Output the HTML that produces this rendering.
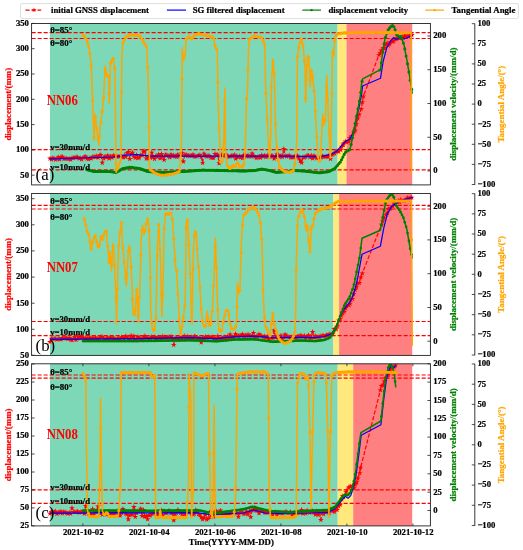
<!DOCTYPE html>
<html><head><meta charset="utf-8"><title>GNSS displacement</title>
<style>html,body{margin:0;padding:0;background:#fff}svg{display:block}</style></head>
<body>
<svg width="523" height="550" viewBox="0 0 523 550">
<rect width="523" height="550" fill="#fff"/>
<rect x="20.6" y="3.6" width="497.8" height="15" rx="1.5" fill="#fff" stroke="#d4d4d4" stroke-width="0.8"/>
<line x1="25.5" y1="10.1" x2="41.2" y2="10.1" stroke="#f00" stroke-width="1.2" stroke-dasharray="4.1 1.9"/>
<path d="M34.0,7.5L34.6,9.3L36.5,9.3L35.0,10.4L35.5,12.2L34.0,11.1L32.5,12.2L33.0,10.4L31.5,9.3L33.4,9.3Z" fill="#f00"/>
<line x1="166.9" y1="10.1" x2="186" y2="10.1" stroke="#00f" stroke-width="1.2"/>
<line x1="302.3" y1="10.1" x2="321" y2="10.1" stroke="#008000" stroke-width="1.2"/><circle cx="311.6" cy="10.1" r="1.2" fill="#008000"/>
<line x1="425.3" y1="10.1" x2="444" y2="10.1" stroke="#ffa500" stroke-width="1.2"/><circle cx="434.6" cy="10.1" r="1.2" fill="#ffa500"/>
<text x="51.0" y="13.0" font-family="Liberation Serif, serif" font-weight="bold" font-size="9.1" fill="#000" stroke="#000" stroke-width="0.22" textLength="97.9" lengthAdjust="spacingAndGlyphs">initial GNSS displacement</text>
<text x="192.7" y="13.0" font-family="Liberation Serif, serif" font-weight="bold" font-size="9.1" fill="#000" stroke="#000" stroke-width="0.22" textLength="91.9" lengthAdjust="spacingAndGlyphs">SG filtered displacement</text>
<text x="328.4" y="13.0" font-family="Liberation Serif, serif" font-weight="bold" font-size="9.1" fill="#000" stroke="#000" stroke-width="0.22" textLength="79.7" lengthAdjust="spacingAndGlyphs">displacement velocity</text>
<text x="451.5" y="13.0" font-family="Liberation Serif, serif" font-weight="bold" font-size="9.1" fill="#000" stroke="#000" stroke-width="0.22" textLength="63.9" lengthAdjust="spacingAndGlyphs">Tangential Angle</text>
<clipPath id="c0"><rect x="31.6" y="23.5" width="398.8" height="161.4"/></clipPath>
<rect x="50.0" y="23.5" width="287.6" height="161.4" fill="#7cd8b6"/>
<rect x="337.6" y="23.5" width="8.9" height="161.4" fill="#ffe87c"/>
<rect x="346.5" y="23.5" width="65.7" height="161.4" fill="#ff8080"/>
<g clip-path="url(#c0)">
<line x1="31.6" y1="32.6" x2="430.4" y2="32.6" stroke="#f00" stroke-width="1.2" stroke-dasharray="4.1 1.9"/>
<line x1="31.6" y1="38.5" x2="430.4" y2="38.5" stroke="#f00" stroke-width="1.2" stroke-dasharray="4.1 1.9"/>
<line x1="31.6" y1="149.7" x2="430.4" y2="149.7" stroke="#f00" stroke-width="1.2" stroke-dasharray="4.1 1.9"/>
<line x1="31.6" y1="169.8" x2="430.4" y2="169.8" stroke="#f00" stroke-width="1.2" stroke-dasharray="4.1 1.9"/>
<polyline points="50.0,158.5 51.4,159.3 52.8,157.8 54.1,158.5 55.5,159.7 56.9,158.9 58.2,156.9 59.6,159.4 61.0,156.8 62.4,156.7 63.8,158.7 65.1,158.4 66.5,158.7 67.9,158.7 69.2,158.8 70.6,159.4 72.0,157.9 73.4,158.1 74.8,157.7 76.1,157.1 77.5,157.3 78.9,158.3 80.2,158.0 81.6,159.3 83.0,157.8 84.4,157.1 85.8,156.4 87.1,158.6 88.5,159.2 89.9,158.1 91.2,158.3 92.6,157.0 94.0,156.6 95.4,157.0 96.8,156.0 98.1,157.7 99.5,155.5 100.9,154.8 102.2,162.7 103.6,158.3 105.0,156.5 106.4,157.2 107.8,155.4 109.1,158.5 110.5,156.4 111.9,157.5 113.2,155.5 114.6,156.3 116.0,156.0 117.4,156.9 118.8,156.5 120.1,156.2 121.5,156.0 122.9,157.5 124.2,155.3 125.6,157.0 127.0,153.2 128.4,151.9 129.8,159.0 131.1,153.9 132.5,152.6 133.9,156.7 135.2,157.8 136.6,154.9 138.0,158.0 139.4,157.5 140.8,154.9 142.1,155.2 143.5,151.6 144.9,151.2 146.2,158.4 147.6,158.3 149.0,155.9 150.4,157.9 151.8,152.6 153.1,157.1 154.5,159.0 155.9,155.9 157.2,156.7 158.6,154.4 160.0,158.4 161.4,154.0 162.8,157.2 164.1,159.8 165.5,154.7 166.9,154.9 168.2,156.2 169.6,157.2 171.0,154.4 172.4,156.2 173.8,155.4 175.1,156.3 176.5,156.8 177.9,154.5 179.2,156.6 180.6,156.4 182.0,153.0 183.4,161.5 184.8,154.9 186.1,154.5 187.5,156.0 188.9,155.5 190.2,155.9 191.6,155.8 193.0,154.4 194.4,156.6 195.8,156.5 197.1,156.2 198.5,155.4 199.9,154.9 201.2,156.8 202.6,162.8 204.0,153.7 205.4,155.8 206.8,156.5 208.1,155.5 209.5,156.2 210.9,157.6 212.2,157.8 213.6,157.9 215.0,154.1 216.4,154.9 217.8,154.8 219.1,163.2 220.5,154.6 221.9,154.9 223.2,155.7 224.6,155.7 226.0,154.8 227.4,155.8 228.8,156.7 230.1,156.3 231.5,155.8 232.9,156.1 234.2,154.7 235.6,158.7 237.0,155.8 238.4,157.3 239.8,156.0 241.1,157.4 242.5,158.1 243.9,154.9 245.2,155.1 246.6,156.6 248.0,155.3 249.4,156.4 250.8,156.5 252.1,153.5 253.5,156.0 254.9,156.6 256.2,158.0 257.6,157.3 259.0,156.4 260.4,157.8 261.8,155.2 263.1,156.6 264.5,155.5 265.9,157.1 267.2,155.2 268.6,156.0 270.0,156.8 271.4,155.7 272.8,155.8 274.1,158.5 275.5,157.1 276.9,154.2 278.2,155.0 279.6,156.9 281.0,155.8 282.4,157.0 283.8,149.0 285.1,155.7 286.5,156.5 287.9,155.9 289.2,155.5 290.6,157.4 292.0,157.2 293.4,157.3 294.8,156.5 296.1,156.6 297.5,155.7 298.9,158.1 300.2,160.5 301.6,162.6 303.0,156.9 304.4,157.6 305.8,156.9 307.1,155.4 308.5,155.4 309.9,157.3 311.2,155.4 312.6,158.3 314.0,155.7 315.4,157.1 316.8,158.2 318.1,157.4 319.5,158.4 320.9,157.5 322.2,156.0 323.6,156.8 325.0,156.4 326.4,156.6 327.8,156.7 329.1,154.9 330.5,158.8 331.9,154.7 333.1,154.2 334.6,153.3 336.1,152.1 337.1,151.0 338.6,151.5 340.8,149.9 341.6,146.7 343.3,144.5 343.8,143.1 345.6,141.4 346.9,142.4 348.7,141.6 349.7,138.1 350.7,139.0 351.8,136.1 353.9,132.7 355.3,130.3 356.4,124.3 357.8,118.4 359.3,114.4 361.2,109.0 362.4,102.2 363.4,96.3 379.0,54.8 380.0,53.2 381.3,50.4 383.3,48.1 384.4,48.2 385.5,45.1 387.1,43.2 388.3,45.5 389.7,44.1 390.4,42.0 393.0,41.8 393.7,40.6 395.0,39.4 396.3,38.9 397.6,37.7 399.1,38.0 400.3,38.0 402.1,37.3 403.4,38.0 404.7,35.6 405.6,36.4 407.9,35.6 408.8,35.6 410.0,35.0 411.9,35.0" fill="none" stroke="#f00" stroke-width="1.2" stroke-dasharray="4.1 1.9"/>
<path fill="#f00" d="M50.0,155.5L50.7,157.6L52.9,157.6L51.1,158.9L51.8,161.0L50.0,159.7L48.2,161.0L48.9,158.9L47.1,157.6L49.3,157.6ZM51.4,156.3L52.1,158.3L54.2,158.3L52.5,159.6L53.1,161.7L51.4,160.4L49.6,161.7L50.3,159.6L48.5,158.3L50.7,158.3ZM52.8,154.8L53.4,156.9L55.6,156.9L53.8,158.2L54.5,160.2L52.8,158.9L51.0,160.2L51.7,158.2L49.9,156.9L52.1,156.9ZM54.1,155.5L54.8,157.5L57.0,157.5L55.2,158.8L55.9,160.9L54.1,159.6L52.4,160.9L53.0,158.8L51.3,157.5L53.4,157.5ZM55.5,156.7L56.2,158.8L58.4,158.8L56.6,160.0L57.3,162.1L55.5,160.8L53.7,162.1L54.4,160.0L52.6,158.8L54.8,158.8ZM56.9,155.9L57.6,157.9L59.7,157.9L58.0,159.2L58.6,161.3L56.9,160.0L55.1,161.3L55.8,159.2L54.0,157.9L56.2,157.9ZM58.2,153.9L58.9,156.0L61.1,156.0L59.3,157.3L60.0,159.3L58.2,158.1L56.5,159.3L57.2,157.3L55.4,156.0L57.6,156.0ZM59.6,156.4L60.3,158.5L62.5,158.5L60.7,159.8L61.4,161.8L59.6,160.5L57.9,161.8L58.5,159.8L56.8,158.5L58.9,158.5ZM61.0,153.8L61.7,155.9L63.9,155.9L62.1,157.2L62.8,159.2L61.0,158.0L59.2,159.2L59.9,157.2L58.1,155.9L60.3,155.9ZM62.4,153.7L63.1,155.8L65.2,155.8L63.5,157.1L64.1,159.2L62.4,157.9L60.6,159.2L61.3,157.1L59.5,155.8L61.7,155.8ZM63.8,155.7L64.4,157.8L66.6,157.8L64.8,159.1L65.5,161.2L63.8,159.9L62.0,161.2L62.7,159.1L60.9,157.8L63.1,157.8ZM65.1,155.4L65.8,157.4L68.0,157.4L66.2,158.7L66.9,160.8L65.1,159.5L63.4,160.8L64.0,158.7L62.3,157.4L64.4,157.4ZM66.5,155.7L67.2,157.7L69.4,157.7L67.6,159.0L68.3,161.1L66.5,159.8L64.7,161.1L65.4,159.0L63.6,157.7L65.8,157.7ZM67.9,155.7L68.6,157.8L70.7,157.8L69.0,159.1L69.6,161.1L67.9,159.9L66.1,161.1L66.8,159.1L65.0,157.8L67.2,157.8ZM69.2,155.8L69.9,157.9L72.1,157.9L70.3,159.2L71.0,161.3L69.2,160.0L67.5,161.3L68.2,159.2L66.4,157.9L68.6,157.9ZM70.6,156.4L71.3,158.5L73.5,158.5L71.7,159.8L72.4,161.9L70.6,160.6L68.9,161.9L69.5,159.8L67.8,158.5L69.9,158.5ZM72.0,154.9L72.7,156.9L74.9,156.9L73.1,158.2L73.8,160.3L72.0,159.0L70.2,160.3L70.9,158.2L69.1,156.9L71.3,156.9ZM73.4,155.1L74.1,157.1L76.2,157.1L74.5,158.4L75.1,160.5L73.4,159.2L71.6,160.5L72.3,158.4L70.5,157.1L72.7,157.1ZM74.8,154.7L75.4,156.8L77.6,156.8L75.8,158.0L76.5,160.1L74.8,158.8L73.0,160.1L73.7,158.0L71.9,156.8L74.1,156.8ZM76.1,154.1L76.8,156.2L79.0,156.2L77.2,157.5L77.9,159.6L76.1,158.3L74.4,159.6L75.0,157.5L73.3,156.2L75.4,156.2ZM77.5,154.3L78.2,156.3L80.4,156.3L78.6,157.6L79.3,159.7L77.5,158.4L75.7,159.7L76.4,157.6L74.6,156.3L76.8,156.3ZM78.9,155.3L79.6,157.3L81.7,157.3L80.0,158.6L80.6,160.7L78.9,159.4L77.1,160.7L77.8,158.6L76.0,157.3L78.2,157.3ZM80.2,155.0L80.9,157.1L83.1,157.1L81.3,158.4L82.0,160.5L80.2,159.2L78.5,160.5L79.2,158.4L77.4,157.1L79.6,157.1ZM81.6,156.3L82.3,158.3L84.5,158.3L82.7,159.6L83.4,161.7L81.6,160.4L79.9,161.7L80.5,159.6L78.8,158.3L80.9,158.3ZM83.0,154.8L83.7,156.9L85.9,156.9L84.1,158.2L84.8,160.2L83.0,159.0L81.2,160.2L81.9,158.2L80.1,156.9L82.3,156.9ZM84.4,154.1L85.1,156.1L87.2,156.1L85.5,157.4L86.1,159.5L84.4,158.2L82.6,159.5L83.3,157.4L81.5,156.1L83.7,156.1ZM85.8,153.4L86.4,155.4L88.6,155.4L86.8,156.7L87.5,158.8L85.8,157.5L84.0,158.8L84.7,156.7L82.9,155.4L85.1,155.4ZM87.1,155.6L87.8,157.7L90.0,157.7L88.2,159.0L88.9,161.0L87.1,159.8L85.4,161.0L86.0,159.0L84.3,157.7L86.4,157.7ZM88.5,156.2L89.2,158.3L91.4,158.3L89.6,159.5L90.3,161.6L88.5,160.3L86.7,161.6L87.4,159.5L85.6,158.3L87.8,158.3ZM89.9,155.1L90.6,157.1L92.7,157.1L91.0,158.4L91.6,160.5L89.9,159.2L88.1,160.5L88.8,158.4L87.0,157.1L89.2,157.1ZM91.2,155.3L91.9,157.3L94.1,157.3L92.3,158.6L93.0,160.7L91.2,159.4L89.5,160.7L90.2,158.6L88.4,157.3L90.6,157.3ZM92.6,154.0L93.3,156.1L95.5,156.1L93.7,157.4L94.4,159.4L92.6,158.2L90.9,159.4L91.5,157.4L89.8,156.1L91.9,156.1ZM94.0,153.6L94.7,155.7L96.9,155.7L95.1,157.0L95.8,159.0L94.0,157.8L92.2,159.0L92.9,157.0L91.1,155.7L93.3,155.7ZM95.4,154.0L96.1,156.1L98.2,156.1L96.5,157.4L97.1,159.4L95.4,158.2L93.6,159.4L94.3,157.4L92.5,156.1L94.7,156.1ZM96.8,153.0L97.4,155.1L99.6,155.1L97.8,156.4L98.5,158.5L96.8,157.2L95.0,158.5L95.7,156.4L93.9,155.1L96.1,155.1ZM98.1,154.7L98.8,156.8L101.0,156.8L99.2,158.0L99.9,160.1L98.1,158.8L96.4,160.1L97.0,158.0L95.3,156.8L97.4,156.8ZM99.5,152.5L100.2,154.6L102.4,154.6L100.6,155.9L101.3,157.9L99.5,156.7L97.7,157.9L98.4,155.9L96.6,154.6L98.8,154.6ZM100.9,151.8L101.6,153.9L103.7,153.9L102.0,155.2L102.6,157.3L100.9,156.0L99.1,157.3L99.8,155.2L98.0,153.9L100.2,153.9ZM102.2,159.7L102.9,161.8L105.1,161.8L103.3,163.1L104.0,165.2L102.2,163.9L100.5,165.2L101.2,163.1L99.4,161.8L101.6,161.8ZM103.6,155.3L104.3,157.3L106.5,157.3L104.7,158.6L105.4,160.7L103.6,159.4L101.9,160.7L102.5,158.6L100.8,157.3L102.9,157.3ZM105.0,153.5L105.7,155.6L107.9,155.6L106.1,156.9L106.8,159.0L105.0,157.7L103.2,159.0L103.9,156.9L102.1,155.6L104.3,155.6ZM106.4,154.2L107.1,156.3L109.2,156.3L107.5,157.6L108.1,159.7L106.4,158.4L104.6,159.7L105.3,157.6L103.5,156.3L105.7,156.3ZM107.8,152.4L108.4,154.4L110.6,154.4L108.8,155.7L109.5,157.8L107.8,156.5L106.0,157.8L106.7,155.7L104.9,154.4L107.1,154.4ZM109.1,155.5L109.8,157.5L112.0,157.5L110.2,158.8L110.9,160.9L109.1,159.6L107.4,160.9L108.0,158.8L106.3,157.5L108.4,157.5ZM110.5,153.4L111.2,155.5L113.4,155.5L111.6,156.8L112.3,158.8L110.5,157.6L108.7,158.8L109.4,156.8L107.6,155.5L109.8,155.5ZM111.9,154.5L112.6,156.6L114.7,156.6L113.0,157.9L113.6,159.9L111.9,158.7L110.1,159.9L110.8,157.9L109.0,156.6L111.2,156.6ZM113.2,152.5L113.9,154.5L116.1,154.5L114.3,155.8L115.0,157.9L113.2,156.6L111.5,157.9L112.2,155.8L110.4,154.5L112.6,154.5ZM114.6,153.3L115.3,155.4L117.5,155.4L115.7,156.6L116.4,158.7L114.6,157.4L112.9,158.7L113.5,156.6L111.8,155.4L113.9,155.4ZM116.0,153.0L116.7,155.1L118.9,155.1L117.1,156.4L117.8,158.5L116.0,157.2L114.2,158.5L114.9,156.4L113.1,155.1L115.3,155.1ZM117.4,153.9L118.1,155.9L120.2,155.9L118.5,157.2L119.1,159.3L117.4,158.0L115.6,159.3L116.3,157.2L114.5,155.9L116.7,155.9ZM118.8,153.5L119.4,155.5L121.6,155.5L119.8,156.8L120.5,158.9L118.8,157.6L117.0,158.9L117.7,156.8L115.9,155.5L118.1,155.5ZM120.1,153.2L120.8,155.2L123.0,155.2L121.2,156.5L121.9,158.6L120.1,157.3L118.4,158.6L119.0,156.5L117.3,155.2L119.4,155.2ZM121.5,153.0L122.2,155.1L124.4,155.1L122.6,156.4L123.3,158.4L121.5,157.2L119.7,158.4L120.4,156.4L118.6,155.1L120.8,155.1ZM122.9,154.5L123.6,156.6L125.7,156.6L124.0,157.9L124.6,160.0L122.9,158.7L121.1,160.0L121.8,157.9L120.0,156.6L122.2,156.6ZM124.2,152.3L124.9,154.4L127.1,154.4L125.3,155.7L126.0,157.8L124.2,156.5L122.5,157.8L123.2,155.7L121.4,154.4L123.6,154.4ZM125.6,154.0L126.3,156.0L128.5,156.0L126.7,157.3L127.4,159.4L125.6,158.1L123.9,159.4L124.5,157.3L122.8,156.0L124.9,156.0ZM127.0,150.2L127.7,152.2L129.9,152.2L128.1,153.5L128.8,155.6L127.0,154.3L125.2,155.6L125.9,153.5L124.1,152.2L126.3,152.2ZM128.4,148.9L129.1,150.9L131.2,151.0L129.5,152.2L130.1,154.3L128.4,153.0L126.6,154.3L127.3,152.2L125.5,151.0L127.7,150.9ZM129.8,156.0L130.4,158.1L132.6,158.1L130.8,159.4L131.5,161.4L129.8,160.1L128.0,161.4L128.7,159.4L126.9,158.1L129.1,158.1ZM131.1,150.9L131.8,153.0L134.0,153.0L132.2,154.3L132.9,156.3L131.1,155.1L129.4,156.3L130.0,154.3L128.3,153.0L130.4,153.0ZM132.5,149.6L133.2,151.7L135.4,151.7L133.6,152.9L134.3,155.0L132.5,153.7L130.7,155.0L131.4,152.9L129.6,151.7L131.8,151.7ZM133.9,153.7L134.6,155.7L136.7,155.7L135.0,157.0L135.6,159.1L133.9,157.8L132.1,159.1L132.8,157.0L131.0,155.7L133.2,155.7ZM135.2,154.8L135.9,156.9L138.1,156.9L136.3,158.1L137.0,160.2L135.2,158.9L133.5,160.2L134.2,158.1L132.4,156.9L134.6,156.9ZM136.6,151.9L137.3,154.0L139.5,154.0L137.7,155.2L138.4,157.3L136.6,156.0L134.9,157.3L135.5,155.2L133.8,154.0L135.9,154.0ZM138.0,155.0L138.7,157.1L140.9,157.1L139.1,158.4L139.8,160.4L138.0,159.2L136.2,160.4L136.9,158.4L135.1,157.1L137.3,157.1ZM139.4,154.5L140.1,156.6L142.2,156.6L140.5,157.9L141.1,159.9L139.4,158.7L137.6,159.9L138.3,157.9L136.5,156.6L138.7,156.6ZM140.8,151.9L141.4,154.0L143.6,154.0L141.8,155.3L142.5,157.3L140.8,156.1L139.0,157.3L139.7,155.3L137.9,154.0L140.1,154.0ZM142.1,152.2L142.8,154.2L145.0,154.2L143.2,155.5L143.9,157.6L142.1,156.3L140.4,157.6L141.0,155.5L139.3,154.2L141.4,154.2ZM143.5,148.6L144.2,150.7L146.4,150.7L144.6,152.0L145.3,154.1L143.5,152.8L141.7,154.1L142.4,152.0L140.6,150.7L142.8,150.7ZM144.9,148.2L145.6,150.3L147.7,150.3L146.0,151.6L146.6,153.6L144.9,152.4L143.1,153.6L143.8,151.6L142.0,150.3L144.2,150.3ZM146.2,155.4L146.9,157.5L149.1,157.5L147.3,158.8L148.0,160.9L146.2,159.6L144.5,160.9L145.2,158.8L143.4,157.5L145.6,157.5ZM147.6,155.3L148.3,157.4L150.5,157.4L148.7,158.7L149.4,160.7L147.6,159.4L145.9,160.7L146.5,158.7L144.8,157.4L146.9,157.4ZM149.0,152.9L149.7,154.9L151.9,154.9L150.1,156.2L150.8,158.3L149.0,157.0L147.2,158.3L147.9,156.2L146.1,154.9L148.3,154.9ZM150.4,154.9L151.1,157.0L153.2,157.0L151.5,158.2L152.1,160.3L150.4,159.0L148.6,160.3L149.3,158.2L147.5,157.0L149.7,157.0ZM151.8,149.6L152.4,151.7L154.6,151.7L152.8,153.0L153.5,155.1L151.8,153.8L150.0,155.1L150.7,153.0L148.9,151.7L151.1,151.7ZM153.1,154.1L153.8,156.2L156.0,156.2L154.2,157.5L154.9,159.6L153.1,158.3L151.4,159.6L152.0,157.5L150.3,156.2L152.4,156.2ZM154.5,156.0L155.2,158.0L157.4,158.0L155.6,159.3L156.3,161.4L154.5,160.1L152.7,161.4L153.4,159.3L151.6,158.0L153.8,158.0ZM155.9,152.9L156.6,154.9L158.7,155.0L157.0,156.2L157.6,158.3L155.9,157.0L154.1,158.3L154.8,156.2L153.0,155.0L155.2,154.9ZM157.2,153.7L157.9,155.8L160.1,155.8L158.3,157.1L159.0,159.2L157.2,157.9L155.5,159.2L156.2,157.1L154.4,155.8L156.6,155.8ZM158.6,151.4L159.3,153.5L161.5,153.5L159.7,154.8L160.4,156.9L158.6,155.6L156.9,156.9L157.5,154.8L155.8,153.5L157.9,153.5ZM160.0,155.4L160.7,157.5L162.9,157.5L161.1,158.7L161.8,160.8L160.0,159.5L158.2,160.8L158.9,158.7L157.1,157.5L159.3,157.5ZM161.4,151.0L162.1,153.1L164.2,153.1L162.5,154.4L163.1,156.5L161.4,155.2L159.6,156.5L160.3,154.4L158.5,153.1L160.7,153.1ZM162.8,154.2L163.4,156.2L165.6,156.2L163.8,157.5L164.5,159.6L162.8,158.3L161.0,159.6L161.7,157.5L159.9,156.2L162.1,156.2ZM164.1,156.8L164.8,158.9L167.0,158.9L165.2,160.2L165.9,162.3L164.1,161.0L162.4,162.3L163.0,160.2L161.3,158.9L163.4,158.9ZM165.5,151.7L166.2,153.7L168.4,153.7L166.6,155.0L167.3,157.1L165.5,155.8L163.7,157.1L164.4,155.0L162.6,153.7L164.8,153.7ZM166.9,151.9L167.6,153.9L169.7,153.9L168.0,155.2L168.6,157.3L166.9,156.0L165.1,157.3L165.8,155.2L164.0,153.9L166.2,153.9ZM168.2,153.2L168.9,155.3L171.1,155.3L169.3,156.6L170.0,158.6L168.2,157.4L166.5,158.6L167.2,156.6L165.4,155.3L167.6,155.3ZM169.6,154.2L170.3,156.3L172.5,156.3L170.7,157.6L171.4,159.7L169.6,158.4L167.9,159.7L168.5,157.6L166.8,156.3L168.9,156.3ZM171.0,151.4L171.7,153.4L173.9,153.4L172.1,154.7L172.8,156.8L171.0,155.5L169.2,156.8L169.9,154.7L168.1,153.4L170.3,153.4ZM172.4,153.2L173.1,155.3L175.2,155.3L173.5,156.6L174.1,158.7L172.4,157.4L170.6,158.7L171.3,156.6L169.5,155.3L171.7,155.3ZM173.8,152.4L174.4,154.5L176.6,154.5L174.8,155.8L175.5,157.9L173.8,156.6L172.0,157.9L172.7,155.8L170.9,154.5L173.1,154.5ZM175.1,153.3L175.8,155.3L178.0,155.3L176.2,156.6L176.9,158.7L175.1,157.4L173.4,158.7L174.0,156.6L172.3,155.3L174.4,155.3ZM176.5,153.8L177.2,155.9L179.4,155.9L177.6,157.1L178.3,159.2L176.5,157.9L174.7,159.2L175.4,157.1L173.6,155.9L175.8,155.9ZM177.9,151.5L178.6,153.6L180.7,153.6L179.0,154.9L179.6,156.9L177.9,155.7L176.1,156.9L176.8,154.9L175.0,153.6L177.2,153.6ZM179.2,153.6L179.9,155.7L182.1,155.7L180.3,157.0L181.0,159.0L179.2,157.8L177.5,159.0L178.2,157.0L176.4,155.7L178.6,155.7ZM180.6,153.4L181.3,155.5L183.5,155.5L181.7,156.8L182.4,158.8L180.6,157.6L178.9,158.8L179.5,156.8L177.8,155.5L179.9,155.5ZM182.0,150.0L182.7,152.1L184.9,152.1L183.1,153.3L183.8,155.4L182.0,154.1L180.2,155.4L180.9,153.3L179.1,152.1L181.3,152.1ZM183.4,158.5L184.1,160.6L186.2,160.6L184.5,161.9L185.1,164.0L183.4,162.7L181.6,164.0L182.3,161.9L180.5,160.6L182.7,160.6ZM184.8,151.9L185.4,153.9L187.6,153.9L185.8,155.2L186.5,157.3L184.8,156.0L183.0,157.3L183.7,155.2L181.9,153.9L184.1,153.9ZM186.1,151.5L186.8,153.6L189.0,153.6L187.2,154.9L187.9,157.0L186.1,155.7L184.4,157.0L185.0,154.9L183.3,153.6L185.4,153.6ZM187.5,153.0L188.2,155.1L190.4,155.1L188.6,156.4L189.3,158.4L187.5,157.1L185.7,158.4L186.4,156.4L184.6,155.1L186.8,155.1ZM188.9,152.5L189.6,154.5L191.7,154.5L190.0,155.8L190.6,157.9L188.9,156.6L187.1,157.9L187.8,155.8L186.0,154.5L188.2,154.5ZM190.2,152.9L190.9,154.9L193.1,154.9L191.3,156.2L192.0,158.3L190.2,157.0L188.5,158.3L189.2,156.2L187.4,154.9L189.6,154.9ZM191.6,152.8L192.3,154.9L194.5,154.9L192.7,156.2L193.4,158.3L191.6,157.0L189.9,158.3L190.5,156.2L188.8,154.9L190.9,154.9ZM193.0,151.4L193.7,153.5L195.9,153.5L194.1,154.8L194.8,156.8L193.0,155.6L191.2,156.8L191.9,154.8L190.1,153.5L192.3,153.5ZM194.4,153.6L195.1,155.7L197.2,155.7L195.5,157.0L196.1,159.0L194.4,157.8L192.6,159.0L193.3,157.0L191.5,155.7L193.7,155.7ZM195.8,153.5L196.4,155.5L198.6,155.5L196.8,156.8L197.5,158.9L195.8,157.6L194.0,158.9L194.7,156.8L192.9,155.5L195.1,155.5ZM197.1,153.2L197.8,155.3L200.0,155.3L198.2,156.5L198.9,158.6L197.1,157.3L195.4,158.6L196.0,156.5L194.3,155.3L196.4,155.3ZM198.5,152.4L199.2,154.4L201.4,154.4L199.6,155.7L200.3,157.8L198.5,156.5L196.7,157.8L197.4,155.7L195.6,154.4L197.8,154.4ZM199.9,151.9L200.6,154.0L202.7,154.0L201.0,155.3L201.6,157.4L199.9,156.1L198.1,157.4L198.8,155.3L197.0,154.0L199.2,154.0ZM201.2,153.8L201.9,155.9L204.1,155.9L202.3,157.1L203.0,159.2L201.2,157.9L199.5,159.2L200.2,157.1L198.4,155.9L200.6,155.9ZM202.6,159.8L203.3,161.9L205.5,161.9L203.7,163.1L204.4,165.2L202.6,163.9L200.9,165.2L201.5,163.1L199.8,161.9L201.9,161.9ZM204.0,150.7L204.7,152.7L206.9,152.7L205.1,154.0L205.8,156.1L204.0,154.8L202.2,156.1L202.9,154.0L201.1,152.7L203.3,152.7ZM205.4,152.8L206.1,154.8L208.2,154.8L206.5,156.1L207.1,158.2L205.4,156.9L203.6,158.2L204.3,156.1L202.5,154.8L204.7,154.8ZM206.8,153.5L207.4,155.6L209.6,155.6L207.8,156.9L208.5,158.9L206.8,157.7L205.0,158.9L205.7,156.9L203.9,155.6L206.1,155.6ZM208.1,152.5L208.8,154.6L211.0,154.6L209.2,155.8L209.9,157.9L208.1,156.6L206.4,157.9L207.0,155.8L205.3,154.6L207.4,154.6ZM209.5,153.2L210.2,155.3L212.4,155.3L210.6,156.6L211.3,158.7L209.5,157.4L207.7,158.7L208.4,156.6L206.6,155.3L208.8,155.3ZM210.9,154.6L211.6,156.7L213.7,156.7L212.0,158.0L212.6,160.0L210.9,158.8L209.1,160.0L209.8,158.0L208.0,156.7L210.2,156.7ZM212.2,154.8L212.9,156.9L215.1,156.9L213.3,158.1L214.0,160.2L212.2,158.9L210.5,160.2L211.2,158.1L209.4,156.9L211.6,156.9ZM213.6,154.9L214.3,157.0L216.5,157.0L214.7,158.3L215.4,160.3L213.6,159.1L211.9,160.3L212.5,158.3L210.8,157.0L212.9,157.0ZM215.0,151.1L215.7,153.1L217.9,153.1L216.1,154.4L216.8,156.5L215.0,155.2L213.2,156.5L213.9,154.4L212.1,153.1L214.3,153.1ZM216.4,151.9L217.1,154.0L219.2,154.0L217.5,155.3L218.1,157.4L216.4,156.1L214.6,157.4L215.3,155.3L213.5,154.0L215.7,154.0ZM217.8,151.8L218.4,153.8L220.6,153.8L218.8,155.1L219.5,157.2L217.8,155.9L216.0,157.2L216.7,155.1L214.9,153.8L217.1,153.8ZM219.1,160.2L219.8,162.3L222.0,162.3L220.2,163.6L220.9,165.6L219.1,164.4L217.4,165.6L218.0,163.6L216.3,162.3L218.4,162.3ZM220.5,151.6L221.2,153.7L223.4,153.7L221.6,155.0L222.3,157.1L220.5,155.8L218.7,157.1L219.4,155.0L217.6,153.7L219.8,153.7ZM221.9,151.9L222.6,154.0L224.7,154.0L223.0,155.3L223.6,157.3L221.9,156.1L220.1,157.3L220.8,155.3L219.0,154.0L221.2,154.0ZM223.2,152.7L223.9,154.8L226.1,154.8L224.3,156.0L225.0,158.1L223.2,156.8L221.5,158.1L222.2,156.0L220.4,154.8L222.6,154.8ZM224.6,152.7L225.3,154.8L227.5,154.8L225.7,156.1L226.4,158.1L224.6,156.9L222.9,158.1L223.5,156.1L221.8,154.8L223.9,154.8ZM226.0,151.8L226.7,153.9L228.9,153.9L227.1,155.2L227.8,157.3L226.0,156.0L224.2,157.3L224.9,155.2L223.1,153.9L225.3,153.9ZM227.4,152.8L228.1,154.9L230.2,154.9L228.5,156.2L229.1,158.3L227.4,157.0L225.6,158.3L226.3,156.2L224.5,154.9L226.7,154.9ZM228.8,153.7L229.4,155.8L231.6,155.8L229.8,157.1L230.5,159.2L228.8,157.9L227.0,159.2L227.7,157.1L225.9,155.8L228.1,155.8ZM230.1,153.3L230.8,155.4L233.0,155.4L231.2,156.7L231.9,158.7L230.1,157.5L228.4,158.7L229.0,156.7L227.3,155.4L229.4,155.4ZM231.5,152.8L232.2,154.9L234.4,154.9L232.6,156.2L233.3,158.2L231.5,157.0L229.7,158.2L230.4,156.2L228.6,154.9L230.8,154.9ZM232.9,153.1L233.6,155.2L235.7,155.2L234.0,156.5L234.6,158.6L232.9,157.3L231.1,158.6L231.8,156.5L230.0,155.2L232.2,155.2ZM234.2,151.7L234.9,153.8L237.1,153.8L235.3,155.0L236.0,157.1L234.2,155.8L232.5,157.1L233.2,155.0L231.4,153.8L233.6,153.8ZM235.6,155.7L236.3,157.7L238.5,157.7L236.7,159.0L237.4,161.1L235.6,159.8L233.9,161.1L234.5,159.0L232.8,157.7L234.9,157.7ZM237.0,152.8L237.7,154.9L239.9,154.9L238.1,156.2L238.8,158.2L237.0,157.0L235.2,158.2L235.9,156.2L234.1,154.9L236.3,154.9ZM238.4,154.3L239.1,156.4L241.2,156.4L239.5,157.7L240.1,159.7L238.4,158.5L236.6,159.7L237.3,157.7L235.5,156.4L237.7,156.4ZM239.8,153.0L240.4,155.1L242.6,155.1L240.8,156.4L241.5,158.5L239.8,157.2L238.0,158.5L238.7,156.4L236.9,155.1L239.1,155.1ZM241.1,154.4L241.8,156.4L244.0,156.4L242.2,157.7L242.9,159.8L241.1,158.5L239.4,159.8L240.0,157.7L238.3,156.4L240.4,156.4ZM242.5,155.1L243.2,157.1L245.4,157.1L243.6,158.4L244.3,160.5L242.5,159.2L240.7,160.5L241.4,158.4L239.6,157.1L241.8,157.1ZM243.9,151.9L244.6,154.0L246.7,154.0L245.0,155.3L245.6,157.3L243.9,156.1L242.1,157.3L242.8,155.3L241.0,154.0L243.2,154.0ZM245.2,152.1L245.9,154.1L248.1,154.1L246.3,155.4L247.0,157.5L245.2,156.2L243.5,157.5L244.2,155.4L242.4,154.1L244.6,154.1ZM246.6,153.6L247.3,155.6L249.5,155.6L247.7,156.9L248.4,159.0L246.6,157.7L244.9,159.0L245.5,156.9L243.8,155.6L245.9,155.6ZM248.0,152.3L248.7,154.4L250.9,154.4L249.1,155.7L249.8,157.8L248.0,156.5L246.2,157.8L246.9,155.7L245.1,154.4L247.3,154.4ZM249.4,153.4L250.1,155.4L252.2,155.4L250.5,156.7L251.1,158.8L249.4,157.5L247.6,158.8L248.3,156.7L246.5,155.4L248.7,155.4ZM250.8,153.5L251.4,155.5L253.6,155.5L251.8,156.8L252.5,158.9L250.8,157.6L249.0,158.9L249.7,156.8L247.9,155.5L250.1,155.5ZM252.1,150.5L252.8,152.5L255.0,152.5L253.2,153.8L253.9,155.9L252.1,154.6L250.4,155.9L251.0,153.8L249.3,152.5L251.4,152.5ZM253.5,153.0L254.2,155.1L256.4,155.1L254.6,156.4L255.3,158.5L253.5,157.2L251.7,158.5L252.4,156.4L250.6,155.1L252.8,155.1ZM254.9,153.6L255.6,155.7L257.7,155.7L256.0,157.0L256.6,159.1L254.9,157.8L253.1,159.1L253.8,157.0L252.0,155.7L254.2,155.7ZM256.2,155.0L256.9,157.0L259.1,157.0L257.3,158.3L258.0,160.4L256.2,159.1L254.5,160.4L255.2,158.3L253.4,157.0L255.6,157.0ZM257.6,154.3L258.3,156.4L260.5,156.4L258.7,157.7L259.4,159.8L257.6,158.5L255.9,159.8L256.5,157.7L254.8,156.4L256.9,156.4ZM259.0,153.4L259.7,155.4L261.9,155.4L260.1,156.7L260.8,158.8L259.0,157.5L257.2,158.8L257.9,156.7L256.1,155.4L258.3,155.4ZM260.4,154.8L261.1,156.8L263.2,156.8L261.5,158.1L262.1,160.2L260.4,158.9L258.6,160.2L259.3,158.1L257.5,156.8L259.7,156.8ZM261.8,152.2L262.4,154.2L264.6,154.2L262.8,155.5L263.5,157.6L261.8,156.3L260.0,157.6L260.7,155.5L258.9,154.2L261.1,154.2ZM263.1,153.6L263.8,155.7L266.0,155.7L264.2,156.9L264.9,159.0L263.1,157.7L261.4,159.0L262.0,156.9L260.3,155.7L262.4,155.7ZM264.5,152.5L265.2,154.5L267.4,154.5L265.6,155.8L266.3,157.9L264.5,156.6L262.7,157.9L263.4,155.8L261.6,154.5L263.8,154.5ZM265.9,154.1L266.6,156.2L268.7,156.2L267.0,157.5L267.6,159.6L265.9,158.3L264.1,159.6L264.8,157.5L263.0,156.2L265.2,156.2ZM267.2,152.2L267.9,154.3L270.1,154.3L268.3,155.6L269.0,157.6L267.2,156.3L265.5,157.6L266.2,155.6L264.4,154.3L266.6,154.3ZM268.6,153.0L269.3,155.1L271.5,155.1L269.7,156.4L270.4,158.4L268.6,157.2L266.9,158.4L267.5,156.4L265.8,155.1L267.9,155.1ZM270.0,153.8L270.7,155.9L272.9,155.9L271.1,157.2L271.8,159.2L270.0,158.0L268.2,159.2L268.9,157.2L267.1,155.9L269.3,155.9ZM271.4,152.7L272.1,154.8L274.2,154.8L272.5,156.1L273.1,158.2L271.4,156.9L269.6,158.2L270.3,156.1L268.5,154.8L270.7,154.8ZM272.8,152.8L273.4,154.9L275.6,154.9L273.8,156.2L274.5,158.2L272.8,157.0L271.0,158.2L271.7,156.2L269.9,154.9L272.1,154.9ZM274.1,155.5L274.8,157.6L277.0,157.6L275.2,158.9L275.9,160.9L274.1,159.7L272.4,160.9L273.0,158.9L271.3,157.6L273.4,157.6ZM275.5,154.1L276.2,156.1L278.4,156.1L276.6,157.4L277.3,159.5L275.5,158.2L273.7,159.5L274.4,157.4L272.6,156.1L274.8,156.1ZM276.9,151.2L277.6,153.3L279.7,153.3L278.0,154.6L278.6,156.6L276.9,155.4L275.1,156.6L275.8,154.6L274.0,153.3L276.2,153.3ZM278.2,152.0L278.9,154.1L281.1,154.1L279.3,155.4L280.0,157.5L278.2,156.2L276.5,157.5L277.2,155.4L275.4,154.1L277.6,154.1ZM279.6,153.9L280.3,156.0L282.5,156.0L280.7,157.3L281.4,159.4L279.6,158.1L277.9,159.4L278.5,157.3L276.8,156.0L278.9,156.0ZM281.0,152.8L281.7,154.8L283.9,154.8L282.1,156.1L282.8,158.2L281.0,156.9L279.2,158.2L279.9,156.1L278.1,154.8L280.3,154.8ZM282.4,154.0L283.1,156.0L285.2,156.0L283.5,157.3L284.1,159.4L282.4,158.1L280.6,159.4L281.3,157.3L279.5,156.0L281.7,156.0ZM283.8,146.0L284.4,148.1L286.6,148.1L284.8,149.3L285.5,151.4L283.8,150.1L282.0,151.4L282.7,149.3L280.9,148.1L283.1,148.1ZM285.1,152.7L285.8,154.7L288.0,154.7L286.2,156.0L286.9,158.1L285.1,156.8L283.4,158.1L284.0,156.0L282.3,154.7L284.4,154.7ZM286.5,153.5L287.2,155.5L289.4,155.5L287.6,156.8L288.3,158.9L286.5,157.6L284.7,158.9L285.4,156.8L283.6,155.5L285.8,155.5ZM287.9,152.9L288.6,155.0L290.7,155.0L289.0,156.3L289.6,158.3L287.9,157.1L286.1,158.3L286.8,156.3L285.0,155.0L287.2,155.0ZM289.2,152.5L289.9,154.6L292.1,154.6L290.3,155.9L291.0,157.9L289.2,156.7L287.5,157.9L288.2,155.9L286.4,154.6L288.6,154.6ZM290.6,154.4L291.3,156.5L293.5,156.5L291.7,157.8L292.4,159.9L290.6,158.6L288.9,159.9L289.5,157.8L287.8,156.5L289.9,156.5ZM292.0,154.2L292.7,156.3L294.9,156.3L293.1,157.6L293.8,159.6L292.0,158.4L290.2,159.6L290.9,157.6L289.1,156.3L291.3,156.3ZM293.4,154.3L294.1,156.3L296.2,156.3L294.5,157.6L295.1,159.7L293.4,158.4L291.6,159.7L292.3,157.6L290.5,156.3L292.7,156.3ZM294.8,153.5L295.4,155.6L297.6,155.6L295.8,156.9L296.5,158.9L294.8,157.7L293.0,158.9L293.7,156.9L291.9,155.6L294.1,155.6ZM296.1,153.6L296.8,155.7L299.0,155.7L297.2,157.0L297.9,159.1L296.1,157.8L294.4,159.1L295.0,157.0L293.3,155.7L295.4,155.7ZM297.5,152.7L298.2,154.8L300.4,154.8L298.6,156.1L299.3,158.1L297.5,156.9L295.7,158.1L296.4,156.1L294.6,154.8L296.8,154.8ZM298.9,155.1L299.6,157.2L301.7,157.2L300.0,158.5L300.6,160.5L298.9,159.3L297.1,160.5L297.8,158.5L296.0,157.2L298.2,157.2ZM300.2,157.5L300.9,159.6L303.1,159.6L301.3,160.9L302.0,163.0L300.2,161.7L298.5,163.0L299.2,160.9L297.4,159.6L299.6,159.6ZM301.6,159.6L302.3,161.7L304.5,161.7L302.7,163.0L303.4,165.0L301.6,163.7L299.9,165.0L300.5,163.0L298.8,161.7L300.9,161.7ZM303.0,153.9L303.7,155.9L305.9,155.9L304.1,157.2L304.8,159.3L303.0,158.0L301.2,159.3L301.9,157.2L300.1,155.9L302.3,155.9ZM304.4,154.6L305.1,156.7L307.2,156.7L305.5,157.9L306.1,160.0L304.4,158.7L302.6,160.0L303.3,157.9L301.5,156.7L303.7,156.7ZM305.8,153.9L306.4,156.0L308.6,156.0L306.8,157.3L307.5,159.4L305.8,158.1L304.0,159.4L304.7,157.3L302.9,156.0L305.1,156.0ZM307.1,152.4L307.8,154.5L310.0,154.5L308.2,155.8L308.9,157.8L307.1,156.5L305.4,157.8L306.0,155.8L304.3,154.5L306.4,154.5ZM308.5,152.4L309.2,154.5L311.4,154.5L309.6,155.8L310.3,157.9L308.5,156.6L306.7,157.9L307.4,155.8L305.6,154.5L307.8,154.5ZM309.9,154.3L310.6,156.4L312.7,156.4L311.0,157.7L311.6,159.7L309.9,158.5L308.1,159.7L308.8,157.7L307.0,156.4L309.2,156.4ZM311.2,152.4L311.9,154.4L314.1,154.4L312.3,155.7L313.0,157.8L311.2,156.5L309.5,157.8L310.2,155.7L308.4,154.4L310.6,154.4ZM312.6,155.3L313.3,157.3L315.5,157.3L313.7,158.6L314.4,160.7L312.6,159.4L310.9,160.7L311.5,158.6L309.8,157.3L311.9,157.3ZM314.0,152.7L314.7,154.8L316.9,154.8L315.1,156.1L315.8,158.1L314.0,156.8L312.2,158.1L312.9,156.1L311.1,154.8L313.3,154.8ZM315.4,154.1L316.1,156.2L318.2,156.2L316.5,157.5L317.1,159.6L315.4,158.3L313.6,159.6L314.3,157.5L312.5,156.2L314.7,156.2ZM316.8,155.2L317.4,157.3L319.6,157.3L317.8,158.6L318.5,160.6L316.8,159.4L315.0,160.6L315.7,158.6L313.9,157.3L316.1,157.3ZM318.1,154.4L318.8,156.4L321.0,156.4L319.2,157.7L319.9,159.8L318.1,158.5L316.4,159.8L317.0,157.7L315.3,156.4L317.4,156.4ZM319.5,155.4L320.2,157.5L322.4,157.5L320.6,158.8L321.3,160.8L319.5,159.6L317.7,160.8L318.4,158.8L316.6,157.5L318.8,157.5ZM320.9,154.5L321.6,156.5L323.7,156.5L322.0,157.8L322.6,159.9L320.9,158.6L319.1,159.9L319.8,157.8L318.0,156.5L320.2,156.5ZM322.2,153.0L322.9,155.1L325.1,155.1L323.3,156.4L324.0,158.4L322.2,157.2L320.5,158.4L321.2,156.4L319.4,155.1L321.6,155.1ZM323.6,153.8L324.3,155.9L326.5,155.9L324.7,157.1L325.4,159.2L323.6,157.9L321.9,159.2L322.5,157.1L320.8,155.9L322.9,155.9ZM325.0,153.4L325.7,155.5L327.9,155.5L326.1,156.8L326.8,158.9L325.0,157.6L323.2,158.9L323.9,156.8L322.1,155.5L324.3,155.5ZM326.4,153.6L327.1,155.7L329.2,155.7L327.5,156.9L328.1,159.0L326.4,157.7L324.6,159.0L325.3,156.9L323.5,155.7L325.7,155.7ZM327.8,153.7L328.4,155.8L330.6,155.8L328.8,157.1L329.5,159.2L327.8,157.9L326.0,159.2L326.7,157.1L324.9,155.8L327.1,155.8ZM329.1,151.9L329.8,154.0L332.0,154.0L330.2,155.3L330.9,157.3L329.1,156.1L327.4,157.3L328.0,155.3L326.3,154.0L328.4,154.0ZM330.5,155.8L331.2,157.9L333.4,157.9L331.6,159.1L332.3,161.2L330.5,159.9L328.7,161.2L329.4,159.1L327.6,157.9L329.8,157.9ZM331.9,151.7L332.6,153.8L334.7,153.8L333.0,155.1L333.6,157.2L331.9,155.9L330.1,157.2L330.8,155.1L329.0,153.8L331.2,153.8ZM333.1,151.2L333.8,153.2L336.0,153.2L334.2,154.5L334.9,156.6L333.1,155.3L331.4,156.6L332.0,154.5L330.3,153.2L332.4,153.2ZM334.6,150.3L335.3,152.3L337.5,152.3L335.7,153.6L336.4,155.7L334.6,154.4L332.9,155.7L333.6,153.6L331.8,152.3L334.0,152.3ZM336.1,149.1L336.7,151.2L338.9,151.2L337.2,152.4L337.8,154.5L336.1,153.2L334.3,154.5L335.0,152.4L333.2,151.2L335.4,151.2ZM337.1,148.0L337.8,150.1L340.0,150.1L338.2,151.3L338.9,153.4L337.1,152.1L335.4,153.4L336.0,151.3L334.3,150.1L336.4,150.1ZM338.6,148.5L339.3,150.6L341.5,150.6L339.7,151.9L340.4,153.9L338.6,152.7L336.9,153.9L337.5,151.9L335.8,150.6L337.9,150.6ZM340.8,146.9L341.5,149.0L343.6,149.0L341.9,150.3L342.5,152.4L340.8,151.1L339.0,152.4L339.7,150.3L337.9,149.0L340.1,149.0ZM341.6,143.7L342.3,145.8L344.5,145.8L342.7,147.0L343.4,149.1L341.6,147.8L339.8,149.1L340.5,147.0L338.8,145.8L340.9,145.8ZM343.3,141.5L344.0,143.6L346.1,143.6L344.4,144.9L345.0,147.0L343.3,145.7L341.5,147.0L342.2,144.9L340.4,143.6L342.6,143.6ZM343.8,140.1L344.5,142.2L346.7,142.2L344.9,143.5L345.6,145.6L343.8,144.3L342.1,145.6L342.7,143.5L341.0,142.2L343.2,142.2ZM345.6,138.4L346.2,140.5L348.4,140.5L346.7,141.8L347.3,143.8L345.6,142.5L343.8,143.8L344.5,141.8L342.7,140.5L344.9,140.5ZM346.9,139.4L347.6,141.4L349.8,141.4L348.0,142.7L348.7,144.8L346.9,143.5L345.1,144.8L345.8,142.7L344.1,141.4L346.2,141.4ZM348.7,138.6L349.4,140.7L351.6,140.7L349.8,142.0L350.5,144.0L348.7,142.8L347.0,144.0L347.6,142.0L345.9,140.7L348.0,140.7ZM349.7,135.1L350.3,137.2L352.5,137.2L350.8,138.5L351.4,140.5L349.7,139.3L347.9,140.5L348.6,138.5L346.8,137.2L349.0,137.2ZM350.7,136.0L351.4,138.0L353.6,138.0L351.8,139.3L352.5,141.4L350.7,140.1L348.9,141.4L349.6,139.3L347.9,138.0L350.0,138.0ZM351.8,133.1L352.5,135.1L354.7,135.1L352.9,136.4L353.6,138.5L351.8,137.2L350.1,138.5L350.7,136.4L349.0,135.1L351.2,135.1ZM353.9,129.7L354.6,131.8L356.7,131.8L355.0,133.0L355.6,135.1L353.9,133.8L352.1,135.1L352.8,133.0L351.0,131.8L353.2,131.8ZM355.3,127.3L355.9,129.4L358.1,129.4L356.4,130.7L357.0,132.8L355.3,131.5L353.5,132.8L354.2,130.7L352.4,129.4L354.6,129.4ZM356.4,121.3L357.1,123.3L359.3,123.3L357.5,124.6L358.2,126.7L356.4,125.4L354.7,126.7L355.3,124.6L353.6,123.3L355.7,123.3ZM357.8,115.4L358.5,117.4L360.7,117.4L358.9,118.7L359.6,120.8L357.8,119.5L356.1,120.8L356.7,118.7L355.0,117.4L357.1,117.4ZM359.3,111.4L360.0,113.5L362.1,113.5L360.4,114.8L361.1,116.8L359.3,115.6L357.5,116.8L358.2,114.8L356.4,113.5L358.6,113.5ZM361.2,106.0L361.8,108.1L364.0,108.1L362.3,109.4L362.9,111.4L361.2,110.1L359.4,111.4L360.1,109.4L358.3,108.1L360.5,108.1ZM362.4,99.2L363.1,101.2L365.3,101.2L363.5,102.5L364.2,104.6L362.4,103.3L360.6,104.6L361.3,102.5L359.6,101.2L361.7,101.2ZM363.4,93.3L364.1,95.4L366.3,95.4L364.5,96.7L365.2,98.7L363.4,97.5L361.6,98.7L362.3,96.7L360.6,95.4L362.7,95.4ZM379.0,51.8L379.7,53.9L381.8,53.9L380.1,55.2L380.8,57.3L379.0,56.0L377.2,57.3L377.9,55.2L376.1,53.9L378.3,53.9ZM380.0,50.2L380.7,52.3L382.9,52.3L381.1,53.6L381.8,55.6L380.0,54.4L378.2,55.6L378.9,53.6L377.2,52.3L379.3,52.3ZM381.3,47.4L381.9,49.5L384.1,49.5L382.4,50.8L383.0,52.9L381.3,51.6L379.5,52.9L380.2,50.8L378.4,49.5L380.6,49.5ZM383.3,45.1L384.0,47.1L386.2,47.1L384.4,48.4L385.1,50.5L383.3,49.2L381.6,50.5L382.2,48.4L380.5,47.1L382.7,47.1ZM384.4,45.2L385.1,47.3L387.3,47.3L385.5,48.6L386.2,50.7L384.4,49.4L382.7,50.7L383.3,48.6L381.6,47.3L383.8,47.3ZM385.5,42.1L386.2,44.1L388.3,44.1L386.6,45.4L387.3,47.5L385.5,46.2L383.7,47.5L384.4,45.4L382.6,44.1L384.8,44.1ZM387.1,40.2L387.8,42.2L389.9,42.2L388.2,43.5L388.8,45.6L387.1,44.3L385.3,45.6L386.0,43.5L384.2,42.2L386.4,42.2ZM388.3,42.5L389.0,44.6L391.2,44.6L389.4,45.8L390.1,47.9L388.3,46.6L386.5,47.9L387.2,45.8L385.4,44.6L387.6,44.6ZM389.7,41.1L390.4,43.2L392.5,43.2L390.8,44.5L391.4,46.5L389.7,45.3L387.9,46.5L388.6,44.5L386.8,43.2L389.0,43.2ZM390.4,39.0L391.1,41.1L393.3,41.1L391.5,42.3L392.2,44.4L390.4,43.1L388.7,44.4L389.3,42.3L387.6,41.1L389.8,41.1ZM393.0,38.8L393.6,40.8L395.8,40.8L394.1,42.1L394.7,44.2L393.0,42.9L391.2,44.2L391.9,42.1L390.1,40.8L392.3,40.8ZM393.7,37.6L394.4,39.7L396.6,39.7L394.8,41.0L395.5,43.0L393.7,41.7L392.0,43.0L392.6,41.0L390.9,39.7L393.1,39.7ZM395.0,36.4L395.7,38.4L397.8,38.4L396.1,39.7L396.8,41.8L395.0,40.5L393.2,41.8L393.9,39.7L392.1,38.4L394.3,38.4ZM396.3,35.9L397.0,37.9L399.1,37.9L397.4,39.2L398.0,41.3L396.3,40.0L394.5,41.3L395.2,39.2L393.4,37.9L395.6,37.9ZM397.6,34.7L398.3,36.7L400.5,36.7L398.7,38.0L399.4,40.1L397.6,38.8L395.8,40.1L396.5,38.0L394.8,36.7L396.9,36.7ZM399.1,35.0L399.8,37.1L402.0,37.1L400.2,38.4L400.9,40.5L399.1,39.2L397.4,40.5L398.0,38.4L396.3,37.1L398.5,37.1ZM400.3,35.0L401.0,37.1L403.1,37.1L401.4,38.4L402.0,40.5L400.3,39.2L398.5,40.5L399.2,38.4L397.4,37.1L399.6,37.1ZM402.1,34.3L402.8,36.4L405.0,36.4L403.2,37.7L403.9,39.8L402.1,38.5L400.4,39.8L401.0,37.7L399.3,36.4L401.5,36.4ZM403.4,35.0L404.1,37.1L406.3,37.1L404.5,38.4L405.2,40.5L403.4,39.2L401.7,40.5L402.4,38.4L400.6,37.1L402.8,37.1ZM404.7,32.6L405.4,34.7L407.5,34.7L405.8,36.0L406.5,38.0L404.7,36.7L402.9,38.0L403.6,36.0L401.8,34.7L404.0,34.7ZM405.6,33.4L406.3,35.4L408.5,35.4L406.7,36.7L407.4,38.8L405.6,37.5L403.9,38.8L404.5,36.7L402.8,35.4L404.9,35.4ZM407.9,32.6L408.6,34.6L410.7,34.6L409.0,35.9L409.6,38.0L407.9,36.7L406.1,38.0L406.8,35.9L405.0,34.6L407.2,34.6ZM408.8,32.6L409.5,34.7L411.7,34.7L409.9,36.0L410.6,38.1L408.8,36.8L407.1,38.1L407.7,36.0L406.0,34.7L408.2,34.7ZM410.0,32.0L410.7,34.1L412.9,34.1L411.1,35.4L411.8,37.4L410.0,36.2L408.2,37.4L408.9,35.4L407.2,34.1L409.3,34.1ZM411.9,32.0L412.6,34.1L414.8,34.1L413.0,35.4L413.7,37.5L411.9,36.2L410.2,37.5L410.8,35.4L409.1,34.1L411.3,34.1Z"/>
<polyline points="50.0,158.8 80.0,158.0 113.0,157.0 125.0,155.3 133.6,154.3 142.0,155.3 151.0,156.1 200.0,156.2 245.0,156.0 285.0,156.2 319.4,156.6 329.0,155.2 336.6,151.4 342.4,144.7 346.2,140.9 350.0,139.0 352.9,133.2 355.7,121.8 359.6,104.6 361.5,95.0 362.6,86.0 380.5,78.3 383.0,62.1 386.8,47.7 390.7,41.0 393.5,37.6 396.4,39.5 400.2,37.6 405.0,38.5 408.8,37.2 412.3,34.9" fill="none" stroke="#0000ff" stroke-width="1.25" stroke-linejoin="round"/>
<polyline points="86.5,169.6 94.0,171.5 110.0,171.5 116.0,172.4 122.8,168.6 130.4,167.3 140.0,168.6 147.7,171.5 155.0,172.0 164.0,172.4 183.0,171.5 202.0,170.1 221.0,170.5 245.0,171.0 255.0,170.5 262.0,169.0 270.0,170.5 276.0,172.4 285.0,171.7 294.6,170.5 304.0,171.0 319.4,172.8 329.0,171.5 334.7,168.6 340.4,161.9 344.3,154.3 346.2,151.4 350.0,149.5 351.9,140.9 354.8,125.6 357.7,110.3 360.5,95.0 361.4,85.0 362.6,78.9 380.5,69.7 382.4,54.4 384.9,39.1 387.8,30.5 390.7,26.7 392.6,25.4 394.5,27.6 396.4,34.3 399.3,37.2 401.2,36.3 404.0,44.9 406.9,60.2 409.8,77.4 412.3,93.6" fill="none" stroke="#008000" stroke-width="1.5" stroke-linejoin="round"/>
<g fill="#008000"><circle cx="87.1" cy="169.8" r="1.55"/><circle cx="88.5" cy="170.1" r="1.55"/><circle cx="89.9" cy="170.5" r="1.55"/><circle cx="91.2" cy="170.8" r="1.55"/><circle cx="92.6" cy="171.2" r="1.55"/><circle cx="94.0" cy="171.5" r="1.55"/><circle cx="95.4" cy="171.5" r="1.55"/><circle cx="96.8" cy="171.5" r="1.55"/><circle cx="98.1" cy="171.5" r="1.55"/><circle cx="99.5" cy="171.5" r="1.55"/><circle cx="100.9" cy="171.5" r="1.55"/><circle cx="102.2" cy="171.5" r="1.55"/><circle cx="103.6" cy="171.5" r="1.55"/><circle cx="105.0" cy="171.5" r="1.55"/><circle cx="106.4" cy="171.5" r="1.55"/><circle cx="107.8" cy="171.5" r="1.55"/><circle cx="109.1" cy="171.5" r="1.55"/><circle cx="110.5" cy="171.6" r="1.55"/><circle cx="111.9" cy="171.8" r="1.55"/><circle cx="113.2" cy="172.0" r="1.55"/><circle cx="114.6" cy="172.2" r="1.55"/><circle cx="116.0" cy="172.4" r="1.55"/><circle cx="117.4" cy="171.6" r="1.55"/><circle cx="118.8" cy="170.9" r="1.55"/><circle cx="120.1" cy="170.1" r="1.55"/><circle cx="121.5" cy="169.3" r="1.55"/><circle cx="122.9" cy="168.6" r="1.55"/><circle cx="124.2" cy="168.4" r="1.55"/><circle cx="125.6" cy="168.1" r="1.55"/><circle cx="127.0" cy="167.9" r="1.55"/><circle cx="128.4" cy="167.6" r="1.55"/><circle cx="129.8" cy="167.4" r="1.55"/><circle cx="131.1" cy="167.4" r="1.55"/><circle cx="132.5" cy="167.6" r="1.55"/><circle cx="133.9" cy="167.8" r="1.55"/><circle cx="135.2" cy="168.0" r="1.55"/><circle cx="136.6" cy="168.1" r="1.55"/><circle cx="138.0" cy="168.3" r="1.55"/><circle cx="139.4" cy="168.5" r="1.55"/><circle cx="140.8" cy="168.9" r="1.55"/><circle cx="142.1" cy="169.4" r="1.55"/><circle cx="143.5" cy="169.9" r="1.55"/><circle cx="144.9" cy="170.4" r="1.55"/><circle cx="146.2" cy="171.0" r="1.55"/><circle cx="147.6" cy="171.5" r="1.55"/><circle cx="149.0" cy="171.6" r="1.55"/><circle cx="150.4" cy="171.7" r="1.55"/><circle cx="151.8" cy="171.8" r="1.55"/><circle cx="153.1" cy="171.9" r="1.55"/><circle cx="154.5" cy="172.0" r="1.55"/><circle cx="155.9" cy="172.0" r="1.55"/><circle cx="157.2" cy="172.1" r="1.55"/><circle cx="158.6" cy="172.2" r="1.55"/><circle cx="160.0" cy="172.2" r="1.55"/><circle cx="161.4" cy="172.3" r="1.55"/><circle cx="162.8" cy="172.3" r="1.55"/><circle cx="164.1" cy="172.4" r="1.55"/><circle cx="165.5" cy="172.3" r="1.55"/><circle cx="166.9" cy="172.3" r="1.55"/><circle cx="168.2" cy="172.2" r="1.55"/><circle cx="169.6" cy="172.1" r="1.55"/><circle cx="171.0" cy="172.1" r="1.55"/><circle cx="172.4" cy="172.0" r="1.55"/><circle cx="173.8" cy="171.9" r="1.55"/><circle cx="175.1" cy="171.9" r="1.55"/><circle cx="176.5" cy="171.8" r="1.55"/><circle cx="177.9" cy="171.7" r="1.55"/><circle cx="179.2" cy="171.7" r="1.55"/><circle cx="180.6" cy="171.6" r="1.55"/><circle cx="182.0" cy="171.5" r="1.55"/><circle cx="183.4" cy="171.5" r="1.55"/><circle cx="184.8" cy="171.4" r="1.55"/><circle cx="186.1" cy="171.3" r="1.55"/><circle cx="187.5" cy="171.2" r="1.55"/><circle cx="188.9" cy="171.1" r="1.55"/><circle cx="190.2" cy="171.0" r="1.55"/><circle cx="191.6" cy="170.9" r="1.55"/><circle cx="193.0" cy="170.8" r="1.55"/><circle cx="194.4" cy="170.7" r="1.55"/><circle cx="195.8" cy="170.6" r="1.55"/><circle cx="197.1" cy="170.5" r="1.55"/><circle cx="198.5" cy="170.4" r="1.55"/><circle cx="199.9" cy="170.3" r="1.55"/><circle cx="201.2" cy="170.2" r="1.55"/><circle cx="202.6" cy="170.1" r="1.55"/><circle cx="204.0" cy="170.1" r="1.55"/><circle cx="205.4" cy="170.2" r="1.55"/><circle cx="206.8" cy="170.2" r="1.55"/><circle cx="208.1" cy="170.2" r="1.55"/><circle cx="209.5" cy="170.3" r="1.55"/><circle cx="210.9" cy="170.3" r="1.55"/><circle cx="212.2" cy="170.3" r="1.55"/><circle cx="213.6" cy="170.3" r="1.55"/><circle cx="215.0" cy="170.4" r="1.55"/><circle cx="216.4" cy="170.4" r="1.55"/><circle cx="217.8" cy="170.4" r="1.55"/><circle cx="219.1" cy="170.5" r="1.55"/><circle cx="220.5" cy="170.5" r="1.55"/><circle cx="221.9" cy="170.5" r="1.55"/><circle cx="223.2" cy="170.5" r="1.55"/><circle cx="224.6" cy="170.6" r="1.55"/><circle cx="226.0" cy="170.6" r="1.55"/><circle cx="227.4" cy="170.6" r="1.55"/><circle cx="228.8" cy="170.7" r="1.55"/><circle cx="230.1" cy="170.7" r="1.55"/><circle cx="231.5" cy="170.7" r="1.55"/><circle cx="232.9" cy="170.7" r="1.55"/><circle cx="234.2" cy="170.8" r="1.55"/><circle cx="235.6" cy="170.8" r="1.55"/><circle cx="237.0" cy="170.8" r="1.55"/><circle cx="238.4" cy="170.9" r="1.55"/><circle cx="239.8" cy="170.9" r="1.55"/><circle cx="241.1" cy="170.9" r="1.55"/><circle cx="242.5" cy="170.9" r="1.55"/><circle cx="243.9" cy="171.0" r="1.55"/><circle cx="245.2" cy="171.0" r="1.55"/><circle cx="246.6" cy="170.9" r="1.55"/><circle cx="248.0" cy="170.8" r="1.55"/><circle cx="249.4" cy="170.8" r="1.55"/><circle cx="250.8" cy="170.7" r="1.55"/><circle cx="252.1" cy="170.6" r="1.55"/><circle cx="253.5" cy="170.6" r="1.55"/><circle cx="254.9" cy="170.5" r="1.55"/><circle cx="256.2" cy="170.2" r="1.55"/><circle cx="257.6" cy="169.9" r="1.55"/><circle cx="259.0" cy="169.6" r="1.55"/><circle cx="260.4" cy="169.3" r="1.55"/><circle cx="261.8" cy="169.1" r="1.55"/><circle cx="263.1" cy="169.2" r="1.55"/><circle cx="264.5" cy="169.5" r="1.55"/><circle cx="265.9" cy="169.7" r="1.55"/><circle cx="267.2" cy="170.0" r="1.55"/><circle cx="268.6" cy="170.2" r="1.55"/><circle cx="270.0" cy="170.5" r="1.55"/><circle cx="271.4" cy="170.9" r="1.55"/><circle cx="272.8" cy="171.4" r="1.55"/><circle cx="274.1" cy="171.8" r="1.55"/><circle cx="275.5" cy="172.2" r="1.55"/><circle cx="276.9" cy="172.3" r="1.55"/><circle cx="278.2" cy="172.2" r="1.55"/><circle cx="279.6" cy="172.1" r="1.55"/><circle cx="281.0" cy="172.0" r="1.55"/><circle cx="282.4" cy="171.9" r="1.55"/><circle cx="283.8" cy="171.8" r="1.55"/><circle cx="285.1" cy="171.7" r="1.55"/><circle cx="286.5" cy="171.5" r="1.55"/><circle cx="287.9" cy="171.3" r="1.55"/><circle cx="289.2" cy="171.2" r="1.55"/><circle cx="290.6" cy="171.0" r="1.55"/><circle cx="292.0" cy="170.8" r="1.55"/><circle cx="293.4" cy="170.7" r="1.55"/><circle cx="294.8" cy="170.5" r="1.55"/><circle cx="296.1" cy="170.6" r="1.55"/><circle cx="297.5" cy="170.7" r="1.55"/><circle cx="298.9" cy="170.7" r="1.55"/><circle cx="300.2" cy="170.8" r="1.55"/><circle cx="301.6" cy="170.9" r="1.55"/><circle cx="303.0" cy="170.9" r="1.55"/><circle cx="304.4" cy="171.0" r="1.55"/><circle cx="305.8" cy="171.2" r="1.55"/><circle cx="307.1" cy="171.4" r="1.55"/><circle cx="308.5" cy="171.5" r="1.55"/><circle cx="309.9" cy="171.7" r="1.55"/><circle cx="311.2" cy="171.8" r="1.55"/><circle cx="312.6" cy="172.0" r="1.55"/><circle cx="314.0" cy="172.2" r="1.55"/><circle cx="315.4" cy="172.3" r="1.55"/><circle cx="316.8" cy="172.5" r="1.55"/><circle cx="318.1" cy="172.7" r="1.55"/><circle cx="319.5" cy="172.8" r="1.55"/><circle cx="320.9" cy="172.6" r="1.55"/><circle cx="322.2" cy="172.4" r="1.55"/><circle cx="323.6" cy="172.2" r="1.55"/><circle cx="325.0" cy="172.0" r="1.55"/><circle cx="326.4" cy="171.9" r="1.55"/><circle cx="327.8" cy="171.7" r="1.55"/><circle cx="329.1" cy="171.4" r="1.55"/><circle cx="330.5" cy="170.7" r="1.55"/><circle cx="331.9" cy="170.0" r="1.55"/><circle cx="333.2" cy="169.3" r="1.55"/><circle cx="334.6" cy="168.6" r="1.55"/><circle cx="336.0" cy="167.1" r="1.55"/><circle cx="337.4" cy="165.5" r="1.55"/><circle cx="338.8" cy="163.8" r="1.55"/><circle cx="340.1" cy="162.2" r="1.55"/><circle cx="341.5" cy="159.8" r="1.55"/><circle cx="342.9" cy="157.1" r="1.55"/><circle cx="344.2" cy="154.4" r="1.55"/><circle cx="345.6" cy="152.3" r="1.55"/><circle cx="347.0" cy="151.0" r="1.55"/><circle cx="348.4" cy="150.3" r="1.55"/><circle cx="349.8" cy="149.6" r="1.55"/><circle cx="351.1" cy="144.4" r="1.55"/><circle cx="352.5" cy="137.7" r="1.55"/><circle cx="353.9" cy="130.5" r="1.55"/><circle cx="355.2" cy="123.2" r="1.55"/><circle cx="356.6" cy="116.0" r="1.55"/><circle cx="358.0" cy="108.7" r="1.55"/><circle cx="359.4" cy="101.1" r="1.55"/><circle cx="360.8" cy="92.2" r="1.55"/><circle cx="362.1" cy="81.3" r="1.55"/><circle cx="380.0" cy="70.0" r="1.55"/><circle cx="381.4" cy="62.7" r="1.55"/><circle cx="382.8" cy="52.3" r="1.55"/><circle cx="384.1" cy="43.8" r="1.55"/><circle cx="385.5" cy="37.3" r="1.55"/><circle cx="386.9" cy="33.2" r="1.55"/><circle cx="388.2" cy="29.9" r="1.55"/><circle cx="389.6" cy="28.1" r="1.55"/><circle cx="391.0" cy="26.5" r="1.55"/><circle cx="392.4" cy="25.6" r="1.55"/><circle cx="393.8" cy="26.7" r="1.55"/><circle cx="395.1" cy="29.8" r="1.55"/><circle cx="396.5" cy="34.4" r="1.55"/><circle cx="397.9" cy="35.8" r="1.55"/><circle cx="399.2" cy="37.1" r="1.55"/><circle cx="400.6" cy="36.6" r="1.55"/><circle cx="402.0" cy="38.8" r="1.55"/><circle cx="403.4" cy="43.0" r="1.55"/><circle cx="404.8" cy="48.9" r="1.55"/><circle cx="406.1" cy="56.1" r="1.55"/><circle cx="407.5" cy="63.8" r="1.55"/><circle cx="408.9" cy="71.9" r="1.55"/><circle cx="410.2" cy="80.3" r="1.55"/><circle cx="411.6" cy="89.2" r="1.55"/></g>
<polyline points="82.3,33.8 86.5,39.1 89.3,48.7 91.3,65.9 92.6,100.0 94.1,139.9 95.1,114.1 96.4,125.6 98.9,145.1 99.9,129.4 101.8,116.0 103.7,96.5 105.2,65.9 106.5,75.5 109.0,76.4 109.2,103.6 110.4,63.0 113.2,58.2 114.8,69.7 115.3,100.0 116.1,172.4 120.9,160.0 121.8,58.2 122.8,42.9 125.7,37.2 130.4,34.9 140.0,35.7 143.4,42.0 146.7,46.8 148.0,75.4 148.6,100.0 149.6,169.6 151.5,170.5 155.3,173.4 161.0,175.3 164.1,175.3 173.7,173.8 179.4,171.5 181.3,150.0 181.8,100.0 182.3,47.7 183.2,60.2 185.2,54.4 186.1,39.1 189.0,36.3 191.8,39.1 193.8,35.3 198.5,33.8 210.0,36.3 213.5,37.2 215.4,47.7 217.3,49.6 218.0,100.0 220.5,161.9 222.4,161.9 223.8,140.0 224.9,87.9 225.5,152.4 227.4,165.7 230.3,168.6 233.2,164.8 235.1,167.7 237.6,161.9 239.9,167.3 243.7,165.7 245.2,152.0 246.5,100.0 247.5,90.7 248.5,48.7 249.4,39.1 254.2,35.7 261.8,37.6 264.7,44.9 265.7,89.8 267.6,126.5 269.5,159.0 270.8,133.0 271.4,85.0 272.9,59.2 274.3,75.4 275.8,136.1 278.1,160.0 280.0,167.7 283.8,171.1 289.6,172.4 293.4,170.5 295.3,161.9 296.8,140.9 297.4,57.3 299.3,44.9 301.8,38.7 303.5,48.7 305.1,69.7 305.6,102.6 306.4,80.0 307.6,55.4 308.9,58.2 310.2,86.9 311.4,68.8 312.7,77.4 314.6,96.9 316.5,133.0 318.5,161.9 320.4,160.0 322.3,123.7 322.9,114.1 324.2,124.6 325.5,117.9 326.7,75.4 329.4,139.9 330.3,158.1 330.9,140.0 331.8,100.0 332.4,50.6 333.8,56.3 334.7,39.1 336.6,34.3 342.4,33.0 361.5,32.4 385.0,32.6 411.1,32.8 411.4,173.9" fill="none" stroke="#ffa500" stroke-width="1.5" stroke-linejoin="round"/>
<g fill="#ffa500"><circle cx="83.0" cy="34.7" r="1.55"/><circle cx="84.4" cy="36.4" r="1.55"/><circle cx="85.8" cy="38.2" r="1.55"/><circle cx="87.1" cy="41.2" r="1.55"/><circle cx="88.5" cy="46.0" r="1.55"/><circle cx="89.9" cy="53.6" r="1.55"/><circle cx="91.2" cy="65.5" r="1.55"/><circle cx="92.6" cy="100.7" r="1.55"/><circle cx="94.0" cy="137.2" r="1.55"/><circle cx="95.4" cy="116.5" r="1.55"/><circle cx="96.8" cy="128.3" r="1.55"/><circle cx="98.1" cy="139.1" r="1.55"/><circle cx="99.5" cy="135.7" r="1.55"/><circle cx="100.9" cy="122.5" r="1.55"/><circle cx="102.2" cy="111.4" r="1.55"/><circle cx="103.6" cy="97.3" r="1.55"/><circle cx="105.0" cy="70.0" r="1.55"/><circle cx="106.4" cy="74.6" r="1.55"/><circle cx="107.8" cy="76.0" r="1.55"/><circle cx="109.1" cy="93.4" r="1.55"/><circle cx="110.5" cy="62.8" r="1.55"/><circle cx="111.9" cy="60.5" r="1.55"/><circle cx="113.2" cy="58.6" r="1.55"/><circle cx="114.6" cy="68.4" r="1.55"/><circle cx="116.0" cy="163.4" r="1.55"/><circle cx="117.4" cy="169.1" r="1.55"/><circle cx="118.8" cy="165.6" r="1.55"/><circle cx="120.1" cy="162.0" r="1.55"/><circle cx="121.5" cy="92.1" r="1.55"/><circle cx="122.9" cy="42.8" r="1.55"/><circle cx="124.2" cy="40.0" r="1.55"/><circle cx="125.6" cy="37.3" r="1.55"/><circle cx="127.0" cy="36.6" r="1.55"/><circle cx="128.4" cy="35.9" r="1.55"/><circle cx="129.8" cy="35.2" r="1.55"/><circle cx="131.1" cy="35.0" r="1.55"/><circle cx="132.5" cy="35.1" r="1.55"/><circle cx="133.9" cy="35.2" r="1.55"/><circle cx="135.2" cy="35.3" r="1.55"/><circle cx="136.6" cy="35.4" r="1.55"/><circle cx="138.0" cy="35.5" r="1.55"/><circle cx="139.4" cy="35.6" r="1.55"/><circle cx="140.8" cy="37.1" r="1.55"/><circle cx="142.1" cy="39.6" r="1.55"/><circle cx="143.5" cy="42.1" r="1.55"/><circle cx="144.9" cy="44.1" r="1.55"/><circle cx="146.2" cy="46.1" r="1.55"/><circle cx="147.6" cy="67.2" r="1.55"/><circle cx="149.0" cy="127.8" r="1.55"/><circle cx="150.4" cy="170.0" r="1.55"/><circle cx="151.8" cy="170.7" r="1.55"/><circle cx="153.1" cy="171.7" r="1.55"/><circle cx="154.5" cy="172.8" r="1.55"/><circle cx="155.9" cy="173.6" r="1.55"/><circle cx="157.2" cy="174.1" r="1.55"/><circle cx="158.6" cy="174.5" r="1.55"/><circle cx="160.0" cy="175.0" r="1.55"/><circle cx="161.4" cy="175.3" r="1.55"/><circle cx="162.8" cy="175.3" r="1.55"/><circle cx="164.1" cy="175.3" r="1.55"/><circle cx="165.5" cy="175.1" r="1.55"/><circle cx="166.9" cy="174.9" r="1.55"/><circle cx="168.2" cy="174.7" r="1.55"/><circle cx="169.6" cy="174.4" r="1.55"/><circle cx="171.0" cy="174.2" r="1.55"/><circle cx="172.4" cy="174.0" r="1.55"/><circle cx="173.8" cy="173.8" r="1.55"/><circle cx="175.1" cy="173.2" r="1.55"/><circle cx="176.5" cy="172.7" r="1.55"/><circle cx="177.9" cy="172.1" r="1.55"/><circle cx="179.2" cy="171.6" r="1.55"/><circle cx="180.6" cy="157.6" r="1.55"/><circle cx="182.0" cy="79.1" r="1.55"/><circle cx="183.4" cy="59.7" r="1.55"/><circle cx="184.8" cy="55.7" r="1.55"/><circle cx="186.1" cy="39.1" r="1.55"/><circle cx="187.5" cy="37.7" r="1.55"/><circle cx="188.9" cy="36.4" r="1.55"/><circle cx="190.2" cy="37.5" r="1.55"/><circle cx="191.6" cy="38.9" r="1.55"/><circle cx="193.0" cy="36.8" r="1.55"/><circle cx="194.4" cy="35.1" r="1.55"/><circle cx="195.8" cy="34.7" r="1.55"/><circle cx="197.1" cy="34.2" r="1.55"/><circle cx="198.5" cy="33.8" r="1.55"/><circle cx="199.9" cy="34.1" r="1.55"/><circle cx="201.2" cy="34.4" r="1.55"/><circle cx="202.6" cy="34.7" r="1.55"/><circle cx="204.0" cy="35.0" r="1.55"/><circle cx="205.4" cy="35.3" r="1.55"/><circle cx="206.8" cy="35.6" r="1.55"/><circle cx="208.1" cy="35.9" r="1.55"/><circle cx="209.5" cy="36.2" r="1.55"/><circle cx="210.9" cy="36.5" r="1.55"/><circle cx="212.2" cy="36.9" r="1.55"/><circle cx="213.6" cy="37.9" r="1.55"/><circle cx="215.0" cy="45.5" r="1.55"/><circle cx="216.4" cy="48.7" r="1.55"/><circle cx="217.8" cy="82.0" r="1.55"/><circle cx="219.1" cy="127.9" r="1.55"/><circle cx="220.5" cy="161.9" r="1.55"/><circle cx="221.9" cy="161.9" r="1.55"/><circle cx="223.2" cy="148.6" r="1.55"/><circle cx="224.6" cy="100.9" r="1.55"/><circle cx="226.0" cy="155.9" r="1.55"/><circle cx="227.4" cy="165.5" r="1.55"/><circle cx="228.8" cy="167.0" r="1.55"/><circle cx="230.1" cy="168.4" r="1.55"/><circle cx="231.5" cy="167.0" r="1.55"/><circle cx="232.9" cy="165.2" r="1.55"/><circle cx="234.2" cy="166.4" r="1.55"/><circle cx="235.6" cy="166.5" r="1.55"/><circle cx="237.0" cy="163.3" r="1.55"/><circle cx="238.4" cy="163.7" r="1.55"/><circle cx="239.8" cy="166.9" r="1.55"/><circle cx="241.1" cy="166.8" r="1.55"/><circle cx="242.5" cy="166.2" r="1.55"/><circle cx="243.9" cy="164.1" r="1.55"/><circle cx="245.2" cy="150.0" r="1.55"/><circle cx="246.6" cy="98.8" r="1.55"/><circle cx="248.0" cy="69.7" r="1.55"/><circle cx="249.4" cy="39.4" r="1.55"/><circle cx="250.8" cy="38.1" r="1.55"/><circle cx="252.1" cy="37.2" r="1.55"/><circle cx="253.5" cy="36.2" r="1.55"/><circle cx="254.9" cy="35.9" r="1.55"/><circle cx="256.2" cy="36.2" r="1.55"/><circle cx="257.6" cy="36.6" r="1.55"/><circle cx="259.0" cy="36.9" r="1.55"/><circle cx="260.4" cy="37.2" r="1.55"/><circle cx="261.8" cy="37.6" r="1.55"/><circle cx="263.1" cy="40.9" r="1.55"/><circle cx="264.5" cy="44.4" r="1.55"/><circle cx="265.9" cy="93.2" r="1.55"/><circle cx="267.2" cy="119.7" r="1.55"/><circle cx="268.6" cy="144.0" r="1.55"/><circle cx="270.0" cy="149.0" r="1.55"/><circle cx="271.4" cy="87.0" r="1.55"/><circle cx="272.8" cy="61.8" r="1.55"/><circle cx="274.1" cy="73.4" r="1.55"/><circle cx="275.5" cy="124.0" r="1.55"/><circle cx="276.9" cy="147.3" r="1.55"/><circle cx="278.2" cy="160.6" r="1.55"/><circle cx="279.6" cy="166.2" r="1.55"/><circle cx="281.0" cy="168.6" r="1.55"/><circle cx="282.4" cy="169.8" r="1.55"/><circle cx="283.8" cy="171.1" r="1.55"/><circle cx="285.1" cy="171.4" r="1.55"/><circle cx="286.5" cy="171.7" r="1.55"/><circle cx="287.9" cy="172.0" r="1.55"/><circle cx="289.2" cy="172.3" r="1.55"/><circle cx="290.6" cy="171.9" r="1.55"/><circle cx="292.0" cy="171.2" r="1.55"/><circle cx="293.4" cy="170.5" r="1.55"/><circle cx="294.8" cy="164.4" r="1.55"/><circle cx="296.1" cy="150.4" r="1.55"/><circle cx="297.5" cy="56.6" r="1.55"/><circle cx="298.9" cy="47.7" r="1.55"/><circle cx="300.2" cy="42.5" r="1.55"/><circle cx="301.6" cy="39.1" r="1.55"/><circle cx="303.0" cy="45.8" r="1.55"/><circle cx="304.4" cy="60.2" r="1.55"/><circle cx="305.8" cy="98.4" r="1.55"/><circle cx="307.1" cy="65.1" r="1.55"/><circle cx="308.5" cy="57.3" r="1.55"/><circle cx="309.9" cy="79.7" r="1.55"/><circle cx="311.2" cy="71.1" r="1.55"/><circle cx="312.6" cy="76.9" r="1.55"/><circle cx="314.0" cy="90.7" r="1.55"/><circle cx="315.4" cy="111.6" r="1.55"/><circle cx="316.8" cy="136.6" r="1.55"/><circle cx="318.1" cy="156.5" r="1.55"/><circle cx="319.5" cy="160.9" r="1.55"/><circle cx="320.9" cy="150.9" r="1.55"/><circle cx="322.2" cy="124.7" r="1.55"/><circle cx="323.6" cy="120.0" r="1.55"/><circle cx="325.0" cy="120.5" r="1.55"/><circle cx="326.4" cy="86.9" r="1.55"/><circle cx="327.8" cy="100.5" r="1.55"/><circle cx="329.1" cy="133.3" r="1.55"/><circle cx="330.5" cy="152.1" r="1.55"/><circle cx="331.9" cy="93.8" r="1.55"/><circle cx="333.2" cy="54.1" r="1.55"/><circle cx="334.6" cy="40.5" r="1.55"/><circle cx="336.0" cy="35.8" r="1.55"/><circle cx="337.4" cy="34.1" r="1.55"/><circle cx="338.8" cy="33.8" r="1.55"/><circle cx="340.1" cy="33.5" r="1.55"/><circle cx="341.5" cy="33.2" r="1.55"/><circle cx="342.9" cy="33.0" r="1.55"/><circle cx="344.2" cy="32.9" r="1.55"/><circle cx="345.6" cy="32.9" r="1.55"/><circle cx="347.0" cy="32.9" r="1.55"/><circle cx="348.4" cy="32.8" r="1.55"/><circle cx="349.8" cy="32.8" r="1.55"/><circle cx="351.1" cy="32.7" r="1.55"/><circle cx="352.5" cy="32.7" r="1.55"/><circle cx="353.9" cy="32.6" r="1.55"/><circle cx="355.2" cy="32.6" r="1.55"/><circle cx="356.6" cy="32.6" r="1.55"/><circle cx="358.0" cy="32.5" r="1.55"/><circle cx="359.4" cy="32.5" r="1.55"/><circle cx="360.8" cy="32.4" r="1.55"/><circle cx="362.1" cy="32.4" r="1.55"/><circle cx="363.5" cy="32.4" r="1.55"/><circle cx="364.9" cy="32.4" r="1.55"/><circle cx="366.2" cy="32.4" r="1.55"/><circle cx="367.6" cy="32.5" r="1.55"/><circle cx="369.0" cy="32.5" r="1.55"/><circle cx="370.4" cy="32.5" r="1.55"/><circle cx="371.8" cy="32.5" r="1.55"/><circle cx="373.1" cy="32.5" r="1.55"/><circle cx="374.5" cy="32.5" r="1.55"/><circle cx="375.9" cy="32.5" r="1.55"/><circle cx="377.2" cy="32.5" r="1.55"/><circle cx="378.6" cy="32.5" r="1.55"/><circle cx="380.0" cy="32.6" r="1.55"/><circle cx="381.4" cy="32.6" r="1.55"/><circle cx="382.8" cy="32.6" r="1.55"/><circle cx="384.1" cy="32.6" r="1.55"/><circle cx="385.5" cy="32.6" r="1.55"/><circle cx="386.9" cy="32.6" r="1.55"/><circle cx="388.2" cy="32.6" r="1.55"/><circle cx="389.6" cy="32.6" r="1.55"/><circle cx="391.0" cy="32.6" r="1.55"/><circle cx="392.4" cy="32.7" r="1.55"/><circle cx="393.8" cy="32.7" r="1.55"/><circle cx="395.1" cy="32.7" r="1.55"/><circle cx="396.5" cy="32.7" r="1.55"/><circle cx="397.9" cy="32.7" r="1.55"/><circle cx="399.2" cy="32.7" r="1.55"/><circle cx="400.6" cy="32.7" r="1.55"/><circle cx="402.0" cy="32.7" r="1.55"/><circle cx="403.4" cy="32.7" r="1.55"/><circle cx="404.8" cy="32.8" r="1.55"/><circle cx="406.1" cy="32.8" r="1.55"/><circle cx="407.5" cy="32.8" r="1.55"/><circle cx="408.9" cy="32.8" r="1.55"/><circle cx="410.2" cy="32.8" r="1.55"/></g>
</g>
<text x="50.2" y="33.4" font-family="Liberation Serif, serif" font-weight="bold" font-size="9.1" fill="#000" stroke="#000" stroke-width="0.22" textLength="22.1" lengthAdjust="spacingAndGlyphs">θ=85°</text>
<text x="50.2" y="46.1" font-family="Liberation Serif, serif" font-weight="bold" font-size="9.1" fill="#000" stroke="#000" stroke-width="0.22" textLength="22.1" lengthAdjust="spacingAndGlyphs">θ=80°</text>
<text x="50.2" y="150.4" font-family="Liberation Serif, serif" font-weight="bold" font-size="9.1" fill="#000" stroke="#000" stroke-width="0.22" textLength="39.8" lengthAdjust="spacingAndGlyphs">v=30mm/d</text>
<text x="50.2" y="170.4" font-family="Liberation Serif, serif" font-weight="bold" font-size="9.1" fill="#000" stroke="#000" stroke-width="0.22" textLength="39.8" lengthAdjust="spacingAndGlyphs">v=10mm/d</text>
<text x="46.7" y="105.0" font-family="Liberation Serif, serif" font-weight="bold" font-size="13.8" fill="#f00" textLength="31.2" lengthAdjust="spacingAndGlyphs">NN06</text>
<text x="35.6" y="180.1" font-family="Liberation Serif, serif" font-size="16.8" fill="#000">(a)</text>
<rect x="31.6" y="23.5" width="398.8" height="161.4" fill="none" stroke="#222" stroke-width="0.9"/>
<line x1="474.8" y1="23.5" x2="474.8" y2="184.9" stroke="#222" stroke-width="0.9"/>
<line x1="31.6" y1="23.4" x2="34.6" y2="23.4" stroke="#222" stroke-width="0.8"/>
<text x="29.0" y="25.7" text-anchor="end" font-family="Liberation Serif, serif" font-weight="bold" font-size="9.1" fill="#000" stroke="#000" stroke-width="0.22" textLength="13.1" lengthAdjust="spacingAndGlyphs">350</text>
<line x1="31.6" y1="48.7" x2="34.6" y2="48.7" stroke="#222" stroke-width="0.8"/>
<text x="29.0" y="51.0" text-anchor="end" font-family="Liberation Serif, serif" font-weight="bold" font-size="9.1" fill="#000" stroke="#000" stroke-width="0.22" textLength="13.1" lengthAdjust="spacingAndGlyphs">300</text>
<line x1="31.6" y1="74.0" x2="34.6" y2="74.0" stroke="#222" stroke-width="0.8"/>
<text x="29.0" y="76.3" text-anchor="end" font-family="Liberation Serif, serif" font-weight="bold" font-size="9.1" fill="#000" stroke="#000" stroke-width="0.22" textLength="13.1" lengthAdjust="spacingAndGlyphs">250</text>
<line x1="31.6" y1="99.3" x2="34.6" y2="99.3" stroke="#222" stroke-width="0.8"/>
<text x="29.0" y="101.6" text-anchor="end" font-family="Liberation Serif, serif" font-weight="bold" font-size="9.1" fill="#000" stroke="#000" stroke-width="0.22" textLength="13.1" lengthAdjust="spacingAndGlyphs">200</text>
<line x1="31.6" y1="124.6" x2="34.6" y2="124.6" stroke="#222" stroke-width="0.8"/>
<text x="29.0" y="126.9" text-anchor="end" font-family="Liberation Serif, serif" font-weight="bold" font-size="9.1" fill="#000" stroke="#000" stroke-width="0.22" textLength="13.1" lengthAdjust="spacingAndGlyphs">150</text>
<line x1="31.6" y1="149.9" x2="34.6" y2="149.9" stroke="#222" stroke-width="0.8"/>
<text x="29.0" y="152.2" text-anchor="end" font-family="Liberation Serif, serif" font-weight="bold" font-size="9.1" fill="#000" stroke="#000" stroke-width="0.22" textLength="13.1" lengthAdjust="spacingAndGlyphs">100</text>
<line x1="31.6" y1="175.2" x2="34.6" y2="175.2" stroke="#222" stroke-width="0.8"/>
<text x="29.0" y="177.5" text-anchor="end" font-family="Liberation Serif, serif" font-weight="bold" font-size="9.1" fill="#000" stroke="#000" stroke-width="0.22" textLength="8.7" lengthAdjust="spacingAndGlyphs">50</text>
<line x1="427.4" y1="36.0" x2="430.4" y2="36.0" stroke="#222" stroke-width="0.8"/>
<text x="433.2" y="38.3" font-family="Liberation Serif, serif" font-weight="bold" font-size="9.1" fill="#000" stroke="#000" stroke-width="0.22" textLength="13.1" lengthAdjust="spacingAndGlyphs">200</text>
<line x1="427.4" y1="69.7" x2="430.4" y2="69.7" stroke="#222" stroke-width="0.8"/>
<text x="433.2" y="72.0" font-family="Liberation Serif, serif" font-weight="bold" font-size="9.1" fill="#000" stroke="#000" stroke-width="0.22" textLength="13.1" lengthAdjust="spacingAndGlyphs">150</text>
<line x1="427.4" y1="103.5" x2="430.4" y2="103.5" stroke="#222" stroke-width="0.8"/>
<text x="433.2" y="105.8" font-family="Liberation Serif, serif" font-weight="bold" font-size="9.1" fill="#000" stroke="#000" stroke-width="0.22" textLength="13.1" lengthAdjust="spacingAndGlyphs">100</text>
<line x1="427.4" y1="137.3" x2="430.4" y2="137.3" stroke="#222" stroke-width="0.8"/>
<text x="433.2" y="139.6" font-family="Liberation Serif, serif" font-weight="bold" font-size="9.1" fill="#000" stroke="#000" stroke-width="0.22" textLength="8.7" lengthAdjust="spacingAndGlyphs">50</text>
<line x1="427.4" y1="170.9" x2="430.4" y2="170.9" stroke="#222" stroke-width="0.8"/>
<text x="433.2" y="173.2" font-family="Liberation Serif, serif" font-weight="bold" font-size="9.1" fill="#000" stroke="#000" stroke-width="0.22" textLength="4.3" lengthAdjust="spacingAndGlyphs">0</text>
<line x1="471.8" y1="23.7" x2="474.8" y2="23.7" stroke="#222" stroke-width="0.8"/>
<text x="477.4" y="26.0" font-family="Liberation Serif, serif" font-weight="bold" font-size="9.1" fill="#000" stroke="#000" stroke-width="0.22" textLength="13.1" lengthAdjust="spacingAndGlyphs">100</text>
<line x1="471.8" y1="43.8" x2="474.8" y2="43.8" stroke="#222" stroke-width="0.8"/>
<text x="477.4" y="46.1" font-family="Liberation Serif, serif" font-weight="bold" font-size="9.1" fill="#000" stroke="#000" stroke-width="0.22" textLength="8.7" lengthAdjust="spacingAndGlyphs">75</text>
<line x1="471.8" y1="63.9" x2="474.8" y2="63.9" stroke="#222" stroke-width="0.8"/>
<text x="477.4" y="66.2" font-family="Liberation Serif, serif" font-weight="bold" font-size="9.1" fill="#000" stroke="#000" stroke-width="0.22" textLength="8.7" lengthAdjust="spacingAndGlyphs">50</text>
<line x1="471.8" y1="84.0" x2="474.8" y2="84.0" stroke="#222" stroke-width="0.8"/>
<text x="477.4" y="86.3" font-family="Liberation Serif, serif" font-weight="bold" font-size="9.1" fill="#000" stroke="#000" stroke-width="0.22" textLength="8.7" lengthAdjust="spacingAndGlyphs">25</text>
<line x1="471.8" y1="104.1" x2="474.8" y2="104.1" stroke="#222" stroke-width="0.8"/>
<text x="477.4" y="106.4" font-family="Liberation Serif, serif" font-weight="bold" font-size="9.1" fill="#000" stroke="#000" stroke-width="0.22" textLength="4.3" lengthAdjust="spacingAndGlyphs">0</text>
<line x1="471.8" y1="124.2" x2="474.8" y2="124.2" stroke="#222" stroke-width="0.8"/>
<text x="477.4" y="126.5" font-family="Liberation Serif, serif" font-weight="bold" font-size="9.1" fill="#000" stroke="#000" stroke-width="0.22" textLength="13.7" lengthAdjust="spacingAndGlyphs">−25</text>
<line x1="471.8" y1="144.3" x2="474.8" y2="144.3" stroke="#222" stroke-width="0.8"/>
<text x="477.4" y="146.6" font-family="Liberation Serif, serif" font-weight="bold" font-size="9.1" fill="#000" stroke="#000" stroke-width="0.22" textLength="13.7" lengthAdjust="spacingAndGlyphs">−50</text>
<line x1="471.8" y1="164.4" x2="474.8" y2="164.4" stroke="#222" stroke-width="0.8"/>
<text x="477.4" y="166.7" font-family="Liberation Serif, serif" font-weight="bold" font-size="9.1" fill="#000" stroke="#000" stroke-width="0.22" textLength="13.7" lengthAdjust="spacingAndGlyphs">−75</text>
<line x1="471.8" y1="184.5" x2="474.8" y2="184.5" stroke="#222" stroke-width="0.8"/>
<text x="477.4" y="186.8" font-family="Liberation Serif, serif" font-weight="bold" font-size="9.1" fill="#000" stroke="#000" stroke-width="0.22" textLength="18.0" lengthAdjust="spacingAndGlyphs">−100</text>
<text transform="translate(11.2,104.2) rotate(-90)" text-anchor="middle" font-family="Liberation Serif, serif" font-weight="bold" font-size="8.9" fill="#f00" stroke="#f00" stroke-width="0.22" textLength="72.8" lengthAdjust="spacingAndGlyphs">displacement/(mm)</text>
<text transform="translate(456.2,104.2) rotate(-90)" text-anchor="middle" font-family="Liberation Serif, serif" font-weight="bold" font-size="8.9" fill="#008000" stroke="#008000" stroke-width="0.22" textLength="113.2" lengthAdjust="spacingAndGlyphs">displacement velocity/(mm/d)</text>
<text transform="translate(504.4,104.2) rotate(-90)" text-anchor="middle" font-family="Liberation Serif, serif" font-weight="bold" font-size="8.9" fill="#ffa500" stroke="#ffa500" stroke-width="0.22" textLength="76.8" lengthAdjust="spacingAndGlyphs">Tangential Angle/(°)</text>
<clipPath id="c1"><rect x="31.6" y="193.5" width="398.8" height="161.9"/></clipPath>
<rect x="50.0" y="193.5" width="283.4" height="161.9" fill="#7cd8b6"/>
<rect x="333.4" y="193.5" width="5.7" height="161.9" fill="#ffe87c"/>
<rect x="339.1" y="193.5" width="73.1" height="161.9" fill="#ff8080"/>
<g clip-path="url(#c1)">
<line x1="31.6" y1="205.4" x2="430.4" y2="205.4" stroke="#f00" stroke-width="1.2" stroke-dasharray="4.1 1.9"/>
<line x1="31.6" y1="209.0" x2="430.4" y2="209.0" stroke="#f00" stroke-width="1.2" stroke-dasharray="4.1 1.9"/>
<line x1="31.6" y1="321.5" x2="430.4" y2="321.5" stroke="#f00" stroke-width="1.2" stroke-dasharray="4.1 1.9"/>
<line x1="31.6" y1="335.7" x2="430.4" y2="335.7" stroke="#f00" stroke-width="1.2" stroke-dasharray="4.1 1.9"/>
<polyline points="50.0,342.0 51.4,338.7 52.8,339.1 54.1,338.6 55.5,338.7 56.9,339.7 58.2,338.6 59.6,339.2 61.0,339.4 62.4,338.0 63.8,338.2 65.1,337.7 66.5,338.3 67.9,339.0 69.2,338.1 70.6,339.5 72.0,340.2 73.4,338.7 74.8,337.0 76.1,339.8 77.5,338.6 78.9,336.5 80.2,337.8 81.6,337.3 83.0,337.7 84.4,338.8 85.8,338.2 87.1,338.5 88.5,339.3 89.9,337.5 91.2,339.3 92.6,338.0 94.0,339.1 95.4,337.5 96.8,338.8 98.1,339.2 99.5,338.2 100.9,336.8 102.2,336.8 103.6,338.4 105.0,339.3 106.4,338.8 107.8,337.4 109.1,338.5 110.5,337.5 111.9,338.0 113.2,337.8 114.6,339.0 116.0,340.2 117.4,338.4 118.8,338.3 120.1,338.9 121.5,337.3 122.9,337.7 124.2,338.6 125.6,336.2 127.0,337.0 128.4,339.0 129.8,339.1 131.1,335.6 132.5,338.2 133.9,336.2 135.2,340.1 136.6,339.0 138.0,336.9 139.4,338.1 140.8,339.4 142.1,340.1 143.5,337.3 144.9,336.0 146.2,337.8 147.6,337.7 149.0,339.3 150.4,338.1 151.8,336.7 153.1,337.5 154.5,336.9 155.9,339.9 157.2,337.6 158.6,337.6 160.0,337.4 161.4,338.4 162.8,336.3 164.1,337.3 165.5,337.3 166.9,337.2 168.2,337.2 169.6,337.1 171.0,336.6 172.4,338.2 173.8,344.9 175.1,338.1 176.5,338.1 177.9,339.8 179.2,337.4 180.6,338.0 182.0,338.3 183.4,336.9 184.8,335.9 186.1,337.9 187.5,336.6 188.9,337.5 190.2,337.4 191.6,337.3 193.0,338.4 194.4,336.2 195.8,337.0 197.1,337.9 198.5,338.8 199.9,337.7 201.2,342.4 202.6,338.1 204.0,338.5 205.4,336.8 206.8,337.8 208.1,336.9 209.5,337.6 210.9,337.2 212.2,337.1 213.6,339.4 215.0,338.0 216.4,339.4 217.8,336.2 219.1,338.2 220.5,338.9 221.9,338.0 223.2,337.6 224.6,337.1 226.0,337.8 227.4,336.5 228.8,337.6 230.1,334.3 231.5,337.7 232.9,337.3 234.2,336.7 235.6,333.9 237.0,335.9 238.4,336.0 239.8,335.7 241.1,335.4 242.5,334.2 243.9,336.2 245.2,335.3 246.6,336.1 248.0,334.4 249.4,335.8 250.8,335.9 252.1,335.8 253.5,332.9 254.9,337.0 256.2,336.5 257.6,336.7 259.0,334.3 260.4,335.6 261.8,336.0 263.1,337.1 264.5,336.3 265.9,337.6 267.2,336.2 268.6,338.9 270.0,336.9 271.4,337.7 272.8,338.0 274.1,330.3 275.5,337.3 276.9,336.9 278.2,338.0 279.6,339.5 281.0,335.6 282.4,338.4 283.8,337.4 285.1,334.6 286.5,336.4 287.9,336.4 289.2,337.1 290.6,337.6 292.0,336.9 293.4,337.0 294.8,337.1 296.1,337.6 297.5,336.4 298.9,336.6 300.2,335.4 301.6,336.3 303.0,336.4 304.4,335.8 305.8,337.7 307.1,336.6 308.5,335.2 309.9,337.9 311.2,337.5 312.6,331.9 314.0,337.5 315.4,336.1 316.8,337.0 318.1,336.8 319.5,336.9 320.9,336.1 322.2,335.6 323.6,336.0 325.0,336.1 326.4,335.0 327.8,335.4 329.1,334.1 330.8,334.4 332.5,334.1 332.8,333.6 334.2,329.0 336.3,329.2 337.4,326.2 339.1,320.5 340.2,319.2 341.2,315.7 342.8,313.0 344.3,311.9 345.7,308.0 346.5,305.9 348.9,305.2 350.0,303.6 350.7,299.8 352.4,298.9 353.6,294.1 355.1,289.9 356.6,287.1 357.7,283.2 359.4,282.8 360.8,277.2 362.3,273.3 381.5,224.7 382.6,221.2 383.8,218.1 385.9,214.7 387.3,212.7 388.3,208.9 390.0,208.6 390.5,208.1 392.8,206.1 394.2,203.4 395.2,202.1 396.8,201.9 398.5,200.8 399.5,202.2 400.7,199.8 401.7,200.7 403.7,200.7 404.7,200.4 406.3,199.3 407.7,197.7 408.8,198.9 410.2,197.7 411.7,197.6" fill="none" stroke="#f00" stroke-width="1.2" stroke-dasharray="4.1 1.9"/>
<path fill="#f00" d="M50.0,339.0L50.7,341.1L52.9,341.1L51.1,342.4L51.8,344.4L50.0,343.1L48.2,344.4L48.9,342.4L47.1,341.1L49.3,341.1ZM51.4,335.7L52.1,337.7L54.2,337.8L52.5,339.0L53.1,341.1L51.4,339.8L49.6,341.1L50.3,339.0L48.5,337.8L50.7,337.7ZM52.8,336.1L53.4,338.2L55.6,338.2L53.8,339.5L54.5,341.6L52.8,340.3L51.0,341.6L51.7,339.5L49.9,338.2L52.1,338.2ZM54.1,335.6L54.8,337.7L57.0,337.7L55.2,338.9L55.9,341.0L54.1,339.7L52.4,341.0L53.0,338.9L51.3,337.7L53.4,337.7ZM55.5,335.7L56.2,337.7L58.4,337.7L56.6,339.0L57.3,341.1L55.5,339.8L53.7,341.1L54.4,339.0L52.6,337.7L54.8,337.7ZM56.9,336.7L57.6,338.7L59.7,338.7L58.0,340.0L58.6,342.1L56.9,340.8L55.1,342.1L55.8,340.0L54.0,338.7L56.2,338.7ZM58.2,335.6L58.9,337.7L61.1,337.7L59.3,339.0L60.0,341.1L58.2,339.8L56.5,341.1L57.2,339.0L55.4,337.7L57.6,337.7ZM59.6,336.2L60.3,338.3L62.5,338.3L60.7,339.5L61.4,341.6L59.6,340.3L57.9,341.6L58.5,339.5L56.8,338.3L58.9,338.3ZM61.0,336.4L61.7,338.5L63.9,338.5L62.1,339.8L62.8,341.8L61.0,340.6L59.2,341.8L59.9,339.8L58.1,338.5L60.3,338.5ZM62.4,335.0L63.1,337.0L65.2,337.0L63.5,338.3L64.1,340.4L62.4,339.1L60.6,340.4L61.3,338.3L59.5,337.0L61.7,337.0ZM63.8,335.2L64.4,337.3L66.6,337.3L64.8,338.6L65.5,340.7L63.8,339.4L62.0,340.7L62.7,338.6L60.9,337.3L63.1,337.3ZM65.1,334.7L65.8,336.8L68.0,336.8L66.2,338.1L66.9,340.1L65.1,338.9L63.4,340.1L64.0,338.1L62.3,336.8L64.4,336.8ZM66.5,335.3L67.2,337.3L69.4,337.3L67.6,338.6L68.3,340.7L66.5,339.4L64.7,340.7L65.4,338.6L63.6,337.3L65.8,337.3ZM67.9,336.0L68.6,338.0L70.7,338.1L69.0,339.3L69.6,341.4L67.9,340.1L66.1,341.4L66.8,339.3L65.0,338.1L67.2,338.0ZM69.2,335.1L69.9,337.1L72.1,337.1L70.3,338.4L71.0,340.5L69.2,339.2L67.5,340.5L68.2,338.4L66.4,337.1L68.6,337.1ZM70.6,336.5L71.3,338.5L73.5,338.5L71.7,339.8L72.4,341.9L70.6,340.6L68.9,341.9L69.5,339.8L67.8,338.5L69.9,338.5ZM72.0,337.2L72.7,339.3L74.9,339.3L73.1,340.6L73.8,342.6L72.0,341.4L70.2,342.6L70.9,340.6L69.1,339.3L71.3,339.3ZM73.4,335.7L74.1,337.8L76.2,337.8L74.5,339.0L75.1,341.1L73.4,339.8L71.6,341.1L72.3,339.0L70.5,337.8L72.7,337.8ZM74.8,334.0L75.4,336.1L77.6,336.1L75.8,337.4L76.5,339.4L74.8,338.1L73.0,339.4L73.7,337.4L71.9,336.1L74.1,336.1ZM76.1,336.8L76.8,338.9L79.0,338.9L77.2,340.2L77.9,342.3L76.1,341.0L74.4,342.3L75.0,340.2L73.3,338.9L75.4,338.9ZM77.5,335.6L78.2,337.7L80.4,337.7L78.6,339.0L79.3,341.0L77.5,339.7L75.7,341.0L76.4,339.0L74.6,337.7L76.8,337.7ZM78.9,333.5L79.6,335.6L81.7,335.6L80.0,336.9L80.6,339.0L78.9,337.7L77.1,339.0L77.8,336.9L76.0,335.6L78.2,335.6ZM80.2,334.8L80.9,336.8L83.1,336.8L81.3,338.1L82.0,340.2L80.2,338.9L78.5,340.2L79.2,338.1L77.4,336.8L79.6,336.8ZM81.6,334.3L82.3,336.3L84.5,336.3L82.7,337.6L83.4,339.7L81.6,338.4L79.9,339.7L80.5,337.6L78.8,336.3L80.9,336.3ZM83.0,334.7L83.7,336.7L85.9,336.7L84.1,338.0L84.8,340.1L83.0,338.8L81.2,340.1L81.9,338.0L80.1,336.7L82.3,336.7ZM84.4,335.8L85.1,337.9L87.2,337.9L85.5,339.2L86.1,341.2L84.4,339.9L82.6,341.2L83.3,339.2L81.5,337.9L83.7,337.9ZM85.8,335.2L86.4,337.3L88.6,337.3L86.8,338.6L87.5,340.7L85.8,339.4L84.0,340.7L84.7,338.6L82.9,337.3L85.1,337.3ZM87.1,335.5L87.8,337.6L90.0,337.6L88.2,338.9L88.9,341.0L87.1,339.7L85.4,341.0L86.0,338.9L84.3,337.6L86.4,337.6ZM88.5,336.3L89.2,338.4L91.4,338.4L89.6,339.7L90.3,341.7L88.5,340.5L86.7,341.7L87.4,339.7L85.6,338.4L87.8,338.4ZM89.9,334.5L90.6,336.6L92.7,336.6L91.0,337.9L91.6,339.9L89.9,338.7L88.1,339.9L88.8,337.9L87.0,336.6L89.2,336.6ZM91.2,336.3L91.9,338.4L94.1,338.4L92.3,339.7L93.0,341.8L91.2,340.5L89.5,341.8L90.2,339.7L88.4,338.4L90.6,338.4ZM92.6,335.0L93.3,337.0L95.5,337.0L93.7,338.3L94.4,340.4L92.6,339.1L90.9,340.4L91.5,338.3L89.8,337.0L91.9,337.0ZM94.0,336.1L94.7,338.2L96.9,338.2L95.1,339.5L95.8,341.6L94.0,340.3L92.2,341.6L92.9,339.5L91.1,338.2L93.3,338.2ZM95.4,334.5L96.1,336.6L98.2,336.6L96.5,337.9L97.1,339.9L95.4,338.7L93.6,339.9L94.3,337.9L92.5,336.6L94.7,336.6ZM96.8,335.8L97.4,337.9L99.6,337.9L97.8,339.2L98.5,341.3L96.8,340.0L95.0,341.3L95.7,339.2L93.9,337.9L96.1,337.9ZM98.1,336.2L98.8,338.3L101.0,338.3L99.2,339.6L99.9,341.7L98.1,340.4L96.4,341.7L97.0,339.6L95.3,338.3L97.4,338.3ZM99.5,335.2L100.2,337.3L102.4,337.3L100.6,338.6L101.3,340.6L99.5,339.4L97.7,340.6L98.4,338.6L96.6,337.3L98.8,337.3ZM100.9,333.8L101.6,335.9L103.7,335.9L102.0,337.2L102.6,339.3L100.9,338.0L99.1,339.3L99.8,337.2L98.0,335.9L100.2,335.9ZM102.2,333.8L102.9,335.9L105.1,335.9L103.3,337.2L104.0,339.2L102.2,337.9L100.5,339.2L101.2,337.2L99.4,335.9L101.6,335.9ZM103.6,335.4L104.3,337.5L106.5,337.5L104.7,338.8L105.4,340.8L103.6,339.6L101.9,340.8L102.5,338.8L100.8,337.5L102.9,337.5ZM105.0,336.3L105.7,338.4L107.9,338.4L106.1,339.7L106.8,341.7L105.0,340.4L103.2,341.7L103.9,339.7L102.1,338.4L104.3,338.4ZM106.4,335.8L107.1,337.8L109.2,337.8L107.5,339.1L108.1,341.2L106.4,339.9L104.6,341.2L105.3,339.1L103.5,337.8L105.7,337.8ZM107.8,334.4L108.4,336.4L110.6,336.4L108.8,337.7L109.5,339.8L107.8,338.5L106.0,339.8L106.7,337.7L104.9,336.4L107.1,336.4ZM109.1,335.5L109.8,337.5L112.0,337.5L110.2,338.8L110.9,340.9L109.1,339.6L107.4,340.9L108.0,338.8L106.3,337.5L108.4,337.5ZM110.5,334.5L111.2,336.6L113.4,336.6L111.6,337.8L112.3,339.9L110.5,338.6L108.7,339.9L109.4,337.8L107.6,336.6L109.8,336.6ZM111.9,335.0L112.6,337.0L114.7,337.0L113.0,338.3L113.6,340.4L111.9,339.1L110.1,340.4L110.8,338.3L109.0,337.0L111.2,337.0ZM113.2,334.8L113.9,336.8L116.1,336.8L114.3,338.1L115.0,340.2L113.2,338.9L111.5,340.2L112.2,338.1L110.4,336.8L112.6,336.8ZM114.6,336.0L115.3,338.1L117.5,338.1L115.7,339.4L116.4,341.5L114.6,340.2L112.9,341.5L113.5,339.4L111.8,338.1L113.9,338.1ZM116.0,337.2L116.7,339.2L118.9,339.2L117.1,340.5L117.8,342.6L116.0,341.3L114.2,342.6L114.9,340.5L113.1,339.2L115.3,339.2ZM117.4,335.4L118.1,337.5L120.2,337.5L118.5,338.8L119.1,340.8L117.4,339.5L115.6,340.8L116.3,338.8L114.5,337.5L116.7,337.5ZM118.8,335.3L119.4,337.4L121.6,337.4L119.8,338.7L120.5,340.8L118.8,339.5L117.0,340.8L117.7,338.7L115.9,337.4L118.1,337.4ZM120.1,335.9L120.8,338.0L123.0,338.0L121.2,339.2L121.9,341.3L120.1,340.0L118.4,341.3L119.0,339.2L117.3,338.0L119.4,338.0ZM121.5,334.3L122.2,336.3L124.4,336.3L122.6,337.6L123.3,339.7L121.5,338.4L119.7,339.7L120.4,337.6L118.6,336.3L120.8,336.3ZM122.9,334.7L123.6,336.7L125.7,336.7L124.0,338.0L124.6,340.1L122.9,338.8L121.1,340.1L121.8,338.0L120.0,336.7L122.2,336.7ZM124.2,335.6L124.9,337.6L127.1,337.6L125.3,338.9L126.0,341.0L124.2,339.7L122.5,341.0L123.2,338.9L121.4,337.6L123.6,337.6ZM125.6,333.2L126.3,335.3L128.5,335.3L126.7,336.5L127.4,338.6L125.6,337.3L123.9,338.6L124.5,336.5L122.8,335.3L124.9,335.3ZM127.0,334.0L127.7,336.1L129.9,336.1L128.1,337.3L128.8,339.4L127.0,338.1L125.2,339.4L125.9,337.3L124.1,336.1L126.3,336.1ZM128.4,336.0L129.1,338.1L131.2,338.1L129.5,339.4L130.1,341.4L128.4,340.2L126.6,341.4L127.3,339.4L125.5,338.1L127.7,338.1ZM129.8,336.1L130.4,338.1L132.6,338.1L130.8,339.4L131.5,341.5L129.8,340.2L128.0,341.5L128.7,339.4L126.9,338.1L129.1,338.1ZM131.1,332.6L131.8,334.7L134.0,334.7L132.2,336.0L132.9,338.0L131.1,336.8L129.4,338.0L130.0,336.0L128.3,334.7L130.4,334.7ZM132.5,335.2L133.2,337.2L135.4,337.2L133.6,338.5L134.3,340.6L132.5,339.3L130.7,340.6L131.4,338.5L129.6,337.2L131.8,337.2ZM133.9,333.2L134.6,335.3L136.7,335.3L135.0,336.6L135.6,338.6L133.9,337.4L132.1,338.6L132.8,336.6L131.0,335.3L133.2,335.3ZM135.2,337.1L135.9,339.1L138.1,339.1L136.3,340.4L137.0,342.5L135.2,341.2L133.5,342.5L134.2,340.4L132.4,339.1L134.6,339.1ZM136.6,336.0L137.3,338.1L139.5,338.1L137.7,339.4L138.4,341.4L136.6,340.1L134.9,341.4L135.5,339.4L133.8,338.1L135.9,338.1ZM138.0,333.9L138.7,336.0L140.9,336.0L139.1,337.2L139.8,339.3L138.0,338.0L136.2,339.3L136.9,337.2L135.1,336.0L137.3,336.0ZM139.4,335.1L140.1,337.2L142.2,337.2L140.5,338.5L141.1,340.6L139.4,339.3L137.6,340.6L138.3,338.5L136.5,337.2L138.7,337.2ZM140.8,336.4L141.4,338.5L143.6,338.5L141.8,339.8L142.5,341.9L140.8,340.6L139.0,341.9L139.7,339.8L137.9,338.5L140.1,338.5ZM142.1,337.1L142.8,339.1L145.0,339.1L143.2,340.4L143.9,342.5L142.1,341.2L140.4,342.5L141.0,340.4L139.3,339.1L141.4,339.1ZM143.5,334.3L144.2,336.3L146.4,336.3L144.6,337.6L145.3,339.7L143.5,338.4L141.7,339.7L142.4,337.6L140.6,336.3L142.8,336.3ZM144.9,333.0L145.6,335.1L147.7,335.1L146.0,336.3L146.6,338.4L144.9,337.1L143.1,338.4L143.8,336.3L142.0,335.1L144.2,335.1ZM146.2,334.8L146.9,336.9L149.1,336.9L147.3,338.2L148.0,340.3L146.2,339.0L144.5,340.3L145.2,338.2L143.4,336.9L145.6,336.9ZM147.6,334.7L148.3,336.8L150.5,336.8L148.7,338.1L149.4,340.2L147.6,338.9L145.9,340.2L146.5,338.1L144.8,336.8L146.9,336.8ZM149.0,336.3L149.7,338.4L151.9,338.4L150.1,339.7L150.8,341.7L149.0,340.5L147.2,341.7L147.9,339.7L146.1,338.4L148.3,338.4ZM150.4,335.1L151.1,337.2L153.2,337.2L151.5,338.5L152.1,340.5L150.4,339.3L148.6,340.5L149.3,338.5L147.5,337.2L149.7,337.2ZM151.8,333.7L152.4,335.7L154.6,335.7L152.8,337.0L153.5,339.1L151.8,337.8L150.0,339.1L150.7,337.0L148.9,335.7L151.1,335.7ZM153.1,334.5L153.8,336.6L156.0,336.6L154.2,337.9L154.9,339.9L153.1,338.7L151.4,339.9L152.0,337.9L150.3,336.6L152.4,336.6ZM154.5,333.9L155.2,336.0L157.4,336.0L155.6,337.3L156.3,339.4L154.5,338.1L152.7,339.4L153.4,337.3L151.6,336.0L153.8,336.0ZM155.9,336.9L156.6,339.0L158.7,339.0L157.0,340.3L157.6,342.4L155.9,341.1L154.1,342.4L154.8,340.3L153.0,339.0L155.2,339.0ZM157.2,334.6L157.9,336.7L160.1,336.7L158.3,338.0L159.0,340.1L157.2,338.8L155.5,340.1L156.2,338.0L154.4,336.7L156.6,336.7ZM158.6,334.6L159.3,336.6L161.5,336.6L159.7,337.9L160.4,340.0L158.6,338.7L156.9,340.0L157.5,337.9L155.8,336.6L157.9,336.6ZM160.0,334.4L160.7,336.5L162.9,336.5L161.1,337.8L161.8,339.9L160.0,338.6L158.2,339.9L158.9,337.8L157.1,336.5L159.3,336.5ZM161.4,335.4L162.1,337.5L164.2,337.5L162.5,338.8L163.1,340.9L161.4,339.6L159.6,340.9L160.3,338.8L158.5,337.5L160.7,337.5ZM162.8,333.3L163.4,335.4L165.6,335.4L163.8,336.7L164.5,338.7L162.8,337.5L161.0,338.7L161.7,336.7L159.9,335.4L162.1,335.4ZM164.1,334.3L164.8,336.4L167.0,336.4L165.2,337.7L165.9,339.7L164.1,338.5L162.4,339.7L163.0,337.7L161.3,336.4L163.4,336.4ZM165.5,334.3L166.2,336.4L168.4,336.4L166.6,337.7L167.3,339.7L165.5,338.5L163.7,339.7L164.4,337.7L162.6,336.4L164.8,336.4ZM166.9,334.2L167.6,336.3L169.7,336.3L168.0,337.6L168.6,339.6L166.9,338.4L165.1,339.6L165.8,337.6L164.0,336.3L166.2,336.3ZM168.2,334.2L168.9,336.3L171.1,336.3L169.3,337.6L170.0,339.6L168.2,338.4L166.5,339.6L167.2,337.6L165.4,336.3L167.6,336.3ZM169.6,334.1L170.3,336.2L172.5,336.2L170.7,337.5L171.4,339.5L169.6,338.3L167.9,339.5L168.5,337.5L166.8,336.2L168.9,336.2ZM171.0,333.6L171.7,335.7L173.9,335.7L172.1,337.0L172.8,339.0L171.0,337.8L169.2,339.0L169.9,337.0L168.1,335.7L170.3,335.7ZM172.4,335.2L173.1,337.3L175.2,337.3L173.5,338.6L174.1,340.7L172.4,339.4L170.6,340.7L171.3,338.6L169.5,337.3L171.7,337.3ZM173.8,341.9L174.4,344.0L176.6,344.0L174.8,345.3L175.5,347.3L173.8,346.1L172.0,347.3L172.7,345.3L170.9,344.0L173.1,344.0ZM175.1,335.1L175.8,337.2L178.0,337.2L176.2,338.5L176.9,340.5L175.1,339.3L173.4,340.5L174.0,338.5L172.3,337.2L174.4,337.2ZM176.5,335.1L177.2,337.1L179.4,337.1L177.6,338.4L178.3,340.5L176.5,339.2L174.7,340.5L175.4,338.4L173.6,337.1L175.8,337.1ZM177.9,336.8L178.6,338.9L180.7,338.9L179.0,340.2L179.6,342.3L177.9,341.0L176.1,342.3L176.8,340.2L175.0,338.9L177.2,338.9ZM179.2,334.4L179.9,336.4L182.1,336.4L180.3,337.7L181.0,339.8L179.2,338.5L177.5,339.8L178.2,337.7L176.4,336.4L178.6,336.4ZM180.6,335.0L181.3,337.0L183.5,337.0L181.7,338.3L182.4,340.4L180.6,339.1L178.9,340.4L179.5,338.3L177.8,337.0L179.9,337.0ZM182.0,335.3L182.7,337.4L184.9,337.4L183.1,338.7L183.8,340.8L182.0,339.5L180.2,340.8L180.9,338.7L179.1,337.4L181.3,337.4ZM183.4,333.9L184.1,335.9L186.2,335.9L184.5,337.2L185.1,339.3L183.4,338.0L181.6,339.3L182.3,337.2L180.5,335.9L182.7,335.9ZM184.8,332.9L185.4,335.0L187.6,335.0L185.8,336.3L186.5,338.3L184.8,337.1L183.0,338.3L183.7,336.3L181.9,335.0L184.1,335.0ZM186.1,334.9L186.8,337.0L189.0,337.0L187.2,338.3L187.9,340.3L186.1,339.1L184.4,340.3L185.0,338.3L183.3,337.0L185.4,337.0ZM187.5,333.6L188.2,335.7L190.4,335.7L188.6,337.0L189.3,339.0L187.5,337.7L185.7,339.0L186.4,337.0L184.6,335.7L186.8,335.7ZM188.9,334.5L189.6,336.6L191.7,336.6L190.0,337.9L190.6,340.0L188.9,338.7L187.1,340.0L187.8,337.9L186.0,336.6L188.2,336.6ZM190.2,334.4L190.9,336.5L193.1,336.5L191.3,337.8L192.0,339.9L190.2,338.6L188.5,339.9L189.2,337.8L187.4,336.5L189.6,336.5ZM191.6,334.3L192.3,336.3L194.5,336.3L192.7,337.6L193.4,339.7L191.6,338.4L189.9,339.7L190.5,337.6L188.8,336.3L190.9,336.3ZM193.0,335.4L193.7,337.5L195.9,337.5L194.1,338.8L194.8,340.8L193.0,339.6L191.2,340.8L191.9,338.8L190.1,337.5L192.3,337.5ZM194.4,333.2L195.1,335.2L197.2,335.2L195.5,336.5L196.1,338.6L194.4,337.3L192.6,338.6L193.3,336.5L191.5,335.2L193.7,335.2ZM195.8,334.0L196.4,336.1L198.6,336.1L196.8,337.3L197.5,339.4L195.8,338.1L194.0,339.4L194.7,337.3L192.9,336.1L195.1,336.1ZM197.1,334.9L197.8,337.0L200.0,337.0L198.2,338.3L198.9,340.3L197.1,339.1L195.4,340.3L196.0,338.3L194.3,337.0L196.4,337.0ZM198.5,335.8L199.2,337.9L201.4,337.9L199.6,339.2L200.3,341.3L198.5,340.0L196.7,341.3L197.4,339.2L195.6,337.9L197.8,337.9ZM199.9,334.7L200.6,336.8L202.7,336.8L201.0,338.1L201.6,340.2L199.9,338.9L198.1,340.2L198.8,338.1L197.0,336.8L199.2,336.8ZM201.2,339.4L201.9,341.5L204.1,341.5L202.3,342.8L203.0,344.8L201.2,343.5L199.5,344.8L200.2,342.8L198.4,341.5L200.6,341.5ZM202.6,335.1L203.3,337.1L205.5,337.1L203.7,338.4L204.4,340.5L202.6,339.2L200.9,340.5L201.5,338.4L199.8,337.1L201.9,337.1ZM204.0,335.5L204.7,337.6L206.9,337.6L205.1,338.9L205.8,341.0L204.0,339.7L202.2,341.0L202.9,338.9L201.1,337.6L203.3,337.6ZM205.4,333.8L206.1,335.8L208.2,335.8L206.5,337.1L207.1,339.2L205.4,337.9L203.6,339.2L204.3,337.1L202.5,335.8L204.7,335.8ZM206.8,334.8L207.4,336.8L209.6,336.8L207.8,338.1L208.5,340.2L206.8,338.9L205.0,340.2L205.7,338.1L203.9,336.8L206.1,336.8ZM208.1,333.9L208.8,335.9L211.0,335.9L209.2,337.2L209.9,339.3L208.1,338.0L206.4,339.3L207.0,337.2L205.3,335.9L207.4,335.9ZM209.5,334.6L210.2,336.6L212.4,336.6L210.6,337.9L211.3,340.0L209.5,338.7L207.7,340.0L208.4,337.9L206.6,336.6L208.8,336.6ZM210.9,334.2L211.6,336.2L213.7,336.2L212.0,337.5L212.6,339.6L210.9,338.3L209.1,339.6L209.8,337.5L208.0,336.2L210.2,336.2ZM212.2,334.1L212.9,336.2L215.1,336.2L213.3,337.5L214.0,339.5L212.2,338.3L210.5,339.5L211.2,337.5L209.4,336.2L211.6,336.2ZM213.6,336.4L214.3,338.4L216.5,338.4L214.7,339.7L215.4,341.8L213.6,340.5L211.9,341.8L212.5,339.7L210.8,338.4L212.9,338.4ZM215.0,335.0L215.7,337.0L217.9,337.0L216.1,338.3L216.8,340.4L215.0,339.1L213.2,340.4L213.9,338.3L212.1,337.0L214.3,337.0ZM216.4,336.4L217.1,338.5L219.2,338.5L217.5,339.7L218.1,341.8L216.4,340.5L214.6,341.8L215.3,339.7L213.5,338.5L215.7,338.5ZM217.8,333.2L218.4,335.2L220.6,335.2L218.8,336.5L219.5,338.6L217.8,337.3L216.0,338.6L216.7,336.5L214.9,335.2L217.1,335.2ZM219.1,335.2L219.8,337.2L222.0,337.3L220.2,338.5L220.9,340.6L219.1,339.3L217.4,340.6L218.0,338.5L216.3,337.3L218.4,337.2ZM220.5,335.9L221.2,338.0L223.4,338.0L221.6,339.2L222.3,341.3L220.5,340.0L218.7,341.3L219.4,339.2L217.6,338.0L219.8,338.0ZM221.9,335.0L222.6,337.1L224.7,337.1L223.0,338.4L223.6,340.4L221.9,339.2L220.1,340.4L220.8,338.4L219.0,337.1L221.2,337.1ZM223.2,334.6L223.9,336.7L226.1,336.7L224.3,338.0L225.0,340.1L223.2,338.8L221.5,340.1L222.2,338.0L220.4,336.7L222.6,336.7ZM224.6,334.1L225.3,336.2L227.5,336.2L225.7,337.5L226.4,339.5L224.6,338.3L222.9,339.5L223.5,337.5L221.8,336.2L223.9,336.2ZM226.0,334.8L226.7,336.9L228.9,336.9L227.1,338.2L227.8,340.2L226.0,338.9L224.2,340.2L224.9,338.2L223.1,336.9L225.3,336.9ZM227.4,333.5L228.1,335.6L230.2,335.6L228.5,336.9L229.1,338.9L227.4,337.7L225.6,338.9L226.3,336.9L224.5,335.6L226.7,335.6ZM228.8,334.6L229.4,336.7L231.6,336.7L229.8,337.9L230.5,340.0L228.8,338.7L227.0,340.0L227.7,337.9L225.9,336.7L228.1,336.7ZM230.1,331.3L230.8,333.4L233.0,333.4L231.2,334.7L231.9,336.8L230.1,335.5L228.4,336.8L229.0,334.7L227.3,333.4L229.4,333.4ZM231.5,334.7L232.2,336.8L234.4,336.8L232.6,338.1L233.3,340.1L231.5,338.9L229.7,340.1L230.4,338.1L228.6,336.8L230.8,336.8ZM232.9,334.3L233.6,336.4L235.7,336.4L234.0,337.7L234.6,339.7L232.9,338.5L231.1,339.7L231.8,337.7L230.0,336.4L232.2,336.4ZM234.2,333.7L234.9,335.8L237.1,335.8L235.3,337.1L236.0,339.2L234.2,337.9L232.5,339.2L233.2,337.1L231.4,335.8L233.6,335.8ZM235.6,330.9L236.3,333.0L238.5,333.0L236.7,334.3L237.4,336.4L235.6,335.1L233.9,336.4L234.5,334.3L232.8,333.0L234.9,333.0ZM237.0,332.9L237.7,335.0L239.9,335.0L238.1,336.3L238.8,338.3L237.0,337.1L235.2,338.3L235.9,336.3L234.1,335.0L236.3,335.0ZM238.4,333.0L239.1,335.1L241.2,335.1L239.5,336.3L240.1,338.4L238.4,337.1L236.6,338.4L237.3,336.3L235.5,335.1L237.7,335.1ZM239.8,332.7L240.4,334.8L242.6,334.8L240.8,336.1L241.5,338.2L239.8,336.9L238.0,338.2L238.7,336.1L236.9,334.8L239.1,334.8ZM241.1,332.4L241.8,334.4L244.0,334.4L242.2,335.7L242.9,337.8L241.1,336.5L239.4,337.8L240.0,335.7L238.3,334.4L240.4,334.4ZM242.5,331.2L243.2,333.2L245.4,333.2L243.6,334.5L244.3,336.6L242.5,335.3L240.7,336.6L241.4,334.5L239.6,333.2L241.8,333.2ZM243.9,333.2L244.6,335.3L246.7,335.3L245.0,336.6L245.6,338.7L243.9,337.4L242.1,338.7L242.8,336.6L241.0,335.3L243.2,335.3ZM245.2,332.3L245.9,334.4L248.1,334.4L246.3,335.7L247.0,337.7L245.2,336.5L243.5,337.7L244.2,335.7L242.4,334.4L244.6,334.4ZM246.6,333.1L247.3,335.2L249.5,335.2L247.7,336.5L248.4,338.5L246.6,337.2L244.9,338.5L245.5,336.5L243.8,335.2L245.9,335.2ZM248.0,331.4L248.7,333.5L250.9,333.5L249.1,334.8L249.8,336.9L248.0,335.6L246.2,336.9L246.9,334.8L245.1,333.5L247.3,333.5ZM249.4,332.8L250.1,334.9L252.2,334.9L250.5,336.1L251.1,338.2L249.4,336.9L247.6,338.2L248.3,336.1L246.5,334.9L248.7,334.9ZM250.8,332.9L251.4,335.0L253.6,335.0L251.8,336.3L252.5,338.3L250.8,337.1L249.0,338.3L249.7,336.3L247.9,335.0L250.1,335.0ZM252.1,332.8L252.8,334.9L255.0,334.9L253.2,336.1L253.9,338.2L252.1,336.9L250.4,338.2L251.0,336.1L249.3,334.9L251.4,334.9ZM253.5,329.9L254.2,331.9L256.4,332.0L254.6,333.2L255.3,335.3L253.5,334.0L251.7,335.3L252.4,333.2L250.6,332.0L252.8,331.9ZM254.9,334.0L255.6,336.1L257.7,336.1L256.0,337.4L256.6,339.4L254.9,338.2L253.1,339.4L253.8,337.4L252.0,336.1L254.2,336.1ZM256.2,333.5L256.9,335.5L259.1,335.5L257.3,336.8L258.0,338.9L256.2,337.6L254.5,338.9L255.2,336.8L253.4,335.5L255.6,335.5ZM257.6,333.7L258.3,335.7L260.5,335.7L258.7,337.0L259.4,339.1L257.6,337.8L255.9,339.1L256.5,337.0L254.8,335.7L256.9,335.7ZM259.0,331.3L259.7,333.3L261.9,333.3L260.1,334.6L260.8,336.7L259.0,335.4L257.2,336.7L257.9,334.6L256.1,333.3L258.3,333.3ZM260.4,332.6L261.1,334.7L263.2,334.7L261.5,336.0L262.1,338.1L260.4,336.8L258.6,338.1L259.3,336.0L257.5,334.7L259.7,334.7ZM261.8,333.0L262.4,335.0L264.6,335.0L262.8,336.3L263.5,338.4L261.8,337.1L260.0,338.4L260.7,336.3L258.9,335.0L261.1,335.0ZM263.1,334.1L263.8,336.1L266.0,336.1L264.2,337.4L264.9,339.5L263.1,338.2L261.4,339.5L262.0,337.4L260.3,336.1L262.4,336.1ZM264.5,333.3L265.2,335.4L267.4,335.4L265.6,336.7L266.3,338.8L264.5,337.5L262.7,338.8L263.4,336.7L261.6,335.4L263.8,335.4ZM265.9,334.6L266.6,336.7L268.7,336.7L267.0,337.9L267.6,340.0L265.9,338.7L264.1,340.0L264.8,337.9L263.0,336.7L265.2,336.7ZM267.2,333.2L267.9,335.3L270.1,335.3L268.3,336.6L269.0,338.6L267.2,337.4L265.5,338.6L266.2,336.6L264.4,335.3L266.6,335.3ZM268.6,335.9L269.3,338.0L271.5,338.0L269.7,339.2L270.4,341.3L268.6,340.0L266.9,341.3L267.5,339.2L265.8,338.0L267.9,338.0ZM270.0,333.9L270.7,335.9L272.9,335.9L271.1,337.2L271.8,339.3L270.0,338.0L268.2,339.3L268.9,337.2L267.1,335.9L269.3,335.9ZM271.4,334.7L272.1,336.8L274.2,336.8L272.5,338.1L273.1,340.2L271.4,338.9L269.6,340.2L270.3,338.1L268.5,336.8L270.7,336.8ZM272.8,335.0L273.4,337.1L275.6,337.1L273.8,338.4L274.5,340.4L272.8,339.1L271.0,340.4L271.7,338.4L269.9,337.1L272.1,337.1ZM274.1,327.3L274.8,329.4L277.0,329.4L275.2,330.7L275.9,332.7L274.1,331.5L272.4,332.7L273.0,330.7L271.3,329.4L273.4,329.4ZM275.5,334.3L276.2,336.4L278.4,336.4L276.6,337.7L277.3,339.7L275.5,338.5L273.7,339.7L274.4,337.7L272.6,336.4L274.8,336.4ZM276.9,333.9L277.6,336.0L279.7,336.0L278.0,337.3L278.6,339.3L276.9,338.0L275.1,339.3L275.8,337.3L274.0,336.0L276.2,336.0ZM278.2,335.0L278.9,337.1L281.1,337.1L279.3,338.4L280.0,340.4L278.2,339.2L276.5,340.4L277.2,338.4L275.4,337.1L277.6,337.1ZM279.6,336.5L280.3,338.6L282.5,338.6L280.7,339.9L281.4,341.9L279.6,340.7L277.9,341.9L278.5,339.9L276.8,338.6L278.9,338.6ZM281.0,332.6L281.7,334.7L283.9,334.7L282.1,335.9L282.8,338.0L281.0,336.7L279.2,338.0L279.9,335.9L278.1,334.7L280.3,334.7ZM282.4,335.4L283.1,337.5L285.2,337.5L283.5,338.8L284.1,340.8L282.4,339.6L280.6,340.8L281.3,338.8L279.5,337.5L281.7,337.5ZM283.8,334.4L284.4,336.4L286.6,336.4L284.8,337.7L285.5,339.8L283.8,338.5L282.0,339.8L282.7,337.7L280.9,336.4L283.1,336.4ZM285.1,331.6L285.8,333.6L288.0,333.6L286.2,334.9L286.9,337.0L285.1,335.7L283.4,337.0L284.0,334.9L282.3,333.6L284.4,333.6ZM286.5,333.4L287.2,335.5L289.4,335.5L287.6,336.8L288.3,338.8L286.5,337.5L284.7,338.8L285.4,336.8L283.6,335.5L285.8,335.5ZM287.9,333.4L288.6,335.5L290.7,335.5L289.0,336.8L289.6,338.8L287.9,337.6L286.1,338.8L286.8,336.8L285.0,335.5L287.2,335.5ZM289.2,334.1L289.9,336.2L292.1,336.2L290.3,337.4L291.0,339.5L289.2,338.2L287.5,339.5L288.2,337.4L286.4,336.2L288.6,336.2ZM290.6,334.6L291.3,336.7L293.5,336.7L291.7,337.9L292.4,340.0L290.6,338.7L288.9,340.0L289.5,337.9L287.8,336.7L289.9,336.7ZM292.0,333.9L292.7,335.9L294.9,335.9L293.1,337.2L293.8,339.3L292.0,338.0L290.2,339.3L290.9,337.2L289.1,335.9L291.3,335.9ZM293.4,334.0L294.1,336.0L296.2,336.0L294.5,337.3L295.1,339.4L293.4,338.1L291.6,339.4L292.3,337.3L290.5,336.0L292.7,336.0ZM294.8,334.1L295.4,336.2L297.6,336.2L295.8,337.5L296.5,339.6L294.8,338.3L293.0,339.6L293.7,337.5L291.9,336.2L294.1,336.2ZM296.1,334.6L296.8,336.6L299.0,336.6L297.2,337.9L297.9,340.0L296.1,338.7L294.4,340.0L295.0,337.9L293.3,336.6L295.4,336.6ZM297.5,333.4L298.2,335.5L300.4,335.5L298.6,336.8L299.3,338.8L297.5,337.6L295.7,338.8L296.4,336.8L294.6,335.5L296.8,335.5ZM298.9,333.6L299.6,335.7L301.7,335.7L300.0,337.0L300.6,339.1L298.9,337.8L297.1,339.1L297.8,337.0L296.0,335.7L298.2,335.7ZM300.2,332.4L300.9,334.4L303.1,334.4L301.3,335.7L302.0,337.8L300.2,336.5L298.5,337.8L299.2,335.7L297.4,334.4L299.6,334.4ZM301.6,333.3L302.3,335.3L304.5,335.3L302.7,336.6L303.4,338.7L301.6,337.4L299.9,338.7L300.5,336.6L298.8,335.3L300.9,335.3ZM303.0,333.4L303.7,335.5L305.9,335.5L304.1,336.8L304.8,338.8L303.0,337.5L301.2,338.8L301.9,336.8L300.1,335.5L302.3,335.5ZM304.4,332.8L305.1,334.9L307.2,334.9L305.5,336.2L306.1,338.2L304.4,337.0L302.6,338.2L303.3,336.2L301.5,334.9L303.7,334.9ZM305.8,334.7L306.4,336.7L308.6,336.7L306.8,338.0L307.5,340.1L305.8,338.8L304.0,340.1L304.7,338.0L302.9,336.7L305.1,336.7ZM307.1,333.6L307.8,335.7L310.0,335.7L308.2,337.0L308.9,339.0L307.1,337.8L305.4,339.0L306.0,337.0L304.3,335.7L306.4,335.7ZM308.5,332.2L309.2,334.2L311.4,334.3L309.6,335.5L310.3,337.6L308.5,336.3L306.7,337.6L307.4,335.5L305.6,334.3L307.8,334.2ZM309.9,334.9L310.6,337.0L312.7,337.0L311.0,338.3L311.6,340.4L309.9,339.1L308.1,340.4L308.8,338.3L307.0,337.0L309.2,337.0ZM311.2,334.5L311.9,336.6L314.1,336.6L312.3,337.9L313.0,339.9L311.2,338.7L309.5,339.9L310.2,337.9L308.4,336.6L310.6,336.6ZM312.6,328.9L313.3,331.0L315.5,331.0L313.7,332.3L314.4,334.4L312.6,333.1L310.9,334.4L311.5,332.3L309.8,331.0L311.9,331.0ZM314.0,334.5L314.7,336.6L316.9,336.6L315.1,337.9L315.8,339.9L314.0,338.7L312.2,339.9L312.9,337.9L311.1,336.6L313.3,336.6ZM315.4,333.1L316.1,335.2L318.2,335.2L316.5,336.5L317.1,338.6L315.4,337.3L313.6,338.6L314.3,336.5L312.5,335.2L314.7,335.2ZM316.8,334.0L317.4,336.0L319.6,336.0L317.8,337.3L318.5,339.4L316.8,338.1L315.0,339.4L315.7,337.3L313.9,336.0L316.1,336.0ZM318.1,333.8L318.8,335.9L321.0,335.9L319.2,337.2L319.9,339.3L318.1,338.0L316.4,339.3L317.0,337.2L315.3,335.9L317.4,335.9ZM319.5,333.9L320.2,335.9L322.4,336.0L320.6,337.2L321.3,339.3L319.5,338.0L317.7,339.3L318.4,337.2L316.6,336.0L318.8,335.9ZM320.9,333.1L321.6,335.2L323.7,335.2L322.0,336.5L322.6,338.5L320.9,337.3L319.1,338.5L319.8,336.5L318.0,335.2L320.2,335.2ZM322.2,332.6L322.9,334.7L325.1,334.7L323.3,335.9L324.0,338.0L322.2,336.7L320.5,338.0L321.2,335.9L319.4,334.7L321.6,334.7ZM323.6,333.0L324.3,335.0L326.5,335.0L324.7,336.3L325.4,338.4L323.6,337.1L321.9,338.4L322.5,336.3L320.8,335.0L322.9,335.0ZM325.0,333.1L325.7,335.1L327.9,335.1L326.1,336.4L326.8,338.5L325.0,337.2L323.2,338.5L323.9,336.4L322.1,335.1L324.3,335.1ZM326.4,332.0L327.1,334.0L329.2,334.0L327.5,335.3L328.1,337.4L326.4,336.1L324.6,337.4L325.3,335.3L323.5,334.0L325.7,334.0ZM327.8,332.4L328.4,334.4L330.6,334.4L328.8,335.7L329.5,337.8L327.8,336.5L326.0,337.8L326.7,335.7L324.9,334.4L327.1,334.4ZM329.1,331.1L329.8,333.2L332.0,333.2L330.2,334.5L330.9,336.5L329.1,335.3L327.4,336.5L328.0,334.5L326.3,333.2L328.4,333.2ZM330.8,331.4L331.5,333.5L333.7,333.5L331.9,334.7L332.6,336.8L330.8,335.5L329.1,336.8L329.7,334.7L328.0,333.5L330.2,333.5ZM332.5,331.1L333.2,333.2L335.4,333.2L333.6,334.5L334.3,336.5L332.5,335.3L330.8,336.5L331.4,334.5L329.7,333.2L331.8,333.2ZM332.8,330.6L333.4,332.6L335.6,332.6L333.8,333.9L334.5,336.0L332.8,334.7L331.0,336.0L331.7,333.9L329.9,332.6L332.1,332.6ZM334.2,326.0L334.9,328.1L337.1,328.1L335.3,329.4L336.0,331.5L334.2,330.2L332.5,331.5L333.1,329.4L331.4,328.1L333.5,328.1ZM336.3,326.2L337.0,328.3L339.1,328.3L337.4,329.6L338.0,331.7L336.3,330.4L334.5,331.7L335.2,329.6L333.4,328.3L335.6,328.3ZM337.4,323.2L338.1,325.2L340.3,325.2L338.5,326.5L339.2,328.6L337.4,327.3L335.7,328.6L336.3,326.5L334.6,325.2L336.8,325.2ZM339.1,317.5L339.7,319.6L341.9,319.6L340.2,320.9L340.8,323.0L339.1,321.7L337.3,323.0L338.0,320.9L336.2,319.6L338.4,319.6ZM340.2,316.2L340.9,318.2L343.1,318.2L341.3,319.5L342.0,321.6L340.2,320.3L338.4,321.6L339.1,319.5L337.4,318.2L339.5,318.2ZM341.2,312.7L341.9,314.8L344.1,314.8L342.3,316.1L343.0,318.1L341.2,316.9L339.4,318.1L340.1,316.1L338.4,314.8L340.5,314.8ZM342.8,310.0L343.4,312.1L345.6,312.1L343.9,313.3L344.5,315.4L342.8,314.1L341.0,315.4L341.7,313.3L339.9,312.1L342.1,312.1ZM344.3,308.9L344.9,311.0L347.1,311.0L345.4,312.2L346.0,314.3L344.3,313.0L342.5,314.3L343.2,312.2L341.4,311.0L343.6,311.0ZM345.7,305.0L346.4,307.1L348.5,307.1L346.8,308.4L347.5,310.5L345.7,309.2L343.9,310.5L344.6,308.4L342.8,307.1L345.0,307.1ZM346.5,302.9L347.2,304.9L349.4,304.9L347.6,306.2L348.3,308.3L346.5,307.0L344.8,308.3L345.4,306.2L343.7,304.9L345.9,304.9ZM348.9,302.2L349.6,304.3L351.8,304.3L350.0,305.6L350.7,307.7L348.9,306.4L347.2,307.7L347.8,305.6L346.1,304.3L348.3,304.3ZM350.0,300.6L350.7,302.7L352.9,302.7L351.1,304.0L351.8,306.0L350.0,304.7L348.3,306.0L349.0,304.0L347.2,302.7L349.4,302.7ZM350.7,296.8L351.4,298.9L353.6,298.9L351.8,300.2L352.5,302.3L350.7,301.0L349.0,302.3L349.6,300.2L347.9,298.9L350.0,298.9ZM352.4,295.9L353.1,297.9L355.2,297.9L353.5,299.2L354.2,301.3L352.4,300.0L350.6,301.3L351.3,299.2L349.5,297.9L351.7,297.9ZM353.6,291.1L354.3,293.1L356.5,293.1L354.7,294.4L355.4,296.5L353.6,295.2L351.8,296.5L352.5,294.4L350.7,293.1L352.9,293.1ZM355.1,286.9L355.7,289.0L357.9,289.0L356.2,290.3L356.8,292.3L355.1,291.0L353.3,292.3L354.0,290.3L352.2,289.0L354.4,289.0ZM356.6,284.1L357.2,286.2L359.4,286.2L357.7,287.5L358.3,289.5L356.6,288.3L354.8,289.5L355.5,287.5L353.7,286.2L355.9,286.2ZM357.7,280.2L358.4,282.2L360.6,282.2L358.8,283.5L359.5,285.6L357.7,284.3L356.0,285.6L356.7,283.5L354.9,282.2L357.1,282.2ZM359.4,279.8L360.1,281.9L362.3,281.9L360.5,283.2L361.2,285.2L359.4,284.0L357.7,285.2L358.3,283.2L356.6,281.9L358.7,281.9ZM360.8,274.2L361.5,276.3L363.7,276.3L361.9,277.6L362.6,279.6L360.8,278.4L359.0,279.6L359.7,277.6L358.0,276.3L360.1,276.3ZM362.3,270.3L362.9,272.4L365.1,272.4L363.4,273.7L364.0,275.7L362.3,274.5L360.5,275.7L361.2,273.7L359.4,272.4L361.6,272.4ZM381.5,221.7L382.2,223.7L384.4,223.7L382.6,225.0L383.3,227.1L381.5,225.8L379.7,227.1L380.4,225.0L378.6,223.7L380.8,223.7ZM382.6,218.2L383.3,220.3L385.5,220.3L383.7,221.6L384.4,223.6L382.6,222.3L380.9,223.6L381.5,221.6L379.8,220.3L382.0,220.3ZM383.8,215.1L384.5,217.2L386.6,217.2L384.9,218.5L385.6,220.5L383.8,219.3L382.0,220.5L382.7,218.5L380.9,217.2L383.1,217.2ZM385.9,211.7L386.6,213.8L388.8,213.8L387.0,215.1L387.7,217.1L385.9,215.9L384.1,217.1L384.8,215.1L383.1,213.8L385.2,213.8ZM387.3,209.7L388.0,211.8L390.2,211.8L388.4,213.0L389.1,215.1L387.3,213.8L385.5,215.1L386.2,213.0L384.4,211.8L386.6,211.8ZM388.3,205.9L389.0,208.0L391.2,208.0L389.4,209.2L390.1,211.3L388.3,210.0L386.5,211.3L387.2,209.2L385.5,208.0L387.6,208.0ZM390.0,205.6L390.6,207.7L392.8,207.7L391.1,209.0L391.7,211.1L390.0,209.8L388.2,211.1L388.9,209.0L387.1,207.7L389.3,207.7ZM390.5,205.1L391.1,207.2L393.3,207.2L391.6,208.5L392.2,210.6L390.5,209.3L388.7,210.6L389.4,208.5L387.6,207.2L389.8,207.2ZM392.8,203.1L393.4,205.2L395.6,205.2L393.9,206.5L394.5,208.5L392.8,207.3L391.0,208.5L391.7,206.5L389.9,205.2L392.1,205.2ZM394.2,200.4L394.9,202.5L397.1,202.5L395.3,203.7L396.0,205.8L394.2,204.5L392.5,205.8L393.1,203.7L391.4,202.5L393.6,202.5ZM395.2,199.1L395.9,201.2L398.1,201.2L396.3,202.5L397.0,204.6L395.2,203.3L393.4,204.6L394.1,202.5L392.4,201.2L394.5,201.2ZM396.8,198.9L397.5,201.0L399.7,201.0L397.9,202.3L398.6,204.3L396.8,203.1L395.1,204.3L395.8,202.3L394.0,201.0L396.2,201.0ZM398.5,197.8L399.2,199.8L401.4,199.8L399.6,201.1L400.3,203.2L398.5,201.9L396.8,203.2L397.4,201.1L395.7,199.8L397.8,199.8ZM399.5,199.2L400.2,201.3L402.4,201.3L400.6,202.5L401.3,204.6L399.5,203.3L397.8,204.6L398.4,202.5L396.7,201.3L398.8,201.3ZM400.7,196.8L401.4,198.9L403.6,198.9L401.8,200.2L402.5,202.3L400.7,201.0L399.0,202.3L399.6,200.2L397.9,198.9L400.0,198.9ZM401.7,197.7L402.4,199.7L404.6,199.7L402.8,201.0L403.5,203.1L401.7,201.8L399.9,203.1L400.6,201.0L398.8,199.7L401.0,199.7ZM403.7,197.7L404.4,199.8L406.6,199.8L404.8,201.1L405.5,203.2L403.7,201.9L402.0,203.2L402.6,201.1L400.9,199.8L403.0,199.8ZM404.7,197.4L405.3,199.5L407.5,199.5L405.8,200.8L406.4,202.9L404.7,201.6L402.9,202.9L403.6,200.8L401.8,199.5L404.0,199.5ZM406.3,196.3L407.0,198.3L409.2,198.3L407.4,199.6L408.1,201.7L406.3,200.4L404.6,201.7L405.3,199.6L403.5,198.3L405.7,198.3ZM407.7,194.7L408.4,196.8L410.5,196.8L408.8,198.0L409.4,200.1L407.7,198.8L405.9,200.1L406.6,198.0L404.8,196.8L407.0,196.8ZM408.8,195.9L409.5,198.0L411.7,198.0L409.9,199.2L410.6,201.3L408.8,200.0L407.1,201.3L407.8,199.2L406.0,198.0L408.2,198.0ZM410.2,194.7L410.9,196.7L413.1,196.7L411.3,198.0L412.0,200.1L410.2,198.8L408.5,200.1L409.1,198.0L407.4,196.7L409.5,196.7ZM411.7,194.6L412.4,196.7L414.6,196.7L412.8,198.0L413.5,200.1L411.7,198.8L409.9,200.1L410.6,198.0L408.8,196.7L411.0,196.7Z"/>
<polyline points="50.0,339.4 80.0,339.1 110.0,338.8 135.0,338.6 190.0,337.7 217.0,338.6 235.0,336.7 253.7,336.1 272.8,337.7 301.5,337.3 315.0,337.7 324.2,336.5 331.1,334.2 335.7,328.5 339.1,319.3 342.5,311.3 347.1,305.6 350.6,301.0 354.0,292.9 357.5,279.2 359.1,270.0 362.0,254.3 380.4,246.2 383.8,227.9 387.3,214.1 391.9,206.1 397.6,202.6 404.5,199.6 412.5,197.3" fill="none" stroke="#0000ff" stroke-width="1.25" stroke-linejoin="round"/>
<polyline points="82.3,341.1 135.0,341.1 190.0,340.2 217.0,341.3 235.0,339.5 253.7,339.2 272.8,341.8 301.5,340.5 315.0,341.1 324.2,340.0 329.9,337.7 334.5,330.8 337.9,322.8 341.4,312.5 344.8,304.4 349.4,297.5 352.9,288.4 355.2,279.2 357.0,270.0 359.7,256.5 362.0,238.2 380.4,230.2 382.7,217.5 386.1,200.3 389.6,195.7 391.9,194.1 394.2,198.0 396.5,206.1 399.9,210.7 403.3,217.5 406.8,229.0 410.2,248.5 412.5,258.4" fill="none" stroke="#008000" stroke-width="1.5" stroke-linejoin="round"/>
<g fill="#008000"><circle cx="83.0" cy="341.1" r="1.35"/><circle cx="84.4" cy="341.1" r="1.35"/><circle cx="85.8" cy="341.1" r="1.35"/><circle cx="87.1" cy="341.1" r="1.35"/><circle cx="88.5" cy="341.1" r="1.35"/><circle cx="89.9" cy="341.1" r="1.35"/><circle cx="91.2" cy="341.1" r="1.35"/><circle cx="92.6" cy="341.1" r="1.35"/><circle cx="94.0" cy="341.1" r="1.35"/><circle cx="95.4" cy="341.1" r="1.35"/><circle cx="96.8" cy="341.1" r="1.35"/><circle cx="98.1" cy="341.1" r="1.35"/><circle cx="99.5" cy="341.1" r="1.35"/><circle cx="100.9" cy="341.1" r="1.35"/><circle cx="102.2" cy="341.1" r="1.35"/><circle cx="103.6" cy="341.1" r="1.35"/><circle cx="105.0" cy="341.1" r="1.35"/><circle cx="106.4" cy="341.1" r="1.35"/><circle cx="107.8" cy="341.1" r="1.35"/><circle cx="109.1" cy="341.1" r="1.35"/><circle cx="110.5" cy="341.1" r="1.35"/><circle cx="111.9" cy="341.1" r="1.35"/><circle cx="113.2" cy="341.1" r="1.35"/><circle cx="114.6" cy="341.1" r="1.35"/><circle cx="116.0" cy="341.1" r="1.35"/><circle cx="117.4" cy="341.1" r="1.35"/><circle cx="118.8" cy="341.1" r="1.35"/><circle cx="120.1" cy="341.1" r="1.35"/><circle cx="121.5" cy="341.1" r="1.35"/><circle cx="122.9" cy="341.1" r="1.35"/><circle cx="124.2" cy="341.1" r="1.35"/><circle cx="125.6" cy="341.1" r="1.35"/><circle cx="127.0" cy="341.1" r="1.35"/><circle cx="128.4" cy="341.1" r="1.35"/><circle cx="129.8" cy="341.1" r="1.35"/><circle cx="131.1" cy="341.1" r="1.35"/><circle cx="132.5" cy="341.1" r="1.35"/><circle cx="133.9" cy="341.1" r="1.35"/><circle cx="135.2" cy="341.1" r="1.35"/><circle cx="136.6" cy="341.1" r="1.35"/><circle cx="138.0" cy="341.1" r="1.35"/><circle cx="139.4" cy="341.0" r="1.35"/><circle cx="140.8" cy="341.0" r="1.35"/><circle cx="142.1" cy="341.0" r="1.35"/><circle cx="143.5" cy="341.0" r="1.35"/><circle cx="144.9" cy="340.9" r="1.35"/><circle cx="146.2" cy="340.9" r="1.35"/><circle cx="147.6" cy="340.9" r="1.35"/><circle cx="149.0" cy="340.9" r="1.35"/><circle cx="150.4" cy="340.8" r="1.35"/><circle cx="151.8" cy="340.8" r="1.35"/><circle cx="153.1" cy="340.8" r="1.35"/><circle cx="154.5" cy="340.8" r="1.35"/><circle cx="155.9" cy="340.8" r="1.35"/><circle cx="157.2" cy="340.7" r="1.35"/><circle cx="158.6" cy="340.7" r="1.35"/><circle cx="160.0" cy="340.7" r="1.35"/><circle cx="161.4" cy="340.7" r="1.35"/><circle cx="162.8" cy="340.6" r="1.35"/><circle cx="164.1" cy="340.6" r="1.35"/><circle cx="165.5" cy="340.6" r="1.35"/><circle cx="166.9" cy="340.6" r="1.35"/><circle cx="168.2" cy="340.6" r="1.35"/><circle cx="169.6" cy="340.5" r="1.35"/><circle cx="171.0" cy="340.5" r="1.35"/><circle cx="172.4" cy="340.5" r="1.35"/><circle cx="173.8" cy="340.5" r="1.35"/><circle cx="175.1" cy="340.4" r="1.35"/><circle cx="176.5" cy="340.4" r="1.35"/><circle cx="177.9" cy="340.4" r="1.35"/><circle cx="179.2" cy="340.4" r="1.35"/><circle cx="180.6" cy="340.4" r="1.35"/><circle cx="182.0" cy="340.3" r="1.35"/><circle cx="183.4" cy="340.3" r="1.35"/><circle cx="184.8" cy="340.3" r="1.35"/><circle cx="186.1" cy="340.3" r="1.35"/><circle cx="187.5" cy="340.2" r="1.35"/><circle cx="188.9" cy="340.2" r="1.35"/><circle cx="190.2" cy="340.2" r="1.35"/><circle cx="191.6" cy="340.3" r="1.35"/><circle cx="193.0" cy="340.3" r="1.35"/><circle cx="194.4" cy="340.4" r="1.35"/><circle cx="195.8" cy="340.4" r="1.35"/><circle cx="197.1" cy="340.5" r="1.35"/><circle cx="198.5" cy="340.5" r="1.35"/><circle cx="199.9" cy="340.6" r="1.35"/><circle cx="201.2" cy="340.7" r="1.35"/><circle cx="202.6" cy="340.7" r="1.35"/><circle cx="204.0" cy="340.8" r="1.35"/><circle cx="205.4" cy="340.8" r="1.35"/><circle cx="206.8" cy="340.9" r="1.35"/><circle cx="208.1" cy="340.9" r="1.35"/><circle cx="209.5" cy="341.0" r="1.35"/><circle cx="210.9" cy="341.1" r="1.35"/><circle cx="212.2" cy="341.1" r="1.35"/><circle cx="213.6" cy="341.2" r="1.35"/><circle cx="215.0" cy="341.2" r="1.35"/><circle cx="216.4" cy="341.3" r="1.35"/><circle cx="217.8" cy="341.2" r="1.35"/><circle cx="219.1" cy="341.1" r="1.35"/><circle cx="220.5" cy="340.9" r="1.35"/><circle cx="221.9" cy="340.8" r="1.35"/><circle cx="223.2" cy="340.7" r="1.35"/><circle cx="224.6" cy="340.5" r="1.35"/><circle cx="226.0" cy="340.4" r="1.35"/><circle cx="227.4" cy="340.3" r="1.35"/><circle cx="228.8" cy="340.1" r="1.35"/><circle cx="230.1" cy="340.0" r="1.35"/><circle cx="231.5" cy="339.9" r="1.35"/><circle cx="232.9" cy="339.7" r="1.35"/><circle cx="234.2" cy="339.6" r="1.35"/><circle cx="235.6" cy="339.5" r="1.35"/><circle cx="237.0" cy="339.5" r="1.35"/><circle cx="238.4" cy="339.4" r="1.35"/><circle cx="239.8" cy="339.4" r="1.35"/><circle cx="241.1" cy="339.4" r="1.35"/><circle cx="242.5" cy="339.4" r="1.35"/><circle cx="243.9" cy="339.4" r="1.35"/><circle cx="245.2" cy="339.3" r="1.35"/><circle cx="246.6" cy="339.3" r="1.35"/><circle cx="248.0" cy="339.3" r="1.35"/><circle cx="249.4" cy="339.3" r="1.35"/><circle cx="250.8" cy="339.2" r="1.35"/><circle cx="252.1" cy="339.2" r="1.35"/><circle cx="253.5" cy="339.2" r="1.35"/><circle cx="254.9" cy="339.4" r="1.35"/><circle cx="256.2" cy="339.5" r="1.35"/><circle cx="257.6" cy="339.7" r="1.35"/><circle cx="259.0" cy="339.9" r="1.35"/><circle cx="260.4" cy="340.1" r="1.35"/><circle cx="261.8" cy="340.3" r="1.35"/><circle cx="263.1" cy="340.5" r="1.35"/><circle cx="264.5" cy="340.7" r="1.35"/><circle cx="265.9" cy="340.9" r="1.35"/><circle cx="267.2" cy="341.0" r="1.35"/><circle cx="268.6" cy="341.2" r="1.35"/><circle cx="270.0" cy="341.4" r="1.35"/><circle cx="271.4" cy="341.6" r="1.35"/><circle cx="272.8" cy="341.8" r="1.35"/><circle cx="274.1" cy="341.7" r="1.35"/><circle cx="275.5" cy="341.7" r="1.35"/><circle cx="276.9" cy="341.6" r="1.35"/><circle cx="278.2" cy="341.6" r="1.35"/><circle cx="279.6" cy="341.5" r="1.35"/><circle cx="281.0" cy="341.4" r="1.35"/><circle cx="282.4" cy="341.4" r="1.35"/><circle cx="283.8" cy="341.3" r="1.35"/><circle cx="285.1" cy="341.2" r="1.35"/><circle cx="286.5" cy="341.2" r="1.35"/><circle cx="287.9" cy="341.1" r="1.35"/><circle cx="289.2" cy="341.1" r="1.35"/><circle cx="290.6" cy="341.0" r="1.35"/><circle cx="292.0" cy="340.9" r="1.35"/><circle cx="293.4" cy="340.9" r="1.35"/><circle cx="294.8" cy="340.8" r="1.35"/><circle cx="296.1" cy="340.7" r="1.35"/><circle cx="297.5" cy="340.7" r="1.35"/><circle cx="298.9" cy="340.6" r="1.35"/><circle cx="300.2" cy="340.6" r="1.35"/><circle cx="301.6" cy="340.5" r="1.35"/><circle cx="303.0" cy="340.6" r="1.35"/><circle cx="304.4" cy="340.6" r="1.35"/><circle cx="305.8" cy="340.7" r="1.35"/><circle cx="307.1" cy="340.8" r="1.35"/><circle cx="308.5" cy="340.8" r="1.35"/><circle cx="309.9" cy="340.9" r="1.35"/><circle cx="311.2" cy="340.9" r="1.35"/><circle cx="312.6" cy="341.0" r="1.35"/><circle cx="314.0" cy="341.1" r="1.35"/><circle cx="315.4" cy="341.1" r="1.35"/><circle cx="316.8" cy="340.9" r="1.35"/><circle cx="318.1" cy="340.7" r="1.35"/><circle cx="319.5" cy="340.6" r="1.35"/><circle cx="320.9" cy="340.4" r="1.35"/><circle cx="322.2" cy="340.2" r="1.35"/><circle cx="323.6" cy="340.1" r="1.35"/><circle cx="325.0" cy="339.7" r="1.35"/><circle cx="326.4" cy="339.1" r="1.35"/><circle cx="327.8" cy="338.6" r="1.35"/><circle cx="329.1" cy="338.0" r="1.35"/><circle cx="330.5" cy="336.8" r="1.35"/><circle cx="331.9" cy="334.7" r="1.35"/><circle cx="333.2" cy="332.7" r="1.35"/><circle cx="334.6" cy="330.5" r="1.35"/><circle cx="336.0" cy="327.3" r="1.35"/><circle cx="337.4" cy="324.0" r="1.35"/><circle cx="338.8" cy="320.3" r="1.35"/><circle cx="340.1" cy="316.3" r="1.35"/><circle cx="341.5" cy="312.3" r="1.35"/><circle cx="342.9" cy="309.0" r="1.35"/><circle cx="344.2" cy="305.7" r="1.35"/><circle cx="345.6" cy="303.2" r="1.35"/><circle cx="347.0" cy="301.1" r="1.35"/><circle cx="348.4" cy="299.0" r="1.35"/><circle cx="349.8" cy="296.6" r="1.35"/><circle cx="351.1" cy="293.0" r="1.35"/><circle cx="352.5" cy="289.4" r="1.35"/><circle cx="353.9" cy="284.5" r="1.35"/><circle cx="355.2" cy="278.9" r="1.35"/><circle cx="356.6" cy="271.9" r="1.35"/><circle cx="358.0" cy="265.0" r="1.35"/><circle cx="359.4" cy="258.1" r="1.35"/><circle cx="360.8" cy="248.1" r="1.35"/><circle cx="381.4" cy="224.8" r="1.35"/><circle cx="382.8" cy="217.2" r="1.35"/><circle cx="384.1" cy="210.3" r="1.35"/><circle cx="385.5" cy="203.3" r="1.35"/><circle cx="386.9" cy="199.3" r="1.35"/><circle cx="388.2" cy="197.5" r="1.35"/><circle cx="389.6" cy="195.7" r="1.35"/><circle cx="391.0" cy="194.7" r="1.35"/><circle cx="392.4" cy="194.9" r="1.35"/><circle cx="393.8" cy="197.2" r="1.35"/><circle cx="395.1" cy="201.3" r="1.35"/><circle cx="396.5" cy="206.1" r="1.35"/><circle cx="397.9" cy="208.0" r="1.35"/><circle cx="399.2" cy="209.8" r="1.35"/><circle cx="400.6" cy="212.2" r="1.35"/><circle cx="402.0" cy="214.9" r="1.35"/><circle cx="403.4" cy="217.7" r="1.35"/><circle cx="404.8" cy="222.3" r="1.35"/><circle cx="406.1" cy="226.8" r="1.35"/><circle cx="407.5" cy="233.0" r="1.35"/><circle cx="408.9" cy="240.9" r="1.35"/><circle cx="410.2" cy="248.7" r="1.35"/><circle cx="411.6" cy="254.6" r="1.35"/></g>
<polyline points="83.2,216.8 84.8,220.6 87.1,231.1 89.4,236.8 90.9,250.2 92.8,241.6 95.1,234.9 97.6,245.4 98.9,248.3 100.8,236.8 102.4,239.7 104.7,232.1 106.2,230.2 107.7,245.4 109.1,262.7 110.0,251.2 111.5,270.7 112.9,243.5 114.2,255.0 116.0,298.5 116.4,324.3 117.6,280.0 118.6,247.4 119.6,235.9 121.5,222.5 122.4,243.5 123.8,256.9 125.3,275.0 126.3,286.0 127.3,270.0 128.2,251.2 129.5,245.4 131.0,264.6 132.0,285.0 133.0,312.8 134.9,315.7 136.8,288.0 138.3,322.4 139.6,291.8 140.4,270.0 141.1,240.7 142.6,225.4 144.2,234.0 146.1,224.4 148.0,217.7 149.3,234.0 150.3,270.0 150.7,310.9 152.2,328.1 154.1,331.9 156.0,317.6 156.8,270.0 157.6,244.5 158.7,223.5 160.2,253.1 161.0,275.0 161.8,316.6 162.7,297.5 163.5,265.0 164.1,229.2 165.6,213.3 168.5,214.5 170.9,212.6 172.5,219.6 174.2,246.4 175.5,266.5 176.7,271.7 178.0,296.5 179.4,322.4 180.5,334.8 182.8,322.4 185.1,303.2 185.7,265.0 186.2,222.5 187.6,219.6 189.1,249.3 190.3,275.0 191.4,312.8 192.0,324.3 192.7,285.0 193.3,252.1 194.7,231.1 196.2,232.4 197.7,258.8 199.1,272.6 200.0,289.9 201.5,312.8 202.9,323.3 204.8,327.1 206.1,324.3 207.3,310.9 208.6,324.3 210.5,326.2 212.4,309.9 213.8,282.2 214.6,260.0 215.3,237.8 216.3,265.0 217.2,294.6 218.2,322.4 219.5,331.9 222.0,330.0 223.9,318.5 225.8,310.9 228.3,309.9 229.6,322.4 231.7,329.1 234.2,329.1 236.1,326.2 236.9,312.8 237.4,283.2 238.8,293.7 239.9,289.9 240.7,265.0 241.8,234.0 243.2,215.8 246.0,212.9 249.9,208.2 253.7,207.2 256.5,210.1 259.0,214.9 260.6,224.4 261.9,241.6 262.7,270.0 263.2,293.7 264.2,314.7 265.5,326.2 268.0,331.0 269.9,336.7 271.3,324.3 272.8,312.8 274.3,326.2 276.2,330.0 278.5,337.7 281.4,341.5 285.2,343.4 290.0,341.5 292.9,337.7 294.8,331.9 295.7,312.8 296.1,270.0 296.7,250.2 297.7,219.6 299.6,213.9 301.9,209.1 303.4,212.9 304.9,218.7 306.3,231.1 307.6,224.4 308.7,243.5 310.1,253.1 311.4,225.4 313.0,226.3 314.5,214.9 316.4,212.0 319.6,210.1 322.5,208.5 328.8,207.5 332.0,205.5 335.7,202.6 338.0,201.5 360.9,201.0 411.4,201.0 411.8,270.0 412.3,345.7" fill="none" stroke="#ffa500" stroke-width="1.5" stroke-linejoin="round"/>
<g fill="#ffa500"><circle cx="84.4" cy="219.6" r="1.55"/><circle cx="85.8" cy="224.9" r="1.55"/><circle cx="87.1" cy="231.2" r="1.55"/><circle cx="88.5" cy="234.6" r="1.55"/><circle cx="89.9" cy="241.0" r="1.55"/><circle cx="91.2" cy="248.6" r="1.55"/><circle cx="92.6" cy="242.4" r="1.55"/><circle cx="94.0" cy="238.1" r="1.55"/><circle cx="95.4" cy="236.1" r="1.55"/><circle cx="96.8" cy="241.8" r="1.55"/><circle cx="98.1" cy="246.6" r="1.55"/><circle cx="99.5" cy="244.7" r="1.55"/><circle cx="100.9" cy="236.9" r="1.55"/><circle cx="102.2" cy="239.4" r="1.55"/><circle cx="103.6" cy="235.7" r="1.55"/><circle cx="105.0" cy="231.7" r="1.55"/><circle cx="106.4" cy="232.0" r="1.55"/><circle cx="107.8" cy="246.0" r="1.55"/><circle cx="109.1" cy="262.4" r="1.55"/><circle cx="110.5" cy="257.7" r="1.55"/><circle cx="111.9" cy="263.4" r="1.55"/><circle cx="113.2" cy="246.6" r="1.55"/><circle cx="114.6" cy="265.3" r="1.55"/><circle cx="116.0" cy="298.5" r="1.55"/><circle cx="117.4" cy="288.3" r="1.55"/><circle cx="118.8" cy="245.7" r="1.55"/><circle cx="120.1" cy="232.2" r="1.55"/><circle cx="121.5" cy="222.5" r="1.55"/><circle cx="122.9" cy="248.0" r="1.55"/><circle cx="124.2" cy="262.3" r="1.55"/><circle cx="125.6" cy="278.6" r="1.55"/><circle cx="127.0" cy="274.8" r="1.55"/><circle cx="128.4" cy="250.4" r="1.55"/><circle cx="129.8" cy="248.6" r="1.55"/><circle cx="131.1" cy="267.2" r="1.55"/><circle cx="132.5" cy="298.9" r="1.55"/><circle cx="133.9" cy="314.1" r="1.55"/><circle cx="135.2" cy="310.6" r="1.55"/><circle cx="136.6" cy="290.6" r="1.55"/><circle cx="138.0" cy="315.5" r="1.55"/><circle cx="139.4" cy="297.1" r="1.55"/><circle cx="140.8" cy="255.3" r="1.55"/><circle cx="142.1" cy="230.2" r="1.55"/><circle cx="143.5" cy="230.2" r="1.55"/><circle cx="144.9" cy="230.6" r="1.55"/><circle cx="146.2" cy="223.9" r="1.55"/><circle cx="147.6" cy="219.0" r="1.55"/><circle cx="149.0" cy="230.2" r="1.55"/><circle cx="150.4" cy="277.7" r="1.55"/><circle cx="151.8" cy="322.9" r="1.55"/><circle cx="153.1" cy="330.0" r="1.55"/><circle cx="154.5" cy="328.9" r="1.55"/><circle cx="155.9" cy="318.5" r="1.55"/><circle cx="157.2" cy="255.7" r="1.55"/><circle cx="158.6" cy="224.9" r="1.55"/><circle cx="160.0" cy="249.2" r="1.55"/><circle cx="161.4" cy="294.5" r="1.55"/><circle cx="162.8" cy="295.5" r="1.55"/><circle cx="164.1" cy="228.9" r="1.55"/><circle cx="165.5" cy="214.4" r="1.55"/><circle cx="166.9" cy="213.8" r="1.55"/><circle cx="168.2" cy="214.4" r="1.55"/><circle cx="169.6" cy="213.6" r="1.55"/><circle cx="171.0" cy="213.0" r="1.55"/><circle cx="172.4" cy="219.1" r="1.55"/><circle cx="173.8" cy="239.3" r="1.55"/><circle cx="175.1" cy="260.7" r="1.55"/><circle cx="176.5" cy="270.8" r="1.55"/><circle cx="177.9" cy="294.1" r="1.55"/><circle cx="179.2" cy="319.6" r="1.55"/><circle cx="180.6" cy="334.1" r="1.55"/><circle cx="182.0" cy="326.7" r="1.55"/><circle cx="183.4" cy="317.6" r="1.55"/><circle cx="184.8" cy="306.1" r="1.55"/><circle cx="186.1" cy="228.9" r="1.55"/><circle cx="187.5" cy="219.8" r="1.55"/><circle cx="188.9" cy="244.8" r="1.55"/><circle cx="190.2" cy="273.9" r="1.55"/><circle cx="191.6" cy="317.1" r="1.55"/><circle cx="193.0" cy="268.6" r="1.55"/><circle cx="194.4" cy="236.0" r="1.55"/><circle cx="195.8" cy="232.0" r="1.55"/><circle cx="197.1" cy="248.7" r="1.55"/><circle cx="198.5" cy="266.7" r="1.55"/><circle cx="199.9" cy="287.5" r="1.55"/><circle cx="201.2" cy="309.0" r="1.55"/><circle cx="202.6" cy="321.2" r="1.55"/><circle cx="204.0" cy="325.5" r="1.55"/><circle cx="205.4" cy="325.9" r="1.55"/><circle cx="206.8" cy="317.0" r="1.55"/><circle cx="208.1" cy="319.4" r="1.55"/><circle cx="209.5" cy="325.2" r="1.55"/><circle cx="210.9" cy="323.0" r="1.55"/><circle cx="212.2" cy="311.2" r="1.55"/><circle cx="213.6" cy="285.7" r="1.55"/><circle cx="215.0" cy="247.3" r="1.55"/><circle cx="216.4" cy="267.5" r="1.55"/><circle cx="217.8" cy="309.9" r="1.55"/><circle cx="219.1" cy="329.2" r="1.55"/><circle cx="220.5" cy="331.1" r="1.55"/><circle cx="221.9" cy="330.1" r="1.55"/><circle cx="223.2" cy="322.4" r="1.55"/><circle cx="224.6" cy="315.6" r="1.55"/><circle cx="226.0" cy="310.8" r="1.55"/><circle cx="227.4" cy="310.3" r="1.55"/><circle cx="228.8" cy="314.2" r="1.55"/><circle cx="230.1" cy="324.1" r="1.55"/><circle cx="231.5" cy="328.5" r="1.55"/><circle cx="232.9" cy="329.1" r="1.55"/><circle cx="234.2" cy="329.0" r="1.55"/><circle cx="235.6" cy="326.9" r="1.55"/><circle cx="237.0" cy="306.9" r="1.55"/><circle cx="238.4" cy="290.5" r="1.55"/><circle cx="239.8" cy="290.4" r="1.55"/><circle cx="241.1" cy="253.0" r="1.55"/><circle cx="242.5" cy="224.9" r="1.55"/><circle cx="243.9" cy="215.1" r="1.55"/><circle cx="245.2" cy="213.7" r="1.55"/><circle cx="246.6" cy="212.1" r="1.55"/><circle cx="248.0" cy="210.5" r="1.55"/><circle cx="249.4" cy="208.8" r="1.55"/><circle cx="250.8" cy="208.0" r="1.55"/><circle cx="252.1" cy="207.6" r="1.55"/><circle cx="253.5" cy="207.3" r="1.55"/><circle cx="254.9" cy="208.4" r="1.55"/><circle cx="256.2" cy="209.8" r="1.55"/><circle cx="257.6" cy="212.3" r="1.55"/><circle cx="259.0" cy="214.9" r="1.55"/><circle cx="260.4" cy="223.1" r="1.55"/><circle cx="261.8" cy="239.6" r="1.55"/><circle cx="263.1" cy="290.1" r="1.55"/><circle cx="264.5" cy="317.4" r="1.55"/><circle cx="265.9" cy="326.9" r="1.55"/><circle cx="267.2" cy="329.6" r="1.55"/><circle cx="268.6" cy="332.9" r="1.55"/><circle cx="270.0" cy="335.8" r="1.55"/><circle cx="271.4" cy="323.7" r="1.55"/><circle cx="272.8" cy="313.2" r="1.55"/><circle cx="274.1" cy="324.6" r="1.55"/><circle cx="275.5" cy="328.6" r="1.55"/><circle cx="276.9" cy="332.3" r="1.55"/><circle cx="278.2" cy="336.9" r="1.55"/><circle cx="279.6" cy="339.2" r="1.55"/><circle cx="281.0" cy="341.0" r="1.55"/><circle cx="282.4" cy="342.0" r="1.55"/><circle cx="283.8" cy="342.7" r="1.55"/><circle cx="285.1" cy="343.4" r="1.55"/><circle cx="286.5" cy="342.9" r="1.55"/><circle cx="287.9" cy="342.3" r="1.55"/><circle cx="289.2" cy="341.8" r="1.55"/><circle cx="290.6" cy="340.7" r="1.55"/><circle cx="292.0" cy="338.9" r="1.55"/><circle cx="293.4" cy="336.2" r="1.55"/><circle cx="294.8" cy="332.1" r="1.55"/><circle cx="296.1" cy="269.2" r="1.55"/><circle cx="297.5" cy="225.7" r="1.55"/><circle cx="298.9" cy="216.1" r="1.55"/><circle cx="300.2" cy="212.5" r="1.55"/><circle cx="301.6" cy="209.7" r="1.55"/><circle cx="303.0" cy="211.9" r="1.55"/><circle cx="304.4" cy="216.7" r="1.55"/><circle cx="305.8" cy="226.2" r="1.55"/><circle cx="307.1" cy="226.8" r="1.55"/><circle cx="308.5" cy="240.0" r="1.55"/><circle cx="309.9" cy="251.6" r="1.55"/><circle cx="311.2" cy="228.6" r="1.55"/><circle cx="312.6" cy="226.1" r="1.55"/><circle cx="314.0" cy="218.7" r="1.55"/><circle cx="315.4" cy="213.6" r="1.55"/><circle cx="316.8" cy="211.8" r="1.55"/><circle cx="318.1" cy="211.0" r="1.55"/><circle cx="319.5" cy="210.2" r="1.55"/><circle cx="320.9" cy="209.4" r="1.55"/><circle cx="322.2" cy="208.6" r="1.55"/><circle cx="323.6" cy="208.3" r="1.55"/><circle cx="325.0" cy="208.1" r="1.55"/><circle cx="326.4" cy="207.9" r="1.55"/><circle cx="327.8" cy="207.7" r="1.55"/><circle cx="329.1" cy="207.3" r="1.55"/><circle cx="330.5" cy="206.4" r="1.55"/><circle cx="331.9" cy="205.6" r="1.55"/><circle cx="333.2" cy="204.5" r="1.55"/><circle cx="334.6" cy="203.4" r="1.55"/><circle cx="336.0" cy="202.5" r="1.55"/><circle cx="337.4" cy="201.8" r="1.55"/><circle cx="338.8" cy="201.5" r="1.55"/><circle cx="340.1" cy="201.5" r="1.55"/><circle cx="341.5" cy="201.4" r="1.55"/><circle cx="342.9" cy="201.4" r="1.55"/><circle cx="344.2" cy="201.4" r="1.55"/><circle cx="345.6" cy="201.3" r="1.55"/><circle cx="347.0" cy="201.3" r="1.55"/><circle cx="348.4" cy="201.3" r="1.55"/><circle cx="349.8" cy="201.2" r="1.55"/><circle cx="351.1" cy="201.2" r="1.55"/><circle cx="352.5" cy="201.2" r="1.55"/><circle cx="353.9" cy="201.2" r="1.55"/><circle cx="355.2" cy="201.1" r="1.55"/><circle cx="356.6" cy="201.1" r="1.55"/><circle cx="358.0" cy="201.1" r="1.55"/><circle cx="359.4" cy="201.0" r="1.55"/><circle cx="360.8" cy="201.0" r="1.55"/><circle cx="362.1" cy="201.0" r="1.55"/><circle cx="363.5" cy="201.0" r="1.55"/><circle cx="364.9" cy="201.0" r="1.55"/><circle cx="366.2" cy="201.0" r="1.55"/><circle cx="367.6" cy="201.0" r="1.55"/><circle cx="369.0" cy="201.0" r="1.55"/><circle cx="370.4" cy="201.0" r="1.55"/><circle cx="371.8" cy="201.0" r="1.55"/><circle cx="373.1" cy="201.0" r="1.55"/><circle cx="374.5" cy="201.0" r="1.55"/><circle cx="375.9" cy="201.0" r="1.55"/><circle cx="377.2" cy="201.0" r="1.55"/><circle cx="378.6" cy="201.0" r="1.55"/><circle cx="380.0" cy="201.0" r="1.55"/><circle cx="381.4" cy="201.0" r="1.55"/><circle cx="382.8" cy="201.0" r="1.55"/><circle cx="384.1" cy="201.0" r="1.55"/><circle cx="385.5" cy="201.0" r="1.55"/><circle cx="386.9" cy="201.0" r="1.55"/><circle cx="388.2" cy="201.0" r="1.55"/><circle cx="389.6" cy="201.0" r="1.55"/><circle cx="391.0" cy="201.0" r="1.55"/><circle cx="392.4" cy="201.0" r="1.55"/><circle cx="393.8" cy="201.0" r="1.55"/><circle cx="395.1" cy="201.0" r="1.55"/><circle cx="396.5" cy="201.0" r="1.55"/><circle cx="397.9" cy="201.0" r="1.55"/><circle cx="399.2" cy="201.0" r="1.55"/><circle cx="400.6" cy="201.0" r="1.55"/><circle cx="402.0" cy="201.0" r="1.55"/><circle cx="403.4" cy="201.0" r="1.55"/><circle cx="404.8" cy="201.0" r="1.55"/><circle cx="406.1" cy="201.0" r="1.55"/><circle cx="407.5" cy="201.0" r="1.55"/><circle cx="408.9" cy="201.0" r="1.55"/><circle cx="410.2" cy="201.0" r="1.55"/><circle cx="411.6" cy="239.8" r="1.55"/></g>
</g>
<text x="50.2" y="204.1" font-family="Liberation Serif, serif" font-weight="bold" font-size="9.1" fill="#000" stroke="#000" stroke-width="0.22" textLength="22.1" lengthAdjust="spacingAndGlyphs">θ=85°</text>
<text x="50.2" y="219.7" font-family="Liberation Serif, serif" font-weight="bold" font-size="9.1" fill="#000" stroke="#000" stroke-width="0.22" textLength="22.1" lengthAdjust="spacingAndGlyphs">θ=80°</text>
<text x="50.2" y="322.1" font-family="Liberation Serif, serif" font-weight="bold" font-size="9.1" fill="#000" stroke="#000" stroke-width="0.22" textLength="39.8" lengthAdjust="spacingAndGlyphs">v=30mm/d</text>
<text x="50.2" y="335.4" font-family="Liberation Serif, serif" font-weight="bold" font-size="9.1" fill="#000" stroke="#000" stroke-width="0.22" textLength="39.8" lengthAdjust="spacingAndGlyphs">v=10mm/d</text>
<text x="46.7" y="271.7" font-family="Liberation Serif, serif" font-weight="bold" font-size="13.8" fill="#f00" textLength="31.2" lengthAdjust="spacingAndGlyphs">NN07</text>
<text x="35.6" y="351.0" font-family="Liberation Serif, serif" font-size="16.8" fill="#000">(b)</text>
<rect x="31.6" y="193.5" width="398.8" height="161.9" fill="none" stroke="#222" stroke-width="0.9"/>
<line x1="474.8" y1="193.5" x2="474.8" y2="355.4" stroke="#222" stroke-width="0.9"/>
<line x1="31.6" y1="198.7" x2="34.6" y2="198.7" stroke="#222" stroke-width="0.8"/>
<text x="29.0" y="201.0" text-anchor="end" font-family="Liberation Serif, serif" font-weight="bold" font-size="9.1" fill="#000" stroke="#000" stroke-width="0.22" textLength="13.1" lengthAdjust="spacingAndGlyphs">350</text>
<line x1="31.6" y1="224.8" x2="34.6" y2="224.8" stroke="#222" stroke-width="0.8"/>
<text x="29.0" y="227.1" text-anchor="end" font-family="Liberation Serif, serif" font-weight="bold" font-size="9.1" fill="#000" stroke="#000" stroke-width="0.22" textLength="13.1" lengthAdjust="spacingAndGlyphs">300</text>
<line x1="31.6" y1="250.9" x2="34.6" y2="250.9" stroke="#222" stroke-width="0.8"/>
<text x="29.0" y="253.2" text-anchor="end" font-family="Liberation Serif, serif" font-weight="bold" font-size="9.1" fill="#000" stroke="#000" stroke-width="0.22" textLength="13.1" lengthAdjust="spacingAndGlyphs">250</text>
<line x1="31.6" y1="277.1" x2="34.6" y2="277.1" stroke="#222" stroke-width="0.8"/>
<text x="29.0" y="279.4" text-anchor="end" font-family="Liberation Serif, serif" font-weight="bold" font-size="9.1" fill="#000" stroke="#000" stroke-width="0.22" textLength="13.1" lengthAdjust="spacingAndGlyphs">200</text>
<line x1="31.6" y1="303.2" x2="34.6" y2="303.2" stroke="#222" stroke-width="0.8"/>
<text x="29.0" y="305.5" text-anchor="end" font-family="Liberation Serif, serif" font-weight="bold" font-size="9.1" fill="#000" stroke="#000" stroke-width="0.22" textLength="13.1" lengthAdjust="spacingAndGlyphs">150</text>
<line x1="31.6" y1="329.3" x2="34.6" y2="329.3" stroke="#222" stroke-width="0.8"/>
<text x="29.0" y="331.6" text-anchor="end" font-family="Liberation Serif, serif" font-weight="bold" font-size="9.1" fill="#000" stroke="#000" stroke-width="0.22" textLength="13.1" lengthAdjust="spacingAndGlyphs">100</text>
<line x1="31.6" y1="355.3" x2="34.6" y2="355.3" stroke="#222" stroke-width="0.8"/>
<text x="29.0" y="357.6" text-anchor="end" font-family="Liberation Serif, serif" font-weight="bold" font-size="9.1" fill="#000" stroke="#000" stroke-width="0.22" textLength="8.7" lengthAdjust="spacingAndGlyphs">50</text>
<line x1="427.4" y1="206.2" x2="430.4" y2="206.2" stroke="#222" stroke-width="0.8"/>
<text x="433.2" y="208.5" font-family="Liberation Serif, serif" font-weight="bold" font-size="9.1" fill="#000" stroke="#000" stroke-width="0.22" textLength="13.1" lengthAdjust="spacingAndGlyphs">200</text>
<line x1="427.4" y1="239.9" x2="430.4" y2="239.9" stroke="#222" stroke-width="0.8"/>
<text x="433.2" y="242.2" font-family="Liberation Serif, serif" font-weight="bold" font-size="9.1" fill="#000" stroke="#000" stroke-width="0.22" textLength="13.1" lengthAdjust="spacingAndGlyphs">150</text>
<line x1="427.4" y1="273.7" x2="430.4" y2="273.7" stroke="#222" stroke-width="0.8"/>
<text x="433.2" y="276.0" font-family="Liberation Serif, serif" font-weight="bold" font-size="9.1" fill="#000" stroke="#000" stroke-width="0.22" textLength="13.1" lengthAdjust="spacingAndGlyphs">100</text>
<line x1="427.4" y1="307.5" x2="430.4" y2="307.5" stroke="#222" stroke-width="0.8"/>
<text x="433.2" y="309.8" font-family="Liberation Serif, serif" font-weight="bold" font-size="9.1" fill="#000" stroke="#000" stroke-width="0.22" textLength="8.7" lengthAdjust="spacingAndGlyphs">50</text>
<line x1="427.4" y1="341.2" x2="430.4" y2="341.2" stroke="#222" stroke-width="0.8"/>
<text x="433.2" y="343.5" font-family="Liberation Serif, serif" font-weight="bold" font-size="9.1" fill="#000" stroke="#000" stroke-width="0.22" textLength="4.3" lengthAdjust="spacingAndGlyphs">0</text>
<line x1="471.8" y1="193.7" x2="474.8" y2="193.7" stroke="#222" stroke-width="0.8"/>
<text x="477.4" y="196.0" font-family="Liberation Serif, serif" font-weight="bold" font-size="9.1" fill="#000" stroke="#000" stroke-width="0.22" textLength="13.1" lengthAdjust="spacingAndGlyphs">100</text>
<line x1="471.8" y1="213.9" x2="474.8" y2="213.9" stroke="#222" stroke-width="0.8"/>
<text x="477.4" y="216.2" font-family="Liberation Serif, serif" font-weight="bold" font-size="9.1" fill="#000" stroke="#000" stroke-width="0.22" textLength="8.7" lengthAdjust="spacingAndGlyphs">75</text>
<line x1="471.8" y1="234.0" x2="474.8" y2="234.0" stroke="#222" stroke-width="0.8"/>
<text x="477.4" y="236.3" font-family="Liberation Serif, serif" font-weight="bold" font-size="9.1" fill="#000" stroke="#000" stroke-width="0.22" textLength="8.7" lengthAdjust="spacingAndGlyphs">50</text>
<line x1="471.8" y1="254.2" x2="474.8" y2="254.2" stroke="#222" stroke-width="0.8"/>
<text x="477.4" y="256.5" font-family="Liberation Serif, serif" font-weight="bold" font-size="9.1" fill="#000" stroke="#000" stroke-width="0.22" textLength="8.7" lengthAdjust="spacingAndGlyphs">25</text>
<line x1="471.8" y1="274.3" x2="474.8" y2="274.3" stroke="#222" stroke-width="0.8"/>
<text x="477.4" y="276.6" font-family="Liberation Serif, serif" font-weight="bold" font-size="9.1" fill="#000" stroke="#000" stroke-width="0.22" textLength="4.3" lengthAdjust="spacingAndGlyphs">0</text>
<line x1="471.8" y1="294.5" x2="474.8" y2="294.5" stroke="#222" stroke-width="0.8"/>
<text x="477.4" y="296.8" font-family="Liberation Serif, serif" font-weight="bold" font-size="9.1" fill="#000" stroke="#000" stroke-width="0.22" textLength="13.7" lengthAdjust="spacingAndGlyphs">−25</text>
<line x1="471.8" y1="314.7" x2="474.8" y2="314.7" stroke="#222" stroke-width="0.8"/>
<text x="477.4" y="317.0" font-family="Liberation Serif, serif" font-weight="bold" font-size="9.1" fill="#000" stroke="#000" stroke-width="0.22" textLength="13.7" lengthAdjust="spacingAndGlyphs">−50</text>
<line x1="471.8" y1="334.8" x2="474.8" y2="334.8" stroke="#222" stroke-width="0.8"/>
<text x="477.4" y="337.1" font-family="Liberation Serif, serif" font-weight="bold" font-size="9.1" fill="#000" stroke="#000" stroke-width="0.22" textLength="13.7" lengthAdjust="spacingAndGlyphs">−75</text>
<line x1="471.8" y1="355.0" x2="474.8" y2="355.0" stroke="#222" stroke-width="0.8"/>
<text x="477.4" y="357.3" font-family="Liberation Serif, serif" font-weight="bold" font-size="9.1" fill="#000" stroke="#000" stroke-width="0.22" textLength="18.0" lengthAdjust="spacingAndGlyphs">−100</text>
<text transform="translate(11.2,274.4) rotate(-90)" text-anchor="middle" font-family="Liberation Serif, serif" font-weight="bold" font-size="8.9" fill="#f00" stroke="#f00" stroke-width="0.22" textLength="72.8" lengthAdjust="spacingAndGlyphs">displacement/(mm)</text>
<text transform="translate(456.2,274.4) rotate(-90)" text-anchor="middle" font-family="Liberation Serif, serif" font-weight="bold" font-size="8.9" fill="#008000" stroke="#008000" stroke-width="0.22" textLength="113.2" lengthAdjust="spacingAndGlyphs">displacement velocity/(mm/d)</text>
<text transform="translate(504.4,274.4) rotate(-90)" text-anchor="middle" font-family="Liberation Serif, serif" font-weight="bold" font-size="8.9" fill="#ffa500" stroke="#ffa500" stroke-width="0.22" textLength="76.8" lengthAdjust="spacingAndGlyphs">Tangential Angle/(°)</text>
<clipPath id="c2"><rect x="31.6" y="363.8" width="398.8" height="162.1"/></clipPath>
<rect x="50.0" y="363.8" width="287.7" height="162.1" fill="#7cd8b6"/>
<rect x="337.7" y="363.8" width="15.5" height="162.1" fill="#ffe87c"/>
<rect x="353.2" y="363.8" width="59.0" height="162.1" fill="#ff8080"/>
<g clip-path="url(#c2)">
<line x1="31.6" y1="375.0" x2="430.4" y2="375.0" stroke="#f00" stroke-width="1.2" stroke-dasharray="4.1 1.9"/>
<line x1="31.6" y1="378.1" x2="430.4" y2="378.1" stroke="#f00" stroke-width="1.2" stroke-dasharray="4.1 1.9"/>
<line x1="31.6" y1="489.9" x2="430.4" y2="489.9" stroke="#f00" stroke-width="1.2" stroke-dasharray="4.1 1.9"/>
<line x1="31.6" y1="503.3" x2="430.4" y2="503.3" stroke="#f00" stroke-width="1.2" stroke-dasharray="4.1 1.9"/>
<polyline points="50.0,513.6 51.4,512.0 52.8,512.6 54.1,512.1 55.5,511.5 56.9,513.8 58.2,512.8 59.6,512.2 61.0,511.4 62.4,513.4 63.8,511.8 65.1,512.1 66.5,513.1 67.9,513.7 69.2,512.5 70.6,513.6 72.0,508.1 73.4,511.9 74.8,511.9 76.1,511.9 77.5,511.4 78.9,512.6 80.2,511.9 81.6,512.2 83.0,511.9 84.4,513.6 85.8,506.1 87.1,512.1 88.5,513.6 89.9,513.1 91.2,514.3 92.6,509.1 94.0,514.3 95.4,511.4 96.8,510.9 98.1,506.5 99.5,511.7 100.9,513.2 102.2,514.5 103.6,512.8 105.0,513.3 106.4,514.6 107.8,513.0 109.1,511.8 110.5,515.6 111.9,513.6 113.2,515.5 114.6,512.8 116.0,512.6 117.4,511.0 118.8,512.7 120.1,515.6 121.5,512.6 122.9,508.9 124.2,511.5 125.6,513.6 127.0,514.3 128.4,519.3 129.8,515.1 131.1,514.3 132.5,514.4 133.9,507.0 135.2,516.8 136.6,512.8 138.0,511.4 139.4,511.2 140.8,508.8 142.1,515.9 143.5,510.0 144.9,516.8 146.2,515.8 147.6,519.1 149.0,515.3 150.4,515.4 151.8,513.8 153.1,513.4 154.5,512.1 155.9,511.1 157.2,514.4 158.6,513.5 160.0,513.9 161.4,510.3 162.8,515.4 164.1,511.1 165.5,513.0 166.9,512.9 168.2,511.1 169.6,510.9 171.0,513.2 172.4,513.0 173.8,520.4 175.1,513.9 176.5,512.9 177.9,509.8 179.2,511.6 180.6,512.8 182.0,514.2 183.4,513.0 184.8,514.3 186.1,513.1 187.5,511.7 188.9,512.1 190.2,512.1 191.6,514.7 193.0,514.3 194.4,513.7 195.8,509.9 197.1,511.0 198.5,514.2 199.9,515.1 201.2,517.2 202.6,519.4 204.0,517.7 205.4,514.7 206.8,519.6 208.1,518.3 209.5,512.3 210.9,517.2 212.2,513.0 213.6,516.9 215.0,511.6 216.4,511.2 217.8,514.1 219.1,512.3 220.5,510.4 221.9,514.5 223.2,513.4 224.6,515.4 226.0,514.0 227.4,515.1 228.8,512.6 230.1,513.6 231.5,511.9 232.9,512.0 234.2,512.4 235.6,512.6 237.0,513.1 238.4,516.7 239.8,512.7 241.1,512.3 242.5,512.7 243.9,514.0 245.2,513.4 246.6,511.4 248.0,514.4 249.4,511.4 250.8,517.2 252.1,510.2 253.5,509.9 254.9,507.4 256.2,510.7 257.6,509.6 259.0,513.2 260.4,510.2 261.8,511.3 263.1,510.7 264.5,512.4 265.9,512.6 267.2,512.6 268.6,511.2 270.0,511.3 271.4,513.7 272.8,514.0 274.1,512.9 275.5,512.1 276.9,514.4 278.2,512.6 279.6,513.2 281.0,512.7 282.4,513.3 283.8,513.0 285.1,511.7 286.5,511.9 287.9,513.1 289.2,512.7 290.6,512.0 292.0,514.5 293.4,513.1 294.8,513.0 296.1,513.3 297.5,512.8 298.9,511.9 300.2,513.0 301.6,509.8 303.0,513.5 304.4,511.8 305.8,513.5 307.1,510.5 308.5,512.1 309.9,512.6 311.2,511.3 312.6,511.0 314.0,512.4 315.4,514.6 316.8,511.1 318.1,514.9 319.5,512.6 320.9,519.8 322.2,511.3 323.6,514.1 325.0,512.0 326.4,512.0 327.8,511.9 329.1,513.2 330.5,509.6 332.5,510.6 333.6,510.8 334.5,511.8 336.1,509.3 337.1,509.8 338.6,506.4 340.3,504.6 341.8,499.4 342.8,496.0 343.5,497.1 346.0,492.1 346.9,490.3 348.7,487.6 349.9,486.8 350.7,486.4 352.6,485.7 354.1,488.2 355.3,484.6 356.7,482.2 357.8,478.6 359.7,473.2 360.6,467.7 380.4,390.2 381.4,385.8 382.8,385.2 384.1,381.3 385.8,378.1 386.8,377.0 388.4,374.5 389.6,370.9 391.2,368.1 392.2,367.6 394.1,367.0 395.2,365.5" fill="none" stroke="#f00" stroke-width="1.2" stroke-dasharray="4.1 1.9"/>
<path fill="#f00" d="M50.0,510.6L50.7,512.7L52.9,512.7L51.1,514.0L51.8,516.0L50.0,514.8L48.2,516.0L48.9,514.0L47.1,512.7L49.3,512.7ZM51.4,509.0L52.1,511.1L54.2,511.1L52.5,512.4L53.1,514.5L51.4,513.2L49.6,514.5L50.3,512.4L48.5,511.1L50.7,511.1ZM52.8,509.6L53.4,511.7L55.6,511.7L53.8,512.9L54.5,515.0L52.8,513.7L51.0,515.0L51.7,512.9L49.9,511.7L52.1,511.7ZM54.1,509.1L54.8,511.2L57.0,511.2L55.2,512.5L55.9,514.5L54.1,513.3L52.4,514.5L53.0,512.5L51.3,511.2L53.4,511.2ZM55.5,508.5L56.2,510.5L58.4,510.5L56.6,511.8L57.3,513.9L55.5,512.6L53.7,513.9L54.4,511.8L52.6,510.5L54.8,510.5ZM56.9,510.8L57.6,512.8L59.7,512.8L58.0,514.1L58.6,516.2L56.9,514.9L55.1,516.2L55.8,514.1L54.0,512.8L56.2,512.8ZM58.2,509.8L58.9,511.8L61.1,511.9L59.3,513.1L60.0,515.2L58.2,513.9L56.5,515.2L57.2,513.1L55.4,511.9L57.6,511.8ZM59.6,509.2L60.3,511.3L62.5,511.3L60.7,512.6L61.4,514.7L59.6,513.4L57.9,514.7L58.5,512.6L56.8,511.3L58.9,511.3ZM61.0,508.4L61.7,510.4L63.9,510.4L62.1,511.7L62.8,513.8L61.0,512.5L59.2,513.8L59.9,511.7L58.1,510.4L60.3,510.4ZM62.4,510.4L63.1,512.5L65.2,512.5L63.5,513.7L64.1,515.8L62.4,514.5L60.6,515.8L61.3,513.7L59.5,512.5L61.7,512.5ZM63.8,508.8L64.4,510.9L66.6,510.9L64.8,512.2L65.5,514.3L63.8,513.0L62.0,514.3L62.7,512.2L60.9,510.9L63.1,510.9ZM65.1,509.1L65.8,511.2L68.0,511.2L66.2,512.5L66.9,514.6L65.1,513.3L63.4,514.6L64.0,512.5L62.3,511.2L64.4,511.2ZM66.5,510.1L67.2,512.2L69.4,512.2L67.6,513.4L68.3,515.5L66.5,514.2L64.7,515.5L65.4,513.4L63.6,512.2L65.8,512.2ZM67.9,510.7L68.6,512.8L70.7,512.8L69.0,514.0L69.6,516.1L67.9,514.8L66.1,516.1L66.8,514.0L65.0,512.8L67.2,512.8ZM69.2,509.5L69.9,511.5L72.1,511.5L70.3,512.8L71.0,514.9L69.2,513.6L67.5,514.9L68.2,512.8L66.4,511.5L68.6,511.5ZM70.6,510.6L71.3,512.7L73.5,512.7L71.7,514.0L72.4,516.1L70.6,514.8L68.9,516.1L69.5,514.0L67.8,512.7L69.9,512.7ZM72.0,505.1L72.7,507.2L74.9,507.2L73.1,508.5L73.8,510.5L72.0,509.3L70.2,510.5L70.9,508.5L69.1,507.2L71.3,507.2ZM73.4,508.9L74.1,511.0L76.2,511.0L74.5,512.3L75.1,514.3L73.4,513.1L71.6,514.3L72.3,512.3L70.5,511.0L72.7,511.0ZM74.8,508.9L75.4,511.0L77.6,511.0L75.8,512.3L76.5,514.3L74.8,513.1L73.0,514.3L73.7,512.3L71.9,511.0L74.1,511.0ZM76.1,508.9L76.8,511.0L79.0,511.0L77.2,512.3L77.9,514.3L76.1,513.1L74.4,514.3L75.0,512.3L73.3,511.0L75.4,511.0ZM77.5,508.4L78.2,510.5L80.4,510.5L78.6,511.8L79.3,513.8L77.5,512.6L75.7,513.8L76.4,511.8L74.6,510.5L76.8,510.5ZM78.9,509.6L79.6,511.6L81.7,511.7L80.0,512.9L80.6,515.0L78.9,513.7L77.1,515.0L77.8,512.9L76.0,511.7L78.2,511.6ZM80.2,508.9L80.9,510.9L83.1,510.9L81.3,512.2L82.0,514.3L80.2,513.0L78.5,514.3L79.2,512.2L77.4,510.9L79.6,510.9ZM81.6,509.2L82.3,511.3L84.5,511.3L82.7,512.5L83.4,514.6L81.6,513.3L79.9,514.6L80.5,512.5L78.8,511.3L80.9,511.3ZM83.0,508.9L83.7,510.9L85.9,510.9L84.1,512.2L84.8,514.3L83.0,513.0L81.2,514.3L81.9,512.2L80.1,510.9L82.3,510.9ZM84.4,510.6L85.1,512.6L87.2,512.6L85.5,513.9L86.1,516.0L84.4,514.7L82.6,516.0L83.3,513.9L81.5,512.6L83.7,512.6ZM85.8,503.1L86.4,505.1L88.6,505.1L86.8,506.4L87.5,508.5L85.8,507.2L84.0,508.5L84.7,506.4L82.9,505.1L85.1,505.1ZM87.1,509.1L87.8,511.2L90.0,511.2L88.2,512.4L88.9,514.5L87.1,513.2L85.4,514.5L86.0,512.4L84.3,511.2L86.4,511.2ZM88.5,510.6L89.2,512.7L91.4,512.7L89.6,514.0L90.3,516.0L88.5,514.8L86.7,516.0L87.4,514.0L85.6,512.7L87.8,512.7ZM89.9,510.1L90.6,512.2L92.7,512.2L91.0,513.5L91.6,515.6L89.9,514.3L88.1,515.6L88.8,513.5L87.0,512.2L89.2,512.2ZM91.2,511.3L91.9,513.3L94.1,513.3L92.3,514.6L93.0,516.7L91.2,515.4L89.5,516.7L90.2,514.6L88.4,513.3L90.6,513.3ZM92.6,506.1L93.3,508.2L95.5,508.2L93.7,509.5L94.4,511.5L92.6,510.3L90.9,511.5L91.5,509.5L89.8,508.2L91.9,508.2ZM94.0,511.3L94.7,513.4L96.9,513.4L95.1,514.7L95.8,516.7L94.0,515.4L92.2,516.7L92.9,514.7L91.1,513.4L93.3,513.4ZM95.4,508.4L96.1,510.5L98.2,510.5L96.5,511.8L97.1,513.9L95.4,512.6L93.6,513.9L94.3,511.8L92.5,510.5L94.7,510.5ZM96.8,507.9L97.4,510.0L99.6,510.0L97.8,511.3L98.5,513.4L96.8,512.1L95.0,513.4L95.7,511.3L93.9,510.0L96.1,510.0ZM98.1,503.5L98.8,505.6L101.0,505.6L99.2,506.9L99.9,508.9L98.1,507.7L96.4,508.9L97.0,506.9L95.3,505.6L97.4,505.6ZM99.5,508.7L100.2,510.8L102.4,510.8L100.6,512.0L101.3,514.1L99.5,512.8L97.7,514.1L98.4,512.0L96.6,510.8L98.8,510.8ZM100.9,510.2L101.6,512.3L103.7,512.3L102.0,513.6L102.6,515.6L100.9,514.4L99.1,515.6L99.8,513.6L98.0,512.3L100.2,512.3ZM102.2,511.5L102.9,513.6L105.1,513.6L103.3,514.9L104.0,516.9L102.2,515.7L100.5,516.9L101.2,514.9L99.4,513.6L101.6,513.6ZM103.6,509.8L104.3,511.8L106.5,511.8L104.7,513.1L105.4,515.2L103.6,513.9L101.9,515.2L102.5,513.1L100.8,511.8L102.9,511.8ZM105.0,510.3L105.7,512.3L107.9,512.3L106.1,513.6L106.8,515.7L105.0,514.4L103.2,515.7L103.9,513.6L102.1,512.3L104.3,512.3ZM106.4,511.6L107.1,513.6L109.2,513.6L107.5,514.9L108.1,517.0L106.4,515.7L104.6,517.0L105.3,514.9L103.5,513.6L105.7,513.6ZM107.8,510.0L108.4,512.1L110.6,512.1L108.8,513.3L109.5,515.4L107.8,514.1L106.0,515.4L106.7,513.3L104.9,512.1L107.1,512.1ZM109.1,508.8L109.8,510.8L112.0,510.9L110.2,512.1L110.9,514.2L109.1,512.9L107.4,514.2L108.0,512.1L106.3,510.9L108.4,510.8ZM110.5,512.6L111.2,514.7L113.4,514.7L111.6,516.0L112.3,518.1L110.5,516.8L108.7,518.1L109.4,516.0L107.6,514.7L109.8,514.7ZM111.9,510.6L112.6,512.7L114.7,512.7L113.0,513.9L113.6,516.0L111.9,514.7L110.1,516.0L110.8,513.9L109.0,512.7L111.2,512.7ZM113.2,512.5L113.9,514.6L116.1,514.6L114.3,515.9L115.0,518.0L113.2,516.7L111.5,518.0L112.2,515.9L110.4,514.6L112.6,514.6ZM114.6,509.8L115.3,511.8L117.5,511.8L115.7,513.1L116.4,515.2L114.6,513.9L112.9,515.2L113.5,513.1L111.8,511.8L113.9,511.8ZM116.0,509.6L116.7,511.6L118.9,511.7L117.1,512.9L117.8,515.0L116.0,513.7L114.2,515.0L114.9,512.9L113.1,511.7L115.3,511.6ZM117.4,508.0L118.1,510.1L120.2,510.1L118.5,511.4L119.1,513.5L117.4,512.2L115.6,513.5L116.3,511.4L114.5,510.1L116.7,510.1ZM118.8,509.7L119.4,511.8L121.6,511.8L119.8,513.1L120.5,515.1L118.8,513.9L117.0,515.1L117.7,513.1L115.9,511.8L118.1,511.8ZM120.1,512.6L120.8,514.6L123.0,514.6L121.2,515.9L121.9,518.0L120.1,516.7L118.4,518.0L119.0,515.9L117.3,514.6L119.4,514.6ZM121.5,509.6L122.2,511.7L124.4,511.7L122.6,513.0L123.3,515.0L121.5,513.7L119.7,515.0L120.4,513.0L118.6,511.7L120.8,511.7ZM122.9,505.9L123.6,507.9L125.7,507.9L124.0,509.2L124.6,511.3L122.9,510.0L121.1,511.3L121.8,509.2L120.0,507.9L122.2,507.9ZM124.2,508.5L124.9,510.5L127.1,510.5L125.3,511.8L126.0,513.9L124.2,512.6L122.5,513.9L123.2,511.8L121.4,510.5L123.6,510.5ZM125.6,510.6L126.3,512.6L128.5,512.6L126.7,513.9L127.4,516.0L125.6,514.7L123.9,516.0L124.5,513.9L122.8,512.6L124.9,512.6ZM127.0,511.3L127.7,513.3L129.9,513.3L128.1,514.6L128.8,516.7L127.0,515.4L125.2,516.7L125.9,514.6L124.1,513.3L126.3,513.3ZM128.4,516.3L129.1,518.3L131.2,518.4L129.5,519.6L130.1,521.7L128.4,520.4L126.6,521.7L127.3,519.6L125.5,518.4L127.7,518.3ZM129.8,512.1L130.4,514.2L132.6,514.2L130.8,515.5L131.5,517.6L129.8,516.3L128.0,517.6L128.7,515.5L126.9,514.2L129.1,514.2ZM131.1,511.3L131.8,513.4L134.0,513.4L132.2,514.7L132.9,516.8L131.1,515.5L129.4,516.8L130.0,514.7L128.3,513.4L130.4,513.4ZM132.5,511.4L133.2,513.5L135.4,513.5L133.6,514.8L134.3,516.9L132.5,515.6L130.7,516.9L131.4,514.8L129.6,513.5L131.8,513.5ZM133.9,504.0L134.6,506.1L136.7,506.1L135.0,507.4L135.6,509.5L133.9,508.2L132.1,509.5L132.8,507.4L131.0,506.1L133.2,506.1ZM135.2,513.8L135.9,515.9L138.1,515.9L136.3,517.2L137.0,519.3L135.2,518.0L133.5,519.3L134.2,517.2L132.4,515.9L134.6,515.9ZM136.6,509.8L137.3,511.9L139.5,511.9L137.7,513.1L138.4,515.2L136.6,513.9L134.9,515.2L135.5,513.1L133.8,511.9L135.9,511.9ZM138.0,508.4L138.7,510.5L140.9,510.5L139.1,511.8L139.8,513.8L138.0,512.6L136.2,513.8L136.9,511.8L135.1,510.5L137.3,510.5ZM139.4,508.2L140.1,510.2L142.2,510.2L140.5,511.5L141.1,513.6L139.4,512.3L137.6,513.6L138.3,511.5L136.5,510.2L138.7,510.2ZM140.8,505.8L141.4,507.8L143.6,507.8L141.8,509.1L142.5,511.2L140.8,509.9L139.0,511.2L139.7,509.1L137.9,507.8L140.1,507.8ZM142.1,512.9L142.8,515.0L145.0,515.0L143.2,516.3L143.9,518.4L142.1,517.1L140.4,518.4L141.0,516.3L139.3,515.0L141.4,515.0ZM143.5,507.0L144.2,509.1L146.4,509.1L144.6,510.4L145.3,512.5L143.5,511.2L141.7,512.5L142.4,510.4L140.6,509.1L142.8,509.1ZM144.9,513.8L145.6,515.8L147.7,515.8L146.0,517.1L146.6,519.2L144.9,517.9L143.1,519.2L143.8,517.1L142.0,515.8L144.2,515.8ZM146.2,512.8L146.9,514.9L149.1,514.9L147.3,516.2L148.0,518.3L146.2,517.0L144.5,518.3L145.2,516.2L143.4,514.9L145.6,514.9ZM147.6,516.1L148.3,518.2L150.5,518.2L148.7,519.5L149.4,521.6L147.6,520.3L145.9,521.6L146.5,519.5L144.8,518.2L146.9,518.2ZM149.0,512.3L149.7,514.3L151.9,514.3L150.1,515.6L150.8,517.7L149.0,516.4L147.2,517.7L147.9,515.6L146.1,514.3L148.3,514.3ZM150.4,512.4L151.1,514.5L153.2,514.5L151.5,515.7L152.1,517.8L150.4,516.5L148.6,517.8L149.3,515.7L147.5,514.5L149.7,514.5ZM151.8,510.8L152.4,512.9L154.6,512.9L152.8,514.2L153.5,516.2L151.8,514.9L150.0,516.2L150.7,514.2L148.9,512.9L151.1,512.9ZM153.1,510.4L153.8,512.5L156.0,512.5L154.2,513.7L154.9,515.8L153.1,514.5L151.4,515.8L152.0,513.7L150.3,512.5L152.4,512.5ZM154.5,509.1L155.2,511.2L157.4,511.2L155.6,512.5L156.3,514.6L154.5,513.3L152.7,514.6L153.4,512.5L151.6,511.2L153.8,511.2ZM155.9,508.1L156.6,510.1L158.7,510.1L157.0,511.4L157.6,513.5L155.9,512.2L154.1,513.5L154.8,511.4L153.0,510.1L155.2,510.1ZM157.2,511.4L157.9,513.4L160.1,513.4L158.3,514.7L159.0,516.8L157.2,515.5L155.5,516.8L156.2,514.7L154.4,513.4L156.6,513.4ZM158.6,510.5L159.3,512.5L161.5,512.5L159.7,513.8L160.4,515.9L158.6,514.6L156.9,515.9L157.5,513.8L155.8,512.5L157.9,512.5ZM160.0,510.9L160.7,513.0L162.9,513.0L161.1,514.3L161.8,516.3L160.0,515.1L158.2,516.3L158.9,514.3L157.1,513.0L159.3,513.0ZM161.4,507.3L162.1,509.3L164.2,509.3L162.5,510.6L163.1,512.7L161.4,511.4L159.6,512.7L160.3,510.6L158.5,509.3L160.7,509.3ZM162.8,512.4L163.4,514.5L165.6,514.5L163.8,515.8L164.5,517.9L162.8,516.6L161.0,517.9L161.7,515.8L159.9,514.5L162.1,514.5ZM164.1,508.1L164.8,510.2L167.0,510.2L165.2,511.5L165.9,513.6L164.1,512.3L162.4,513.6L163.0,511.5L161.3,510.2L163.4,510.2ZM165.5,510.0L166.2,512.1L168.4,512.1L166.6,513.4L167.3,515.4L165.5,514.1L163.7,515.4L164.4,513.4L162.6,512.1L164.8,512.1ZM166.9,509.9L167.6,512.0L169.7,512.0L168.0,513.3L168.6,515.4L166.9,514.1L165.1,515.4L165.8,513.3L164.0,512.0L166.2,512.0ZM168.2,508.1L168.9,510.2L171.1,510.2L169.3,511.5L170.0,513.5L168.2,512.3L166.5,513.5L167.2,511.5L165.4,510.2L167.6,510.2ZM169.6,507.9L170.3,510.0L172.5,510.0L170.7,511.3L171.4,513.3L169.6,512.1L167.9,513.3L168.5,511.3L166.8,510.0L168.9,510.0ZM171.0,510.2L171.7,512.3L173.9,512.3L172.1,513.5L172.8,515.6L171.0,514.3L169.2,515.6L169.9,513.5L168.1,512.3L170.3,512.3ZM172.4,510.0L173.1,512.1L175.2,512.1L173.5,513.4L174.1,515.5L172.4,514.2L170.6,515.5L171.3,513.4L169.5,512.1L171.7,512.1ZM173.8,517.4L174.4,519.5L176.6,519.5L174.8,520.8L175.5,522.8L173.8,521.6L172.0,522.8L172.7,520.8L170.9,519.5L173.1,519.5ZM175.1,510.9L175.8,513.0L178.0,513.0L176.2,514.3L176.9,516.4L175.1,515.1L173.4,516.4L174.0,514.3L172.3,513.0L174.4,513.0ZM176.5,509.9L177.2,511.9L179.4,511.9L177.6,513.2L178.3,515.3L176.5,514.0L174.7,515.3L175.4,513.2L173.6,511.9L175.8,511.9ZM177.9,506.8L178.6,508.9L180.7,508.9L179.0,510.2L179.6,512.3L177.9,511.0L176.1,512.3L176.8,510.2L175.0,508.9L177.2,508.9ZM179.2,508.6L179.9,510.7L182.1,510.7L180.3,512.0L181.0,514.0L179.2,512.8L177.5,514.0L178.2,512.0L176.4,510.7L178.6,510.7ZM180.6,509.8L181.3,511.9L183.5,511.9L181.7,513.2L182.4,515.3L180.6,514.0L178.9,515.3L179.5,513.2L177.8,511.9L179.9,511.9ZM182.0,511.2L182.7,513.3L184.9,513.3L183.1,514.6L183.8,516.6L182.0,515.4L180.2,516.6L180.9,514.6L179.1,513.3L181.3,513.3ZM183.4,510.0L184.1,512.0L186.2,512.0L184.5,513.3L185.1,515.4L183.4,514.1L181.6,515.4L182.3,513.3L180.5,512.0L182.7,512.0ZM184.8,511.3L185.4,513.3L187.6,513.3L185.8,514.6L186.5,516.7L184.8,515.4L183.0,516.7L183.7,514.6L181.9,513.3L184.1,513.3ZM186.1,510.1L186.8,512.2L189.0,512.2L187.2,513.5L187.9,515.6L186.1,514.3L184.4,515.6L185.0,513.5L183.3,512.2L185.4,512.2ZM187.5,508.7L188.2,510.8L190.4,510.8L188.6,512.0L189.3,514.1L187.5,512.8L185.7,514.1L186.4,512.0L184.6,510.8L186.8,510.8ZM188.9,509.1L189.6,511.2L191.7,511.2L190.0,512.5L190.6,514.6L188.9,513.3L187.1,514.6L187.8,512.5L186.0,511.2L188.2,511.2ZM190.2,509.1L190.9,511.2L193.1,511.2L191.3,512.5L192.0,514.5L190.2,513.3L188.5,514.5L189.2,512.5L187.4,511.2L189.6,511.2ZM191.6,511.7L192.3,513.8L194.5,513.8L192.7,515.1L193.4,517.1L191.6,515.9L189.9,517.1L190.5,515.1L188.8,513.8L190.9,513.8ZM193.0,511.3L193.7,513.3L195.9,513.3L194.1,514.6L194.8,516.7L193.0,515.4L191.2,516.7L191.9,514.6L190.1,513.3L192.3,513.3ZM194.4,510.7L195.1,512.8L197.2,512.8L195.5,514.1L196.1,516.2L194.4,514.9L192.6,516.2L193.3,514.1L191.5,512.8L193.7,512.8ZM195.8,506.9L196.4,508.9L198.6,508.9L196.8,510.2L197.5,512.3L195.8,511.0L194.0,512.3L194.7,510.2L192.9,508.9L195.1,508.9ZM197.1,508.0L197.8,510.0L200.0,510.0L198.2,511.3L198.9,513.4L197.1,512.1L195.4,513.4L196.0,511.3L194.3,510.0L196.4,510.0ZM198.5,511.2L199.2,513.3L201.4,513.3L199.6,514.6L200.3,516.6L198.5,515.4L196.7,516.6L197.4,514.6L195.6,513.3L197.8,513.3ZM199.9,512.1L200.6,514.2L202.7,514.2L201.0,515.5L201.6,517.5L199.9,516.3L198.1,517.5L198.8,515.5L197.0,514.2L199.2,514.2ZM201.2,514.2L201.9,516.2L204.1,516.2L202.3,517.5L203.0,519.6L201.2,518.3L199.5,519.6L200.2,517.5L198.4,516.2L200.6,516.2ZM202.6,516.4L203.3,518.4L205.5,518.4L203.7,519.7L204.4,521.8L202.6,520.5L200.9,521.8L201.5,519.7L199.8,518.4L201.9,518.4ZM204.0,514.7L204.7,516.8L206.9,516.8L205.1,518.1L205.8,520.2L204.0,518.9L202.2,520.2L202.9,518.1L201.1,516.8L203.3,516.8ZM205.4,511.7L206.1,513.7L208.2,513.7L206.5,515.0L207.1,517.1L205.4,515.8L203.6,517.1L204.3,515.0L202.5,513.7L204.7,513.7ZM206.8,516.6L207.4,518.6L209.6,518.6L207.8,519.9L208.5,522.0L206.8,520.7L205.0,522.0L205.7,519.9L203.9,518.6L206.1,518.6ZM208.1,515.3L208.8,517.4L211.0,517.4L209.2,518.6L209.9,520.7L208.1,519.4L206.4,520.7L207.0,518.6L205.3,517.4L207.4,517.4ZM209.5,509.3L210.2,511.4L212.4,511.4L210.6,512.7L211.3,514.7L209.5,513.5L207.7,514.7L208.4,512.7L206.6,511.4L208.8,511.4ZM210.9,514.2L211.6,516.2L213.7,516.3L212.0,517.5L212.6,519.6L210.9,518.3L209.1,519.6L209.8,517.5L208.0,516.3L210.2,516.2ZM212.2,510.0L212.9,512.0L215.1,512.0L213.3,513.3L214.0,515.4L212.2,514.1L210.5,515.4L211.2,513.3L209.4,512.0L211.6,512.0ZM213.6,513.9L214.3,516.0L216.5,516.0L214.7,517.3L215.4,519.3L213.6,518.1L211.9,519.3L212.5,517.3L210.8,516.0L212.9,516.0ZM215.0,508.6L215.7,510.7L217.9,510.7L216.1,512.0L216.8,514.0L215.0,512.8L213.2,514.0L213.9,512.0L212.1,510.7L214.3,510.7ZM216.4,508.2L217.1,510.3L219.2,510.3L217.5,511.6L218.1,513.7L216.4,512.4L214.6,513.7L215.3,511.6L213.5,510.3L215.7,510.3ZM217.8,511.1L218.4,513.2L220.6,513.2L218.8,514.5L219.5,516.6L217.8,515.3L216.0,516.6L216.7,514.5L214.9,513.2L217.1,513.2ZM219.1,509.3L219.8,511.3L222.0,511.3L220.2,512.6L220.9,514.7L219.1,513.4L217.4,514.7L218.0,512.6L216.3,511.3L218.4,511.3ZM220.5,507.4L221.2,509.5L223.4,509.5L221.6,510.8L222.3,512.9L220.5,511.6L218.7,512.9L219.4,510.8L217.6,509.5L219.8,509.5ZM221.9,511.5L222.6,513.5L224.7,513.5L223.0,514.8L223.6,516.9L221.9,515.6L220.1,516.9L220.8,514.8L219.0,513.5L221.2,513.5ZM223.2,510.4L223.9,512.4L226.1,512.4L224.3,513.7L225.0,515.8L223.2,514.5L221.5,515.8L222.2,513.7L220.4,512.4L222.6,512.4ZM224.6,512.4L225.3,514.4L227.5,514.4L225.7,515.7L226.4,517.8L224.6,516.5L222.9,517.8L223.5,515.7L221.8,514.4L223.9,514.4ZM226.0,511.0L226.7,513.1L228.9,513.1L227.1,514.4L227.8,516.5L226.0,515.2L224.2,516.5L224.9,514.4L223.1,513.1L225.3,513.1ZM227.4,512.1L228.1,514.1L230.2,514.1L228.5,515.4L229.1,517.5L227.4,516.2L225.6,517.5L226.3,515.4L224.5,514.1L226.7,514.1ZM228.8,509.6L229.4,511.7L231.6,511.7L229.8,513.0L230.5,515.1L228.8,513.8L227.0,515.1L227.7,513.0L225.9,511.7L228.1,511.7ZM230.1,510.6L230.8,512.7L233.0,512.7L231.2,514.0L231.9,516.0L230.1,514.7L228.4,516.0L229.0,514.0L227.3,512.7L229.4,512.7ZM231.5,508.9L232.2,511.0L234.4,511.0L232.6,512.3L233.3,514.3L231.5,513.1L229.7,514.3L230.4,512.3L228.6,511.0L230.8,511.0ZM232.9,509.0L233.6,511.1L235.7,511.1L234.0,512.4L234.6,514.4L232.9,513.2L231.1,514.4L231.8,512.4L230.0,511.1L232.2,511.1ZM234.2,509.4L234.9,511.5L237.1,511.5L235.3,512.8L236.0,514.8L234.2,513.6L232.5,514.8L233.2,512.8L231.4,511.5L233.6,511.5ZM235.6,509.6L236.3,511.7L238.5,511.7L236.7,513.0L237.4,515.0L235.6,513.7L233.9,515.0L234.5,513.0L232.8,511.7L234.9,511.7ZM237.0,510.1L237.7,512.2L239.9,512.2L238.1,513.5L238.8,515.5L237.0,514.3L235.2,515.5L235.9,513.5L234.1,512.2L236.3,512.2ZM238.4,513.7L239.1,515.8L241.2,515.8L239.5,517.1L240.1,519.2L238.4,517.9L236.6,519.2L237.3,517.1L235.5,515.8L237.7,515.8ZM239.8,509.7L240.4,511.7L242.6,511.7L240.8,513.0L241.5,515.1L239.8,513.8L238.0,515.1L238.7,513.0L236.9,511.7L239.1,511.7ZM241.1,509.3L241.8,511.4L244.0,511.4L242.2,512.7L242.9,514.8L241.1,513.5L239.4,514.8L240.0,512.7L238.3,511.4L240.4,511.4ZM242.5,509.7L243.2,511.7L245.4,511.7L243.6,513.0L244.3,515.1L242.5,513.8L240.7,515.1L241.4,513.0L239.6,511.7L241.8,511.7ZM243.9,511.0L244.6,513.1L246.7,513.1L245.0,514.4L245.6,516.4L243.9,515.1L242.1,516.4L242.8,514.4L241.0,513.1L243.2,513.1ZM245.2,510.4L245.9,512.5L248.1,512.5L246.3,513.8L247.0,515.9L245.2,514.6L243.5,515.9L244.2,513.8L242.4,512.5L244.6,512.5ZM246.6,508.4L247.3,510.5L249.5,510.5L247.7,511.8L248.4,513.9L246.6,512.6L244.9,513.9L245.5,511.8L243.8,510.5L245.9,510.5ZM248.0,511.4L248.7,513.4L250.9,513.4L249.1,514.7L249.8,516.8L248.0,515.5L246.2,516.8L246.9,514.7L245.1,513.4L247.3,513.4ZM249.4,508.4L250.1,510.5L252.2,510.5L250.5,511.8L251.1,513.8L249.4,512.6L247.6,513.8L248.3,511.8L246.5,510.5L248.7,510.5ZM250.8,514.2L251.4,516.3L253.6,516.3L251.8,517.6L252.5,519.6L250.8,518.3L249.0,519.6L249.7,517.6L247.9,516.3L250.1,516.3ZM252.1,507.2L252.8,509.3L255.0,509.3L253.2,510.6L253.9,512.6L252.1,511.4L250.4,512.6L251.0,510.6L249.3,509.3L251.4,509.3ZM253.5,506.9L254.2,508.9L256.4,509.0L254.6,510.2L255.3,512.3L253.5,511.0L251.7,512.3L252.4,510.2L250.6,509.0L252.8,508.9ZM254.9,504.4L255.6,506.4L257.7,506.4L256.0,507.7L256.6,509.8L254.9,508.5L253.1,509.8L253.8,507.7L252.0,506.4L254.2,506.4ZM256.2,507.7L256.9,509.8L259.1,509.8L257.3,511.1L258.0,513.2L256.2,511.9L254.5,513.2L255.2,511.1L253.4,509.8L255.6,509.8ZM257.6,506.6L258.3,508.7L260.5,508.7L258.7,510.0L259.4,512.1L257.6,510.8L255.9,512.1L256.5,510.0L254.8,508.7L256.9,508.7ZM259.0,510.2L259.7,512.3L261.9,512.3L260.1,513.6L260.8,515.6L259.0,514.4L257.2,515.6L257.9,513.6L256.1,512.3L258.3,512.3ZM260.4,507.2L261.1,509.2L263.2,509.2L261.5,510.5L262.1,512.6L260.4,511.3L258.6,512.6L259.3,510.5L257.5,509.2L259.7,509.2ZM261.8,508.3L262.4,510.4L264.6,510.4L262.8,511.7L263.5,513.7L261.8,512.5L260.0,513.7L260.7,511.7L258.9,510.4L261.1,510.4ZM263.1,507.7L263.8,509.8L266.0,509.8L264.2,511.1L264.9,513.1L263.1,511.9L261.4,513.1L262.0,511.1L260.3,509.8L262.4,509.8ZM264.5,509.4L265.2,511.5L267.4,511.5L265.6,512.8L266.3,514.9L264.5,513.6L262.7,514.9L263.4,512.8L261.6,511.5L263.8,511.5ZM265.9,509.6L266.6,511.6L268.7,511.6L267.0,512.9L267.6,515.0L265.9,513.7L264.1,515.0L264.8,512.9L263.0,511.6L265.2,511.6ZM267.2,509.6L267.9,511.7L270.1,511.7L268.3,513.0L269.0,515.0L267.2,513.8L265.5,515.0L266.2,513.0L264.4,511.7L266.6,511.7ZM268.6,508.2L269.3,510.3L271.5,510.3L269.7,511.5L270.4,513.6L268.6,512.3L266.9,513.6L267.5,511.5L265.8,510.3L267.9,510.3ZM270.0,508.3L270.7,510.3L272.9,510.4L271.1,511.6L271.8,513.7L270.0,512.4L268.2,513.7L268.9,511.6L267.1,510.4L269.3,510.3ZM271.4,510.7L272.1,512.8L274.2,512.8L272.5,514.1L273.1,516.2L271.4,514.9L269.6,516.2L270.3,514.1L268.5,512.8L270.7,512.8ZM272.8,511.0L273.4,513.1L275.6,513.1L273.8,514.4L274.5,516.5L272.8,515.2L271.0,516.5L271.7,514.4L269.9,513.1L272.1,513.1ZM274.1,509.9L274.8,512.0L277.0,512.0L275.2,513.3L275.9,515.3L274.1,514.1L272.4,515.3L273.0,513.3L271.3,512.0L273.4,512.0ZM275.5,509.1L276.2,511.1L278.4,511.2L276.6,512.4L277.3,514.5L275.5,513.2L273.7,514.5L274.4,512.4L272.6,511.2L274.8,511.1ZM276.9,511.4L277.6,513.5L279.7,513.5L278.0,514.8L278.6,516.8L276.9,515.6L275.1,516.8L275.8,514.8L274.0,513.5L276.2,513.5ZM278.2,509.6L278.9,511.7L281.1,511.7L279.3,513.0L280.0,515.0L278.2,513.7L276.5,515.0L277.2,513.0L275.4,511.7L277.6,511.7ZM279.6,510.2L280.3,512.2L282.5,512.2L280.7,513.5L281.4,515.6L279.6,514.3L277.9,515.6L278.5,513.5L276.8,512.2L278.9,512.2ZM281.0,509.7L281.7,511.8L283.9,511.8L282.1,513.1L282.8,515.2L281.0,513.9L279.2,515.2L279.9,513.1L278.1,511.8L280.3,511.8ZM282.4,510.3L283.1,512.3L285.2,512.3L283.5,513.6L284.1,515.7L282.4,514.4L280.6,515.7L281.3,513.6L279.5,512.3L281.7,512.3ZM283.8,510.0L284.4,512.1L286.6,512.1L284.8,513.3L285.5,515.4L283.8,514.1L282.0,515.4L282.7,513.3L280.9,512.1L283.1,512.1ZM285.1,508.7L285.8,510.7L288.0,510.7L286.2,512.0L286.9,514.1L285.1,512.8L283.4,514.1L284.0,512.0L282.3,510.7L284.4,510.7ZM286.5,508.9L287.2,510.9L289.4,510.9L287.6,512.2L288.3,514.3L286.5,513.0L284.7,514.3L285.4,512.2L283.6,510.9L285.8,510.9ZM287.9,510.1L288.6,512.2L290.7,512.2L289.0,513.4L289.6,515.5L287.9,514.2L286.1,515.5L286.8,513.4L285.0,512.2L287.2,512.2ZM289.2,509.7L289.9,511.8L292.1,511.8L290.3,513.1L291.0,515.1L289.2,513.9L287.5,515.1L288.2,513.1L286.4,511.8L288.6,511.8ZM290.6,509.0L291.3,511.0L293.5,511.0L291.7,512.3L292.4,514.4L290.6,513.1L288.9,514.4L289.5,512.3L287.8,511.0L289.9,511.0ZM292.0,511.5L292.7,513.6L294.9,513.6L293.1,514.9L293.8,517.0L292.0,515.7L290.2,517.0L290.9,514.9L289.1,513.6L291.3,513.6ZM293.4,510.1L294.1,512.2L296.2,512.2L294.5,513.4L295.1,515.5L293.4,514.2L291.6,515.5L292.3,513.4L290.5,512.2L292.7,512.2ZM294.8,510.0L295.4,512.1L297.6,512.1L295.8,513.4L296.5,515.4L294.8,514.2L293.0,515.4L293.7,513.4L291.9,512.1L294.1,512.1ZM296.1,510.3L296.8,512.4L299.0,512.4L297.2,513.7L297.9,515.7L296.1,514.5L294.4,515.7L295.0,513.7L293.3,512.4L295.4,512.4ZM297.5,509.8L298.2,511.8L300.4,511.8L298.6,513.1L299.3,515.2L297.5,513.9L295.7,515.2L296.4,513.1L294.6,511.8L296.8,511.8ZM298.9,508.9L299.6,511.0L301.7,511.0L300.0,512.3L300.6,514.3L298.9,513.1L297.1,514.3L297.8,512.3L296.0,511.0L298.2,511.0ZM300.2,510.0L300.9,512.0L303.1,512.0L301.3,513.3L302.0,515.4L300.2,514.1L298.5,515.4L299.2,513.3L297.4,512.0L299.6,512.0ZM301.6,506.8L302.3,508.9L304.5,508.9L302.7,510.2L303.4,512.2L301.6,511.0L299.9,512.2L300.5,510.2L298.8,508.9L300.9,508.9ZM303.0,510.5L303.7,512.6L305.9,512.6L304.1,513.9L304.8,516.0L303.0,514.7L301.2,516.0L301.9,513.9L300.1,512.6L302.3,512.6ZM304.4,508.8L305.1,510.8L307.2,510.8L305.5,512.1L306.1,514.2L304.4,512.9L302.6,514.2L303.3,512.1L301.5,510.8L303.7,510.8ZM305.8,510.5L306.4,512.6L308.6,512.6L306.8,513.9L307.5,515.9L305.8,514.6L304.0,515.9L304.7,513.9L302.9,512.6L305.1,512.6ZM307.1,507.5L307.8,509.6L310.0,509.6L308.2,510.9L308.9,513.0L307.1,511.7L305.4,513.0L306.0,510.9L304.3,509.6L306.4,509.6ZM308.5,509.1L309.2,511.2L311.4,511.2L309.6,512.5L310.3,514.5L308.5,513.3L306.7,514.5L307.4,512.5L305.6,511.2L307.8,511.2ZM309.9,509.6L310.6,511.7L312.7,511.7L311.0,513.0L311.6,515.1L309.9,513.8L308.1,515.1L308.8,513.0L307.0,511.7L309.2,511.7ZM311.2,508.3L311.9,510.4L314.1,510.4L312.3,511.7L313.0,513.8L311.2,512.5L309.5,513.8L310.2,511.7L308.4,510.4L310.6,510.4ZM312.6,508.0L313.3,510.1L315.5,510.1L313.7,511.3L314.4,513.4L312.6,512.1L310.9,513.4L311.5,511.3L309.8,510.1L311.9,510.1ZM314.0,509.4L314.7,511.5L316.9,511.5L315.1,512.8L315.8,514.9L314.0,513.6L312.2,514.9L312.9,512.8L311.1,511.5L313.3,511.5ZM315.4,511.6L316.1,513.6L318.2,513.6L316.5,514.9L317.1,517.0L315.4,515.7L313.6,517.0L314.3,514.9L312.5,513.6L314.7,513.6ZM316.8,508.1L317.4,510.2L319.6,510.2L317.8,511.5L318.5,513.6L316.8,512.3L315.0,513.6L315.7,511.5L313.9,510.2L316.1,510.2ZM318.1,511.9L318.8,514.0L321.0,514.0L319.2,515.3L319.9,517.3L318.1,516.0L316.4,517.3L317.0,515.3L315.3,514.0L317.4,514.0ZM319.5,509.6L320.2,511.7L322.4,511.7L320.6,513.0L321.3,515.1L319.5,513.8L317.7,515.1L318.4,513.0L316.6,511.7L318.8,511.7ZM320.9,516.8L321.6,518.9L323.7,518.9L322.0,520.2L322.6,522.2L320.9,521.0L319.1,522.2L319.8,520.2L318.0,518.9L320.2,518.9ZM322.2,508.3L322.9,510.4L325.1,510.4L323.3,511.6L324.0,513.7L322.2,512.4L320.5,513.7L321.2,511.6L319.4,510.4L321.6,510.4ZM323.6,511.1L324.3,513.2L326.5,513.2L324.7,514.4L325.4,516.5L323.6,515.2L321.9,516.5L322.5,514.4L320.8,513.2L322.9,513.2ZM325.0,509.0L325.7,511.1L327.9,511.1L326.1,512.4L326.8,514.4L325.0,513.2L323.2,514.4L323.9,512.4L322.1,511.1L324.3,511.1ZM326.4,509.0L327.1,511.0L329.2,511.0L327.5,512.3L328.1,514.4L326.4,513.1L324.6,514.4L325.3,512.3L323.5,511.0L325.7,511.0ZM327.8,508.9L328.4,510.9L330.6,510.9L328.8,512.2L329.5,514.3L327.8,513.0L326.0,514.3L326.7,512.2L324.9,510.9L327.1,510.9ZM329.1,510.2L329.8,512.3L332.0,512.3L330.2,513.6L330.9,515.6L329.1,514.4L327.4,515.6L328.0,513.6L326.3,512.3L328.4,512.3ZM330.5,506.6L331.2,508.7L333.4,508.7L331.6,510.0L332.3,512.1L330.5,510.8L328.7,512.1L329.4,510.0L327.6,508.7L329.8,508.7ZM332.5,507.6L333.2,509.7L335.4,509.7L333.6,511.0L334.3,513.1L332.5,511.8L330.8,513.1L331.4,511.0L329.7,509.7L331.8,509.7ZM333.6,507.8L334.3,509.9L336.4,509.9L334.7,511.2L335.3,513.3L333.6,512.0L331.8,513.3L332.5,511.2L330.7,509.9L332.9,509.9ZM334.5,508.8L335.1,510.9L337.3,510.9L335.5,512.2L336.2,514.2L334.5,512.9L332.7,514.2L333.4,512.2L331.6,510.9L333.8,510.9ZM336.1,506.3L336.8,508.4L339.0,508.4L337.2,509.7L337.9,511.7L336.1,510.5L334.3,511.7L335.0,509.7L333.3,508.4L335.4,508.4ZM337.1,506.8L337.8,508.9L340.0,508.9L338.2,510.2L338.9,512.3L337.1,511.0L335.4,512.3L336.0,510.2L334.3,508.9L336.5,508.9ZM338.6,503.4L339.3,505.4L341.5,505.4L339.7,506.7L340.4,508.8L338.6,507.5L336.8,508.8L337.5,506.7L335.7,505.4L337.9,505.4ZM340.3,501.6L341.0,503.7L343.1,503.7L341.4,505.0L342.0,507.1L340.3,505.8L338.5,507.1L339.2,505.0L337.4,503.7L339.6,503.7ZM341.8,496.4L342.5,498.5L344.6,498.5L342.9,499.7L343.6,501.8L341.8,500.5L340.0,501.8L340.7,499.7L338.9,498.5L341.1,498.5ZM342.8,493.0L343.5,495.1L345.6,495.1L343.9,496.4L344.5,498.4L342.8,497.2L341.0,498.4L341.7,496.4L339.9,495.1L342.1,495.1ZM343.5,494.1L344.2,496.1L346.3,496.1L344.6,497.4L345.3,499.5L343.5,498.2L341.7,499.5L342.4,497.4L340.6,496.1L342.8,496.1ZM346.0,489.1L346.6,491.2L348.8,491.2L347.1,492.5L347.7,494.6L346.0,493.3L344.2,494.6L344.9,492.5L343.1,491.2L345.3,491.2ZM346.9,487.3L347.5,489.4L349.7,489.4L348.0,490.7L348.6,492.8L346.9,491.5L345.1,492.8L345.8,490.7L344.0,489.4L346.2,489.4ZM348.7,484.6L349.4,486.6L351.6,486.6L349.8,487.9L350.5,490.0L348.7,488.7L346.9,490.0L347.6,487.9L345.9,486.6L348.0,486.6ZM349.9,483.8L350.5,485.9L352.7,485.9L351.0,487.1L351.6,489.2L349.9,487.9L348.1,489.2L348.8,487.1L347.0,485.9L349.2,485.9ZM350.7,483.4L351.4,485.4L353.6,485.4L351.8,486.7L352.5,488.8L350.7,487.5L349.0,488.8L349.7,486.7L347.9,485.4L350.1,485.4ZM352.6,482.7L353.3,484.8L355.5,484.8L353.7,486.1L354.4,488.2L352.6,486.9L350.8,488.2L351.5,486.1L349.7,484.8L351.9,484.8ZM354.1,485.2L354.8,487.3L357.0,487.3L355.2,488.6L355.9,490.7L354.1,489.4L352.4,490.7L353.1,488.6L351.3,487.3L353.5,487.3ZM355.3,481.6L356.0,483.6L358.2,483.6L356.4,484.9L357.1,487.0L355.3,485.7L353.6,487.0L354.2,484.9L352.5,483.6L354.6,483.6ZM356.7,479.2L357.4,481.3L359.5,481.3L357.8,482.6L358.5,484.7L356.7,483.4L354.9,484.7L355.6,482.6L353.8,481.3L356.0,481.3ZM357.8,475.6L358.5,477.6L360.6,477.6L358.9,478.9L359.5,481.0L357.8,479.7L356.0,481.0L356.7,478.9L354.9,477.6L357.1,477.6ZM359.7,470.2L360.4,472.2L362.6,472.2L360.8,473.5L361.5,475.6L359.7,474.3L358.0,475.6L358.6,473.5L356.9,472.2L359.0,472.2ZM360.6,464.7L361.2,466.7L363.4,466.7L361.7,468.0L362.3,470.1L360.6,468.8L358.8,470.1L359.5,468.0L357.7,466.7L359.9,466.7ZM380.4,387.2L381.1,389.2L383.3,389.2L381.5,390.5L382.2,392.6L380.4,391.3L378.7,392.6L379.3,390.5L377.6,389.2L379.7,389.2ZM381.4,382.8L382.1,384.9L384.2,384.9L382.5,386.2L383.1,388.3L381.4,387.0L379.6,388.3L380.3,386.2L378.5,384.9L380.7,384.9ZM382.8,382.2L383.5,384.3L385.7,384.3L383.9,385.6L384.6,387.6L382.8,386.4L381.1,387.6L381.7,385.6L380.0,384.3L382.1,384.3ZM384.1,378.3L384.8,380.4L387.0,380.4L385.2,381.7L385.9,383.8L384.1,382.5L382.4,383.8L383.0,381.7L381.3,380.4L383.4,380.4ZM385.8,375.1L386.4,377.1L388.6,377.1L386.9,378.4L387.5,380.5L385.8,379.2L384.0,380.5L384.7,378.4L382.9,377.1L385.1,377.1ZM386.8,374.0L387.5,376.1L389.7,376.1L387.9,377.4L388.6,379.4L386.8,378.2L385.1,379.4L385.7,377.4L384.0,376.1L386.2,376.1ZM388.4,371.5L389.1,373.6L391.2,373.6L389.5,374.9L390.2,376.9L388.4,375.7L386.6,376.9L387.3,374.9L385.5,373.6L387.7,373.6ZM389.6,367.9L390.3,370.0L392.5,370.0L390.7,371.3L391.4,373.3L389.6,372.1L387.9,373.3L388.5,371.3L386.8,370.0L388.9,370.0ZM391.2,365.1L391.9,367.2L394.0,367.2L392.3,368.5L393.0,370.6L391.2,369.3L389.4,370.6L390.1,368.5L388.3,367.2L390.5,367.2ZM392.2,364.6L392.9,366.7L395.1,366.7L393.3,368.0L394.0,370.1L392.2,368.8L390.4,370.1L391.1,368.0L389.4,366.7L391.5,366.7ZM394.1,364.0L394.7,366.1L396.9,366.1L395.1,367.4L395.8,369.5L394.1,368.2L392.3,369.5L393.0,367.4L391.2,366.1L393.4,366.1ZM395.2,362.5L395.9,364.6L398.1,364.6L396.3,365.9L397.0,368.0L395.2,366.7L393.5,368.0L394.1,365.9L392.4,364.6L394.5,364.6Z"/>
<polyline points="50.0,513.0 80.0,513.0 100.0,512.6 150.0,512.8 196.0,512.6 212.0,514.7 231.0,513.6 243.5,513.0 253.3,510.0 265.0,513.0 278.0,513.4 312.0,513.0 328.4,512.3 335.0,508.7 342.0,499.9 345.5,496.4 348.1,498.2 350.7,495.6 353.4,487.7 356.0,475.5 358.6,456.2 361.2,435.2 380.9,424.8 383.8,399.0 386.6,377.9 389.5,368.4 391.4,365.5 394.3,367.4 396.2,365.5" fill="none" stroke="#0000ff" stroke-width="1.25" stroke-linejoin="round"/>
<polyline points="82.9,510.5 150.0,510.8 200.0,510.5 212.4,513.4 231.0,511.1 243.5,509.3 252.2,506.8 260.1,508.8 270.0,511.1 289.4,512.3 312.4,510.7 328.4,510.0 335.0,506.9 342.0,497.3 345.5,494.3 347.6,495.6 349.9,492.9 352.5,487.7 355.1,475.5 357.7,456.2 360.0,438.7 360.9,432.6 380.9,421.0 382.8,402.8 385.7,377.9 388.5,366.5 390.4,364.6 392.4,366.5 394.3,374.1 395.8,387.5" fill="none" stroke="#008000" stroke-width="1.5" stroke-linejoin="round"/>
<g fill="#008000"><circle cx="83.0" cy="510.5" r="1.35"/><circle cx="84.4" cy="510.5" r="1.35"/><circle cx="85.8" cy="510.5" r="1.35"/><circle cx="87.1" cy="510.5" r="1.35"/><circle cx="88.5" cy="510.5" r="1.35"/><circle cx="89.9" cy="510.5" r="1.35"/><circle cx="91.2" cy="510.5" r="1.35"/><circle cx="92.6" cy="510.5" r="1.35"/><circle cx="94.0" cy="510.5" r="1.35"/><circle cx="95.4" cy="510.6" r="1.35"/><circle cx="96.8" cy="510.6" r="1.35"/><circle cx="98.1" cy="510.6" r="1.35"/><circle cx="99.5" cy="510.6" r="1.35"/><circle cx="100.9" cy="510.6" r="1.35"/><circle cx="102.2" cy="510.6" r="1.35"/><circle cx="103.6" cy="510.6" r="1.35"/><circle cx="105.0" cy="510.6" r="1.35"/><circle cx="106.4" cy="510.6" r="1.35"/><circle cx="107.8" cy="510.6" r="1.35"/><circle cx="109.1" cy="510.6" r="1.35"/><circle cx="110.5" cy="510.6" r="1.35"/><circle cx="111.9" cy="510.6" r="1.35"/><circle cx="113.2" cy="510.6" r="1.35"/><circle cx="114.6" cy="510.6" r="1.35"/><circle cx="116.0" cy="510.6" r="1.35"/><circle cx="117.4" cy="510.7" r="1.35"/><circle cx="118.8" cy="510.7" r="1.35"/><circle cx="120.1" cy="510.7" r="1.35"/><circle cx="121.5" cy="510.7" r="1.35"/><circle cx="122.9" cy="510.7" r="1.35"/><circle cx="124.2" cy="510.7" r="1.35"/><circle cx="125.6" cy="510.7" r="1.35"/><circle cx="127.0" cy="510.7" r="1.35"/><circle cx="128.4" cy="510.7" r="1.35"/><circle cx="129.8" cy="510.7" r="1.35"/><circle cx="131.1" cy="510.7" r="1.35"/><circle cx="132.5" cy="510.7" r="1.35"/><circle cx="133.9" cy="510.7" r="1.35"/><circle cx="135.2" cy="510.7" r="1.35"/><circle cx="136.6" cy="510.7" r="1.35"/><circle cx="138.0" cy="510.7" r="1.35"/><circle cx="139.4" cy="510.8" r="1.35"/><circle cx="140.8" cy="510.8" r="1.35"/><circle cx="142.1" cy="510.8" r="1.35"/><circle cx="143.5" cy="510.8" r="1.35"/><circle cx="144.9" cy="510.8" r="1.35"/><circle cx="146.2" cy="510.8" r="1.35"/><circle cx="147.6" cy="510.8" r="1.35"/><circle cx="149.0" cy="510.8" r="1.35"/><circle cx="150.4" cy="510.8" r="1.35"/><circle cx="151.8" cy="510.8" r="1.35"/><circle cx="153.1" cy="510.8" r="1.35"/><circle cx="154.5" cy="510.8" r="1.35"/><circle cx="155.9" cy="510.8" r="1.35"/><circle cx="157.2" cy="510.8" r="1.35"/><circle cx="158.6" cy="510.7" r="1.35"/><circle cx="160.0" cy="510.7" r="1.35"/><circle cx="161.4" cy="510.7" r="1.35"/><circle cx="162.8" cy="510.7" r="1.35"/><circle cx="164.1" cy="510.7" r="1.35"/><circle cx="165.5" cy="510.7" r="1.35"/><circle cx="166.9" cy="510.7" r="1.35"/><circle cx="168.2" cy="510.7" r="1.35"/><circle cx="169.6" cy="510.7" r="1.35"/><circle cx="171.0" cy="510.7" r="1.35"/><circle cx="172.4" cy="510.7" r="1.35"/><circle cx="173.8" cy="510.7" r="1.35"/><circle cx="175.1" cy="510.6" r="1.35"/><circle cx="176.5" cy="510.6" r="1.35"/><circle cx="177.9" cy="510.6" r="1.35"/><circle cx="179.2" cy="510.6" r="1.35"/><circle cx="180.6" cy="510.6" r="1.35"/><circle cx="182.0" cy="510.6" r="1.35"/><circle cx="183.4" cy="510.6" r="1.35"/><circle cx="184.8" cy="510.6" r="1.35"/><circle cx="186.1" cy="510.6" r="1.35"/><circle cx="187.5" cy="510.6" r="1.35"/><circle cx="188.9" cy="510.6" r="1.35"/><circle cx="190.2" cy="510.6" r="1.35"/><circle cx="191.6" cy="510.6" r="1.35"/><circle cx="193.0" cy="510.5" r="1.35"/><circle cx="194.4" cy="510.5" r="1.35"/><circle cx="195.8" cy="510.5" r="1.35"/><circle cx="197.1" cy="510.5" r="1.35"/><circle cx="198.5" cy="510.5" r="1.35"/><circle cx="199.9" cy="510.5" r="1.35"/><circle cx="201.2" cy="510.8" r="1.35"/><circle cx="202.6" cy="511.1" r="1.35"/><circle cx="204.0" cy="511.4" r="1.35"/><circle cx="205.4" cy="511.8" r="1.35"/><circle cx="206.8" cy="512.1" r="1.35"/><circle cx="208.1" cy="512.4" r="1.35"/><circle cx="209.5" cy="512.7" r="1.35"/><circle cx="210.9" cy="513.0" r="1.35"/><circle cx="212.2" cy="513.4" r="1.35"/><circle cx="213.6" cy="513.2" r="1.35"/><circle cx="215.0" cy="513.1" r="1.35"/><circle cx="216.4" cy="512.9" r="1.35"/><circle cx="217.8" cy="512.7" r="1.35"/><circle cx="219.1" cy="512.6" r="1.35"/><circle cx="220.5" cy="512.4" r="1.35"/><circle cx="221.9" cy="512.2" r="1.35"/><circle cx="223.2" cy="512.1" r="1.35"/><circle cx="224.6" cy="511.9" r="1.35"/><circle cx="226.0" cy="511.7" r="1.35"/><circle cx="227.4" cy="511.5" r="1.35"/><circle cx="228.8" cy="511.4" r="1.35"/><circle cx="230.1" cy="511.2" r="1.35"/><circle cx="231.5" cy="511.0" r="1.35"/><circle cx="232.9" cy="510.8" r="1.35"/><circle cx="234.2" cy="510.6" r="1.35"/><circle cx="235.6" cy="510.4" r="1.35"/><circle cx="237.0" cy="510.2" r="1.35"/><circle cx="238.4" cy="510.0" r="1.35"/><circle cx="239.8" cy="509.8" r="1.35"/><circle cx="241.1" cy="509.6" r="1.35"/><circle cx="242.5" cy="509.4" r="1.35"/><circle cx="243.9" cy="509.2" r="1.35"/><circle cx="245.2" cy="508.8" r="1.35"/><circle cx="246.6" cy="508.4" r="1.35"/><circle cx="248.0" cy="508.0" r="1.35"/><circle cx="249.4" cy="507.6" r="1.35"/><circle cx="250.8" cy="507.2" r="1.35"/><circle cx="252.1" cy="506.8" r="1.35"/><circle cx="253.5" cy="507.1" r="1.35"/><circle cx="254.9" cy="507.5" r="1.35"/><circle cx="256.2" cy="507.8" r="1.35"/><circle cx="257.6" cy="508.2" r="1.35"/><circle cx="259.0" cy="508.5" r="1.35"/><circle cx="260.4" cy="508.9" r="1.35"/><circle cx="261.8" cy="509.2" r="1.35"/><circle cx="263.1" cy="509.5" r="1.35"/><circle cx="264.5" cy="509.8" r="1.35"/><circle cx="265.9" cy="510.1" r="1.35"/><circle cx="267.2" cy="510.5" r="1.35"/><circle cx="268.6" cy="510.8" r="1.35"/><circle cx="270.0" cy="511.1" r="1.35"/><circle cx="271.4" cy="511.2" r="1.35"/><circle cx="272.8" cy="511.3" r="1.35"/><circle cx="274.1" cy="511.4" r="1.35"/><circle cx="275.5" cy="511.4" r="1.35"/><circle cx="276.9" cy="511.5" r="1.35"/><circle cx="278.2" cy="511.6" r="1.35"/><circle cx="279.6" cy="511.7" r="1.35"/><circle cx="281.0" cy="511.8" r="1.35"/><circle cx="282.4" cy="511.9" r="1.35"/><circle cx="283.8" cy="512.0" r="1.35"/><circle cx="285.1" cy="512.0" r="1.35"/><circle cx="286.5" cy="512.1" r="1.35"/><circle cx="287.9" cy="512.2" r="1.35"/><circle cx="289.2" cy="512.3" r="1.35"/><circle cx="290.6" cy="512.2" r="1.35"/><circle cx="292.0" cy="512.1" r="1.35"/><circle cx="293.4" cy="512.0" r="1.35"/><circle cx="294.8" cy="511.9" r="1.35"/><circle cx="296.1" cy="511.8" r="1.35"/><circle cx="297.5" cy="511.7" r="1.35"/><circle cx="298.9" cy="511.6" r="1.35"/><circle cx="300.2" cy="511.5" r="1.35"/><circle cx="301.6" cy="511.4" r="1.35"/><circle cx="303.0" cy="511.4" r="1.35"/><circle cx="304.4" cy="511.3" r="1.35"/><circle cx="305.8" cy="511.2" r="1.35"/><circle cx="307.1" cy="511.1" r="1.35"/><circle cx="308.5" cy="511.0" r="1.35"/><circle cx="309.9" cy="510.9" r="1.35"/><circle cx="311.2" cy="510.8" r="1.35"/><circle cx="312.6" cy="510.7" r="1.35"/><circle cx="314.0" cy="510.6" r="1.35"/><circle cx="315.4" cy="510.6" r="1.35"/><circle cx="316.8" cy="510.5" r="1.35"/><circle cx="318.1" cy="510.4" r="1.35"/><circle cx="319.5" cy="510.4" r="1.35"/><circle cx="320.9" cy="510.3" r="1.35"/><circle cx="322.2" cy="510.3" r="1.35"/><circle cx="323.6" cy="510.2" r="1.35"/><circle cx="325.0" cy="510.1" r="1.35"/><circle cx="326.4" cy="510.1" r="1.35"/><circle cx="327.8" cy="510.0" r="1.35"/><circle cx="329.1" cy="509.7" r="1.35"/><circle cx="330.5" cy="509.0" r="1.35"/><circle cx="331.9" cy="508.4" r="1.35"/><circle cx="333.2" cy="507.7" r="1.35"/><circle cx="334.6" cy="507.1" r="1.35"/><circle cx="336.0" cy="505.5" r="1.35"/><circle cx="337.4" cy="503.6" r="1.35"/><circle cx="338.8" cy="501.8" r="1.35"/><circle cx="340.1" cy="499.9" r="1.35"/><circle cx="341.5" cy="498.0" r="1.35"/><circle cx="342.9" cy="496.6" r="1.35"/><circle cx="344.2" cy="495.4" r="1.35"/><circle cx="345.6" cy="494.4" r="1.35"/><circle cx="347.0" cy="495.2" r="1.35"/><circle cx="348.4" cy="494.7" r="1.35"/><circle cx="349.8" cy="493.1" r="1.35"/><circle cx="351.1" cy="490.4" r="1.35"/><circle cx="352.5" cy="487.7" r="1.35"/><circle cx="353.9" cy="481.2" r="1.35"/><circle cx="355.2" cy="474.4" r="1.35"/><circle cx="356.6" cy="464.2" r="1.35"/><circle cx="358.0" cy="453.9" r="1.35"/><circle cx="359.4" cy="443.5" r="1.35"/><circle cx="381.4" cy="416.4" r="1.35"/><circle cx="382.8" cy="403.3" r="1.35"/><circle cx="384.1" cy="391.4" r="1.35"/><circle cx="385.5" cy="379.6" r="1.35"/><circle cx="386.9" cy="373.1" r="1.35"/><circle cx="388.2" cy="367.5" r="1.35"/><circle cx="389.6" cy="365.4" r="1.35"/><circle cx="391.0" cy="365.2" r="1.35"/><circle cx="392.4" cy="366.5" r="1.35"/><circle cx="393.8" cy="371.9" r="1.35"/><circle cx="395.1" cy="381.5" r="1.35"/></g>
<polyline points="82.9,373.3 85.8,379.5 86.3,440.0 87.5,510.8 89.7,516.6 98.9,516.6 100.1,460.0 100.5,397.9 101.4,470.0 102.4,510.8 104.2,515.4 107.0,512.0 109.3,516.6 118.4,515.9 120.7,480.0 121.2,372.6 150.5,372.6 152.4,378.4 154.7,374.9 155.1,440.0 155.7,517.6 159.2,517.6 160.3,509.7 161.5,517.6 186.7,517.6 188.6,480.0 189.0,373.8 190.8,400.0 191.6,517.6 193.6,480.0 194.0,372.6 201.6,376.0 205.0,374.2 208.5,373.3 209.2,440.0 210.8,513.1 212.4,517.6 213.3,480.0 214.2,405.4 214.7,480.0 215.4,516.6 233.8,516.6 235.4,500.0 236.0,466.4 237.2,373.8 248.7,371.9 264.7,371.9 268.2,373.8 268.8,436.9 269.3,500.0 270.6,517.6 294.0,517.6 296.3,515.4 297.5,383.0 299.7,373.3 304.3,374.2 305.9,379.5 308.2,375.6 310.1,440.0 311.0,508.5 312.4,440.0 314.2,374.2 317.0,372.6 326.1,373.3 328.0,440.0 328.9,517.6 330.3,440.0 331.9,374.9 335.3,372.6 346.8,371.9 375.0,371.8 397.1,372.6" fill="none" stroke="#ffa500" stroke-width="1.5" stroke-linejoin="round"/>
<g fill="#ffa500"><circle cx="83.0" cy="373.5" r="1.55"/><circle cx="84.4" cy="376.5" r="1.55"/><circle cx="85.8" cy="379.4" r="1.55"/><circle cx="87.1" cy="488.7" r="1.55"/><circle cx="88.5" cy="513.4" r="1.55"/><circle cx="89.9" cy="516.6" r="1.55"/><circle cx="91.2" cy="516.6" r="1.55"/><circle cx="92.6" cy="516.6" r="1.55"/><circle cx="94.0" cy="516.6" r="1.55"/><circle cx="95.4" cy="516.6" r="1.55"/><circle cx="96.8" cy="516.6" r="1.55"/><circle cx="98.1" cy="516.6" r="1.55"/><circle cx="99.5" cy="488.3" r="1.55"/><circle cx="100.9" cy="427.9" r="1.55"/><circle cx="102.2" cy="504.7" r="1.55"/><circle cx="103.6" cy="513.9" r="1.55"/><circle cx="105.0" cy="514.4" r="1.55"/><circle cx="106.4" cy="512.8" r="1.55"/><circle cx="107.8" cy="513.5" r="1.55"/><circle cx="109.1" cy="516.2" r="1.55"/><circle cx="110.5" cy="516.5" r="1.55"/><circle cx="111.9" cy="516.4" r="1.55"/><circle cx="113.2" cy="516.3" r="1.55"/><circle cx="114.6" cy="516.2" r="1.55"/><circle cx="116.0" cy="516.1" r="1.55"/><circle cx="117.4" cy="516.0" r="1.55"/><circle cx="118.8" cy="510.4" r="1.55"/><circle cx="120.1" cy="489.0" r="1.55"/><circle cx="121.5" cy="372.6" r="1.55"/><circle cx="122.9" cy="372.6" r="1.55"/><circle cx="124.2" cy="372.6" r="1.55"/><circle cx="125.6" cy="372.6" r="1.55"/><circle cx="127.0" cy="372.6" r="1.55"/><circle cx="128.4" cy="372.6" r="1.55"/><circle cx="129.8" cy="372.6" r="1.55"/><circle cx="131.1" cy="372.6" r="1.55"/><circle cx="132.5" cy="372.6" r="1.55"/><circle cx="133.9" cy="372.6" r="1.55"/><circle cx="135.2" cy="372.6" r="1.55"/><circle cx="136.6" cy="372.6" r="1.55"/><circle cx="138.0" cy="372.6" r="1.55"/><circle cx="139.4" cy="372.6" r="1.55"/><circle cx="140.8" cy="372.6" r="1.55"/><circle cx="142.1" cy="372.6" r="1.55"/><circle cx="143.5" cy="372.6" r="1.55"/><circle cx="144.9" cy="372.6" r="1.55"/><circle cx="146.2" cy="372.6" r="1.55"/><circle cx="147.6" cy="372.6" r="1.55"/><circle cx="149.0" cy="372.6" r="1.55"/><circle cx="150.4" cy="372.6" r="1.55"/><circle cx="151.8" cy="376.4" r="1.55"/><circle cx="153.1" cy="377.3" r="1.55"/><circle cx="154.5" cy="375.2" r="1.55"/><circle cx="155.9" cy="517.6" r="1.55"/><circle cx="157.2" cy="517.6" r="1.55"/><circle cx="158.6" cy="517.6" r="1.55"/><circle cx="160.0" cy="511.9" r="1.55"/><circle cx="161.4" cy="516.8" r="1.55"/><circle cx="162.8" cy="517.6" r="1.55"/><circle cx="164.1" cy="517.6" r="1.55"/><circle cx="165.5" cy="517.6" r="1.55"/><circle cx="166.9" cy="517.6" r="1.55"/><circle cx="168.2" cy="517.6" r="1.55"/><circle cx="169.6" cy="517.6" r="1.55"/><circle cx="171.0" cy="517.6" r="1.55"/><circle cx="172.4" cy="517.6" r="1.55"/><circle cx="173.8" cy="517.6" r="1.55"/><circle cx="175.1" cy="517.6" r="1.55"/><circle cx="176.5" cy="517.6" r="1.55"/><circle cx="177.9" cy="517.6" r="1.55"/><circle cx="179.2" cy="517.6" r="1.55"/><circle cx="180.6" cy="517.6" r="1.55"/><circle cx="182.0" cy="517.6" r="1.55"/><circle cx="183.4" cy="517.6" r="1.55"/><circle cx="184.8" cy="517.6" r="1.55"/><circle cx="186.1" cy="517.6" r="1.55"/><circle cx="187.5" cy="501.8" r="1.55"/><circle cx="188.9" cy="407.0" r="1.55"/><circle cx="190.2" cy="392.0" r="1.55"/><circle cx="191.6" cy="517.1" r="1.55"/><circle cx="193.0" cy="491.3" r="1.55"/><circle cx="194.4" cy="372.8" r="1.55"/><circle cx="195.8" cy="373.4" r="1.55"/><circle cx="197.1" cy="374.0" r="1.55"/><circle cx="198.5" cy="374.6" r="1.55"/><circle cx="199.9" cy="375.2" r="1.55"/><circle cx="201.2" cy="375.8" r="1.55"/><circle cx="202.6" cy="375.5" r="1.55"/><circle cx="204.0" cy="374.7" r="1.55"/><circle cx="205.4" cy="374.1" r="1.55"/><circle cx="206.8" cy="373.8" r="1.55"/><circle cx="208.1" cy="373.4" r="1.55"/><circle cx="209.5" cy="453.7" r="1.55"/><circle cx="210.9" cy="513.3" r="1.55"/><circle cx="212.2" cy="517.2" r="1.55"/><circle cx="213.6" cy="453.1" r="1.55"/><circle cx="215.0" cy="495.7" r="1.55"/><circle cx="216.4" cy="516.6" r="1.55"/><circle cx="217.8" cy="516.6" r="1.55"/><circle cx="219.1" cy="516.6" r="1.55"/><circle cx="220.5" cy="516.6" r="1.55"/><circle cx="221.9" cy="516.6" r="1.55"/><circle cx="223.2" cy="516.6" r="1.55"/><circle cx="224.6" cy="516.6" r="1.55"/><circle cx="226.0" cy="516.6" r="1.55"/><circle cx="227.4" cy="516.6" r="1.55"/><circle cx="228.8" cy="516.6" r="1.55"/><circle cx="230.1" cy="516.6" r="1.55"/><circle cx="231.5" cy="516.6" r="1.55"/><circle cx="232.9" cy="516.6" r="1.55"/><circle cx="234.2" cy="511.9" r="1.55"/><circle cx="235.6" cy="487.4" r="1.55"/><circle cx="237.0" cy="389.2" r="1.55"/><circle cx="238.4" cy="373.6" r="1.55"/><circle cx="239.8" cy="373.4" r="1.55"/><circle cx="241.1" cy="373.2" r="1.55"/><circle cx="242.5" cy="372.9" r="1.55"/><circle cx="243.9" cy="372.7" r="1.55"/><circle cx="245.2" cy="372.5" r="1.55"/><circle cx="246.6" cy="372.2" r="1.55"/><circle cx="248.0" cy="372.0" r="1.55"/><circle cx="249.4" cy="371.9" r="1.55"/><circle cx="250.8" cy="371.9" r="1.55"/><circle cx="252.1" cy="371.9" r="1.55"/><circle cx="253.5" cy="371.9" r="1.55"/><circle cx="254.9" cy="371.9" r="1.55"/><circle cx="256.2" cy="371.9" r="1.55"/><circle cx="257.6" cy="371.9" r="1.55"/><circle cx="259.0" cy="371.9" r="1.55"/><circle cx="260.4" cy="371.9" r="1.55"/><circle cx="261.8" cy="371.9" r="1.55"/><circle cx="263.1" cy="371.9" r="1.55"/><circle cx="264.5" cy="371.9" r="1.55"/><circle cx="265.9" cy="372.5" r="1.55"/><circle cx="267.2" cy="373.3" r="1.55"/><circle cx="268.6" cy="418.5" r="1.55"/><circle cx="270.0" cy="509.5" r="1.55"/><circle cx="271.4" cy="517.6" r="1.55"/><circle cx="272.8" cy="517.6" r="1.55"/><circle cx="274.1" cy="517.6" r="1.55"/><circle cx="275.5" cy="517.6" r="1.55"/><circle cx="276.9" cy="517.6" r="1.55"/><circle cx="278.2" cy="517.6" r="1.55"/><circle cx="279.6" cy="517.6" r="1.55"/><circle cx="281.0" cy="517.6" r="1.55"/><circle cx="282.4" cy="517.6" r="1.55"/><circle cx="283.8" cy="517.6" r="1.55"/><circle cx="285.1" cy="517.6" r="1.55"/><circle cx="286.5" cy="517.6" r="1.55"/><circle cx="287.9" cy="517.6" r="1.55"/><circle cx="289.2" cy="517.6" r="1.55"/><circle cx="290.6" cy="517.6" r="1.55"/><circle cx="292.0" cy="517.6" r="1.55"/><circle cx="293.4" cy="517.6" r="1.55"/><circle cx="294.8" cy="516.9" r="1.55"/><circle cx="296.1" cy="515.6" r="1.55"/><circle cx="297.5" cy="383.0" r="1.55"/><circle cx="298.9" cy="376.9" r="1.55"/><circle cx="300.2" cy="373.4" r="1.55"/><circle cx="301.6" cy="373.7" r="1.55"/><circle cx="303.0" cy="373.9" r="1.55"/><circle cx="304.4" cy="374.4" r="1.55"/><circle cx="305.8" cy="379.0" r="1.55"/><circle cx="307.1" cy="377.4" r="1.55"/><circle cx="308.5" cy="385.8" r="1.55"/><circle cx="309.9" cy="432.4" r="1.55"/><circle cx="311.2" cy="496.3" r="1.55"/><circle cx="312.6" cy="431.8" r="1.55"/><circle cx="314.0" cy="381.5" r="1.55"/><circle cx="315.4" cy="373.5" r="1.55"/><circle cx="316.8" cy="372.7" r="1.55"/><circle cx="318.1" cy="372.7" r="1.55"/><circle cx="319.5" cy="372.8" r="1.55"/><circle cx="320.9" cy="372.9" r="1.55"/><circle cx="322.2" cy="373.0" r="1.55"/><circle cx="323.6" cy="373.1" r="1.55"/><circle cx="325.0" cy="373.2" r="1.55"/><circle cx="326.4" cy="383.0" r="1.55"/><circle cx="327.8" cy="431.2" r="1.55"/><circle cx="329.1" cy="505.1" r="1.55"/><circle cx="330.5" cy="431.9" r="1.55"/><circle cx="331.9" cy="375.9" r="1.55"/><circle cx="333.2" cy="374.0" r="1.55"/><circle cx="334.6" cy="373.1" r="1.55"/><circle cx="336.0" cy="372.6" r="1.55"/><circle cx="337.4" cy="372.5" r="1.55"/><circle cx="338.8" cy="372.4" r="1.55"/><circle cx="340.1" cy="372.3" r="1.55"/><circle cx="341.5" cy="372.2" r="1.55"/><circle cx="342.9" cy="372.1" r="1.55"/><circle cx="344.2" cy="372.1" r="1.55"/><circle cx="345.6" cy="372.0" r="1.55"/><circle cx="347.0" cy="371.9" r="1.55"/><circle cx="348.4" cy="371.9" r="1.55"/><circle cx="349.8" cy="371.9" r="1.55"/><circle cx="351.1" cy="371.9" r="1.55"/><circle cx="352.5" cy="371.9" r="1.55"/><circle cx="353.9" cy="371.9" r="1.55"/><circle cx="355.2" cy="371.9" r="1.55"/><circle cx="356.6" cy="371.9" r="1.55"/><circle cx="358.0" cy="371.9" r="1.55"/><circle cx="359.4" cy="371.9" r="1.55"/><circle cx="360.8" cy="371.9" r="1.55"/><circle cx="362.1" cy="371.8" r="1.55"/><circle cx="363.5" cy="371.8" r="1.55"/><circle cx="364.9" cy="371.8" r="1.55"/><circle cx="366.2" cy="371.8" r="1.55"/><circle cx="367.6" cy="371.8" r="1.55"/><circle cx="369.0" cy="371.8" r="1.55"/><circle cx="370.4" cy="371.8" r="1.55"/><circle cx="371.8" cy="371.8" r="1.55"/><circle cx="373.1" cy="371.8" r="1.55"/><circle cx="374.5" cy="371.8" r="1.55"/><circle cx="375.9" cy="371.8" r="1.55"/><circle cx="377.2" cy="371.9" r="1.55"/><circle cx="378.6" cy="371.9" r="1.55"/><circle cx="380.0" cy="372.0" r="1.55"/><circle cx="381.4" cy="372.0" r="1.55"/><circle cx="382.8" cy="372.1" r="1.55"/><circle cx="384.1" cy="372.1" r="1.55"/><circle cx="385.5" cy="372.2" r="1.55"/><circle cx="386.9" cy="372.2" r="1.55"/><circle cx="388.2" cy="372.3" r="1.55"/><circle cx="389.6" cy="372.3" r="1.55"/><circle cx="391.0" cy="372.4" r="1.55"/><circle cx="392.4" cy="372.4" r="1.55"/><circle cx="393.8" cy="372.5" r="1.55"/><circle cx="395.1" cy="372.5" r="1.55"/><circle cx="396.5" cy="372.6" r="1.55"/></g>
</g>
<text x="50.2" y="374.8" font-family="Liberation Serif, serif" font-weight="bold" font-size="9.1" fill="#000" stroke="#000" stroke-width="0.22" textLength="22.1" lengthAdjust="spacingAndGlyphs">θ=85°</text>
<text x="50.2" y="389.5" font-family="Liberation Serif, serif" font-weight="bold" font-size="9.1" fill="#000" stroke="#000" stroke-width="0.22" textLength="22.1" lengthAdjust="spacingAndGlyphs">θ=80°</text>
<text x="50.2" y="490.4" font-family="Liberation Serif, serif" font-weight="bold" font-size="9.1" fill="#000" stroke="#000" stroke-width="0.22" textLength="39.8" lengthAdjust="spacingAndGlyphs">v=30mm/d</text>
<text x="50.2" y="504.0" font-family="Liberation Serif, serif" font-weight="bold" font-size="9.1" fill="#000" stroke="#000" stroke-width="0.22" textLength="39.8" lengthAdjust="spacingAndGlyphs">v=10mm/d</text>
<text x="46.7" y="439.4" font-family="Liberation Serif, serif" font-weight="bold" font-size="13.8" fill="#f00" textLength="31.2" lengthAdjust="spacingAndGlyphs">NN08</text>
<text x="35.6" y="517.9" font-family="Liberation Serif, serif" font-size="16.8" fill="#000">(c)</text>
<rect x="31.6" y="363.8" width="398.8" height="162.1" fill="none" stroke="#222" stroke-width="0.9"/>
<line x1="474.8" y1="363.8" x2="474.8" y2="525.9" stroke="#222" stroke-width="0.9"/>
<line x1="31.6" y1="364.0" x2="34.6" y2="364.0" stroke="#222" stroke-width="0.8"/>
<text x="29.0" y="366.3" text-anchor="end" font-family="Liberation Serif, serif" font-weight="bold" font-size="9.1" fill="#000" stroke="#000" stroke-width="0.22" textLength="13.1" lengthAdjust="spacingAndGlyphs">250</text>
<line x1="31.6" y1="382.0" x2="34.6" y2="382.0" stroke="#222" stroke-width="0.8"/>
<text x="29.0" y="384.3" text-anchor="end" font-family="Liberation Serif, serif" font-weight="bold" font-size="9.1" fill="#000" stroke="#000" stroke-width="0.22" textLength="13.1" lengthAdjust="spacingAndGlyphs">225</text>
<line x1="31.6" y1="400.0" x2="34.6" y2="400.0" stroke="#222" stroke-width="0.8"/>
<text x="29.0" y="402.3" text-anchor="end" font-family="Liberation Serif, serif" font-weight="bold" font-size="9.1" fill="#000" stroke="#000" stroke-width="0.22" textLength="13.1" lengthAdjust="spacingAndGlyphs">200</text>
<line x1="31.6" y1="418.0" x2="34.6" y2="418.0" stroke="#222" stroke-width="0.8"/>
<text x="29.0" y="420.3" text-anchor="end" font-family="Liberation Serif, serif" font-weight="bold" font-size="9.1" fill="#000" stroke="#000" stroke-width="0.22" textLength="13.1" lengthAdjust="spacingAndGlyphs">175</text>
<line x1="31.6" y1="436.0" x2="34.6" y2="436.0" stroke="#222" stroke-width="0.8"/>
<text x="29.0" y="438.3" text-anchor="end" font-family="Liberation Serif, serif" font-weight="bold" font-size="9.1" fill="#000" stroke="#000" stroke-width="0.22" textLength="13.1" lengthAdjust="spacingAndGlyphs">150</text>
<line x1="31.6" y1="454.0" x2="34.6" y2="454.0" stroke="#222" stroke-width="0.8"/>
<text x="29.0" y="456.3" text-anchor="end" font-family="Liberation Serif, serif" font-weight="bold" font-size="9.1" fill="#000" stroke="#000" stroke-width="0.22" textLength="13.1" lengthAdjust="spacingAndGlyphs">125</text>
<line x1="31.6" y1="472.0" x2="34.6" y2="472.0" stroke="#222" stroke-width="0.8"/>
<text x="29.0" y="474.3" text-anchor="end" font-family="Liberation Serif, serif" font-weight="bold" font-size="9.1" fill="#000" stroke="#000" stroke-width="0.22" textLength="13.1" lengthAdjust="spacingAndGlyphs">100</text>
<line x1="31.6" y1="489.9" x2="34.6" y2="489.9" stroke="#222" stroke-width="0.8"/>
<text x="29.0" y="492.2" text-anchor="end" font-family="Liberation Serif, serif" font-weight="bold" font-size="9.1" fill="#000" stroke="#000" stroke-width="0.22" textLength="8.7" lengthAdjust="spacingAndGlyphs">75</text>
<line x1="31.6" y1="507.9" x2="34.6" y2="507.9" stroke="#222" stroke-width="0.8"/>
<text x="29.0" y="510.2" text-anchor="end" font-family="Liberation Serif, serif" font-weight="bold" font-size="9.1" fill="#000" stroke="#000" stroke-width="0.22" textLength="8.7" lengthAdjust="spacingAndGlyphs">50</text>
<line x1="31.6" y1="525.8" x2="34.6" y2="525.8" stroke="#222" stroke-width="0.8"/>
<text x="29.0" y="528.1" text-anchor="end" font-family="Liberation Serif, serif" font-weight="bold" font-size="9.1" fill="#000" stroke="#000" stroke-width="0.22" textLength="8.7" lengthAdjust="spacingAndGlyphs">25</text>
<line x1="427.4" y1="363.8" x2="430.4" y2="363.8" stroke="#222" stroke-width="0.8"/>
<text x="433.2" y="366.1" font-family="Liberation Serif, serif" font-weight="bold" font-size="9.1" fill="#000" stroke="#000" stroke-width="0.22" textLength="13.1" lengthAdjust="spacingAndGlyphs">200</text>
<line x1="427.4" y1="382.1" x2="430.4" y2="382.1" stroke="#222" stroke-width="0.8"/>
<text x="433.2" y="384.4" font-family="Liberation Serif, serif" font-weight="bold" font-size="9.1" fill="#000" stroke="#000" stroke-width="0.22" textLength="13.1" lengthAdjust="spacingAndGlyphs">175</text>
<line x1="427.4" y1="400.5" x2="430.4" y2="400.5" stroke="#222" stroke-width="0.8"/>
<text x="433.2" y="402.8" font-family="Liberation Serif, serif" font-weight="bold" font-size="9.1" fill="#000" stroke="#000" stroke-width="0.22" textLength="13.1" lengthAdjust="spacingAndGlyphs">150</text>
<line x1="427.4" y1="418.8" x2="430.4" y2="418.8" stroke="#222" stroke-width="0.8"/>
<text x="433.2" y="421.1" font-family="Liberation Serif, serif" font-weight="bold" font-size="9.1" fill="#000" stroke="#000" stroke-width="0.22" textLength="13.1" lengthAdjust="spacingAndGlyphs">125</text>
<line x1="427.4" y1="437.1" x2="430.4" y2="437.1" stroke="#222" stroke-width="0.8"/>
<text x="433.2" y="439.4" font-family="Liberation Serif, serif" font-weight="bold" font-size="9.1" fill="#000" stroke="#000" stroke-width="0.22" textLength="13.1" lengthAdjust="spacingAndGlyphs">100</text>
<line x1="427.4" y1="455.4" x2="430.4" y2="455.4" stroke="#222" stroke-width="0.8"/>
<text x="433.2" y="457.7" font-family="Liberation Serif, serif" font-weight="bold" font-size="9.1" fill="#000" stroke="#000" stroke-width="0.22" textLength="8.7" lengthAdjust="spacingAndGlyphs">75</text>
<line x1="427.4" y1="473.8" x2="430.4" y2="473.8" stroke="#222" stroke-width="0.8"/>
<text x="433.2" y="476.1" font-family="Liberation Serif, serif" font-weight="bold" font-size="9.1" fill="#000" stroke="#000" stroke-width="0.22" textLength="8.7" lengthAdjust="spacingAndGlyphs">50</text>
<line x1="427.4" y1="492.2" x2="430.4" y2="492.2" stroke="#222" stroke-width="0.8"/>
<text x="433.2" y="494.5" font-family="Liberation Serif, serif" font-weight="bold" font-size="9.1" fill="#000" stroke="#000" stroke-width="0.22" textLength="8.7" lengthAdjust="spacingAndGlyphs">25</text>
<line x1="427.4" y1="510.5" x2="430.4" y2="510.5" stroke="#222" stroke-width="0.8"/>
<text x="433.2" y="512.8" font-family="Liberation Serif, serif" font-weight="bold" font-size="9.1" fill="#000" stroke="#000" stroke-width="0.22" textLength="4.3" lengthAdjust="spacingAndGlyphs">0</text>
<line x1="471.8" y1="364.0" x2="474.8" y2="364.0" stroke="#222" stroke-width="0.8"/>
<text x="477.4" y="366.3" font-family="Liberation Serif, serif" font-weight="bold" font-size="9.1" fill="#000" stroke="#000" stroke-width="0.22" textLength="13.1" lengthAdjust="spacingAndGlyphs">100</text>
<line x1="471.8" y1="384.2" x2="474.8" y2="384.2" stroke="#222" stroke-width="0.8"/>
<text x="477.4" y="386.5" font-family="Liberation Serif, serif" font-weight="bold" font-size="9.1" fill="#000" stroke="#000" stroke-width="0.22" textLength="8.7" lengthAdjust="spacingAndGlyphs">75</text>
<line x1="471.8" y1="404.4" x2="474.8" y2="404.4" stroke="#222" stroke-width="0.8"/>
<text x="477.4" y="406.7" font-family="Liberation Serif, serif" font-weight="bold" font-size="9.1" fill="#000" stroke="#000" stroke-width="0.22" textLength="8.7" lengthAdjust="spacingAndGlyphs">50</text>
<line x1="471.8" y1="424.6" x2="474.8" y2="424.6" stroke="#222" stroke-width="0.8"/>
<text x="477.4" y="426.9" font-family="Liberation Serif, serif" font-weight="bold" font-size="9.1" fill="#000" stroke="#000" stroke-width="0.22" textLength="8.7" lengthAdjust="spacingAndGlyphs">25</text>
<line x1="471.8" y1="444.8" x2="474.8" y2="444.8" stroke="#222" stroke-width="0.8"/>
<text x="477.4" y="447.1" font-family="Liberation Serif, serif" font-weight="bold" font-size="9.1" fill="#000" stroke="#000" stroke-width="0.22" textLength="4.3" lengthAdjust="spacingAndGlyphs">0</text>
<line x1="471.8" y1="464.9" x2="474.8" y2="464.9" stroke="#222" stroke-width="0.8"/>
<text x="477.4" y="467.2" font-family="Liberation Serif, serif" font-weight="bold" font-size="9.1" fill="#000" stroke="#000" stroke-width="0.22" textLength="13.7" lengthAdjust="spacingAndGlyphs">−25</text>
<line x1="471.8" y1="485.1" x2="474.8" y2="485.1" stroke="#222" stroke-width="0.8"/>
<text x="477.4" y="487.4" font-family="Liberation Serif, serif" font-weight="bold" font-size="9.1" fill="#000" stroke="#000" stroke-width="0.22" textLength="13.7" lengthAdjust="spacingAndGlyphs">−50</text>
<line x1="471.8" y1="505.3" x2="474.8" y2="505.3" stroke="#222" stroke-width="0.8"/>
<text x="477.4" y="507.6" font-family="Liberation Serif, serif" font-weight="bold" font-size="9.1" fill="#000" stroke="#000" stroke-width="0.22" textLength="13.7" lengthAdjust="spacingAndGlyphs">−75</text>
<line x1="471.8" y1="525.5" x2="474.8" y2="525.5" stroke="#222" stroke-width="0.8"/>
<text x="477.4" y="527.8" font-family="Liberation Serif, serif" font-weight="bold" font-size="9.1" fill="#000" stroke="#000" stroke-width="0.22" textLength="18.0" lengthAdjust="spacingAndGlyphs">−100</text>
<text transform="translate(11.2,444.9) rotate(-90)" text-anchor="middle" font-family="Liberation Serif, serif" font-weight="bold" font-size="8.9" fill="#f00" stroke="#f00" stroke-width="0.22" textLength="72.8" lengthAdjust="spacingAndGlyphs">displacement/(mm)</text>
<text transform="translate(456.2,444.9) rotate(-90)" text-anchor="middle" font-family="Liberation Serif, serif" font-weight="bold" font-size="8.9" fill="#008000" stroke="#008000" stroke-width="0.22" textLength="113.2" lengthAdjust="spacingAndGlyphs">displacement velocity/(mm/d)</text>
<text transform="translate(504.4,444.9) rotate(-90)" text-anchor="middle" font-family="Liberation Serif, serif" font-weight="bold" font-size="8.9" fill="#ffa500" stroke="#ffa500" stroke-width="0.22" textLength="76.8" lengthAdjust="spacingAndGlyphs">Tangential Angle/(°)</text>
<line x1="82.9" y1="523.5" x2="82.9" y2="525.9" stroke="#222" stroke-width="0.8"/>
<line x1="82.9" y1="363.8" x2="82.9" y2="366.2" stroke="#222" stroke-width="0.8"/>
<text x="83.2" y="534.7" text-anchor="middle" font-family="Liberation Serif, serif" font-weight="bold" font-size="9.1" fill="#000" stroke="#000" stroke-width="0.22" textLength="40.6" lengthAdjust="spacingAndGlyphs">2021-10-02</text>
<line x1="148.9" y1="523.5" x2="148.9" y2="525.9" stroke="#222" stroke-width="0.8"/>
<line x1="148.9" y1="363.8" x2="148.9" y2="366.2" stroke="#222" stroke-width="0.8"/>
<text x="149.2" y="534.7" text-anchor="middle" font-family="Liberation Serif, serif" font-weight="bold" font-size="9.1" fill="#000" stroke="#000" stroke-width="0.22" textLength="40.6" lengthAdjust="spacingAndGlyphs">2021-10-04</text>
<line x1="214.9" y1="523.5" x2="214.9" y2="525.9" stroke="#222" stroke-width="0.8"/>
<line x1="214.9" y1="363.8" x2="214.9" y2="366.2" stroke="#222" stroke-width="0.8"/>
<text x="215.2" y="534.7" text-anchor="middle" font-family="Liberation Serif, serif" font-weight="bold" font-size="9.1" fill="#000" stroke="#000" stroke-width="0.22" textLength="40.6" lengthAdjust="spacingAndGlyphs">2021-10-06</text>
<line x1="280.9" y1="523.5" x2="280.9" y2="525.9" stroke="#222" stroke-width="0.8"/>
<line x1="280.9" y1="363.8" x2="280.9" y2="366.2" stroke="#222" stroke-width="0.8"/>
<text x="281.2" y="534.7" text-anchor="middle" font-family="Liberation Serif, serif" font-weight="bold" font-size="9.1" fill="#000" stroke="#000" stroke-width="0.22" textLength="40.6" lengthAdjust="spacingAndGlyphs">2021-10-08</text>
<line x1="346.9" y1="523.5" x2="346.9" y2="525.9" stroke="#222" stroke-width="0.8"/>
<line x1="346.9" y1="363.8" x2="346.9" y2="366.2" stroke="#222" stroke-width="0.8"/>
<text x="347.2" y="534.7" text-anchor="middle" font-family="Liberation Serif, serif" font-weight="bold" font-size="9.1" fill="#000" stroke="#000" stroke-width="0.22" textLength="40.6" lengthAdjust="spacingAndGlyphs">2021-10-10</text>
<line x1="412.9" y1="523.5" x2="412.9" y2="525.9" stroke="#222" stroke-width="0.8"/>
<line x1="412.9" y1="363.8" x2="412.9" y2="366.2" stroke="#222" stroke-width="0.8"/>
<text x="413.2" y="534.7" text-anchor="middle" font-family="Liberation Serif, serif" font-weight="bold" font-size="9.1" fill="#000" stroke="#000" stroke-width="0.22" textLength="40.6" lengthAdjust="spacingAndGlyphs">2021-10-12</text>
<text x="231.3" y="545.0" text-anchor="middle" font-family="Liberation Serif, serif" font-weight="bold" font-size="9.1" fill="#000" stroke="#000" stroke-width="0.22" textLength="85.1" lengthAdjust="spacingAndGlyphs">Time(YYYY-MM-DD)</text>
</svg>
</body></html>
